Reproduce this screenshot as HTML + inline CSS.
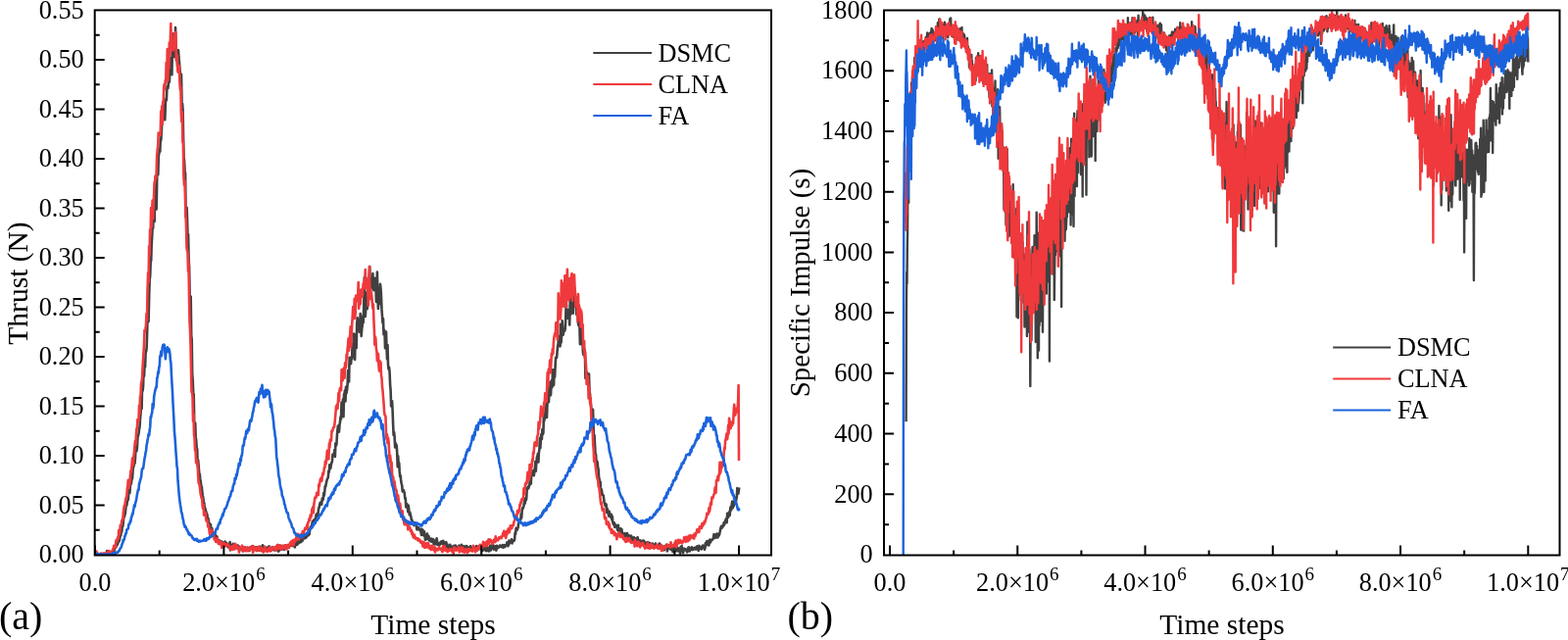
<!DOCTYPE html><html><head><meta charset="utf-8"><title>Thrust and specific impulse</title><style>html,body{margin:0;padding:0;background:#fff;width:1600px;height:653px;overflow:hidden}svg text{font-family:'Liberation Serif','Times New Roman',serif;fill:#000}</style></head><body>
<svg width="1600" height="653" viewBox="0 0 1600 653" style="position:absolute;left:0;top:0">
<rect x="0" y="0" width="1600" height="653" fill="#fff"/>
<defs><clipPath id="cl"><rect x="96.7" y="10.4" width="690.3" height="556.1"/></clipPath><clipPath id="cr"><rect x="902.0" y="10.5" width="689.5" height="556.0"/></clipPath></defs>
<g clip-path="url(#cl)"><polyline points="97.0,566.0 97.5,566.0 98.0,566.0 98.5,564.1 99.0,566.0 99.5,566.0 100.0,565.1 100.5,566.0 101.0,566.0 101.6,566.0 102.1,565.9 102.6,566.0 103.1,564.8 103.6,565.6 104.1,565.1 104.6,566.0 105.1,565.8 105.6,565.4 106.1,564.7 106.6,565.4 107.1,565.7 107.6,565.3 108.1,566.0 108.6,566.0 109.1,562.1 109.7,562.9 110.2,565.3 110.7,564.9 111.2,565.7 111.7,565.6 112.2,566.0 112.7,563.3 113.2,564.1 113.7,566.0 114.2,565.0 114.7,564.7 115.2,562.6 115.7,560.3 116.2,562.4 116.7,561.5 117.2,558.5 117.7,558.4 118.3,558.4 118.8,555.9 119.3,556.3 119.8,555.5 120.3,554.1 120.8,551.8 121.3,552.5 121.8,551.6 122.3,548.9 122.8,544.9 123.3,546.2 123.8,541.5 124.3,542.3 124.8,536.1 125.3,537.1 125.8,532.9 126.3,527.9 126.9,527.1 127.4,525.2 127.9,523.1 128.4,517.7 128.9,514.8 129.4,515.4 129.9,511.2 130.4,510.5 130.9,509.3 131.4,500.2 131.9,502.8 132.4,503.0 132.9,495.8 133.4,491.5 133.9,493.6 134.4,489.1 135.0,488.3 135.5,481.1 136.0,474.0 136.5,475.8 137.0,471.4 137.5,472.9 138.0,467.4 138.5,456.7 139.0,454.8 139.5,460.1 140.0,455.5 140.5,445.7 141.0,444.6 141.5,442.5 142.0,438.3 142.5,435.8 143.0,427.9 143.6,421.0 144.1,414.9 144.6,417.0 145.1,392.0 145.6,398.8 146.1,394.0 146.6,378.5 147.1,383.8 147.6,370.5 148.1,374.4 148.6,360.2 149.1,358.7 149.6,355.5 150.1,341.0 150.6,322.3 151.1,308.1 151.6,328.0 152.2,301.4 152.7,285.3 153.2,281.5 153.7,267.2 154.2,266.0 154.7,249.3 155.2,241.4 155.7,228.1 156.2,232.6 156.7,213.4 157.2,223.3 157.7,225.9 158.2,193.4 158.7,179.7 159.2,202.1 159.7,213.4 160.3,176.0 160.8,167.8 161.3,178.3 161.8,159.4 162.3,156.6 162.8,152.3 163.3,154.8 163.8,141.3 164.3,142.8 164.8,134.3 165.3,124.2 165.8,124.9 166.3,115.4 166.8,120.2 167.3,106.4 167.8,102.9 168.3,122.2 168.9,104.8 169.4,100.9 169.9,102.1 170.4,89.9 170.9,87.8 171.4,90.1 171.9,85.3 172.4,69.0 172.9,83.7 173.4,67.7 173.9,60.5 174.4,59.0 174.9,60.9 175.4,76.3 175.9,48.3 176.4,57.6 176.9,34.4 177.5,51.6 178.0,58.2 178.5,46.9 179.0,28.0 179.5,49.4 180.0,53.3 180.5,53.7 181.0,67.6 181.5,54.7 182.0,51.1 182.5,59.0 183.0,63.7 183.5,70.7 184.0,75.7 184.5,84.6 185.0,75.7 185.6,107.4 186.1,105.8 186.6,112.5 187.1,141.4 187.6,159.9 188.1,164.7 188.6,174.4 189.1,177.5 189.6,221.1 190.1,218.7 190.6,211.9 191.1,225.6 191.6,243.6 192.1,239.1 192.6,265.5 193.1,271.9 193.6,301.1 194.2,315.0 194.7,302.5 195.2,342.0 195.7,346.6 196.2,381.5 196.7,387.3 197.2,401.0 197.7,402.3 198.2,428.8 198.7,438.7 199.2,431.6 199.7,446.5 200.2,448.7 200.7,457.5 201.2,458.0 201.7,475.6 202.2,469.5 202.8,476.6 203.3,483.7 203.8,483.7 204.3,488.9 204.8,491.5 205.3,496.2 205.8,496.4 206.3,501.6 206.8,505.2 207.3,507.7 207.8,511.5 208.3,513.2 208.8,518.3 209.3,518.2 209.8,520.9 210.3,522.0 210.9,524.4 211.4,524.9 211.9,530.4 212.4,528.9 212.9,531.2 213.4,534.8 213.9,536.3 214.4,536.3 214.9,534.9 215.4,540.3 215.9,541.5 216.4,539.1 216.9,544.9 217.4,542.9 217.9,543.1 218.4,546.6 218.9,546.9 219.5,548.5 220.0,545.7 220.5,552.9 221.0,548.8 221.5,547.5 222.0,552.1 222.5,550.7 223.0,552.4 223.5,551.5 224.0,552.4 224.5,553.4 225.0,551.9 225.5,554.8 226.0,553.1 226.5,552.7 227.0,554.6 227.5,555.5 228.1,554.6 228.6,553.7 229.1,556.6 229.6,552.6 230.1,554.1 230.6,556.1 231.1,553.9 231.6,556.4 232.1,556.4 232.6,558.2 233.1,555.2 233.6,555.9 234.1,557.6 234.6,553.1 235.1,561.5 235.6,556.3 236.2,556.3 236.7,559.1 237.2,557.7 237.7,554.9 238.2,559.0 238.7,559.5 239.2,557.5 239.7,557.8 240.2,559.2 240.7,557.0 241.2,559.3 241.7,559.0 242.2,557.6 242.7,556.5 243.2,558.5 243.7,557.5 244.2,560.6 244.8,559.3 245.3,560.4 245.8,559.4 246.3,559.7 246.8,558.0 247.3,560.4 247.8,562.3 248.3,558.9 248.8,558.5 249.3,559.2 249.8,558.7 250.3,558.4 250.8,559.8 251.3,559.1 251.8,561.9 252.3,559.6 252.8,560.1 253.4,561.1 253.9,559.2 254.4,562.0 254.9,558.7 255.4,558.4 255.9,559.1 256.4,559.5 256.9,557.5 257.4,559.7 257.9,557.1 258.4,562.0 258.9,559.7 259.4,558.8 259.9,558.4 260.4,559.2 260.9,559.5 261.5,558.2 262.0,558.4 262.5,559.6 263.0,559.0 263.5,561.4 264.0,561.7 264.5,559.9 265.0,560.7 265.5,557.8 266.0,560.9 266.5,559.9 267.0,560.7 267.5,562.5 268.0,556.3 268.5,560.4 269.0,558.2 269.5,560.9 270.1,557.9 270.6,559.2 271.1,560.3 271.6,561.0 272.1,560.1 272.6,558.7 273.1,559.1 273.6,561.4 274.1,560.0 274.6,557.3 275.1,561.3 275.6,560.7 276.1,561.4 276.6,559.4 277.1,561.3 277.6,558.2 278.1,560.8 278.7,559.1 279.2,560.9 279.7,561.4 280.2,558.6 280.7,559.6 281.2,559.7 281.7,561.5 282.2,560.7 282.7,557.5 283.2,560.1 283.7,560.5 284.2,562.7 284.7,556.4 285.2,558.2 285.7,561.1 286.2,556.7 286.8,556.8 287.3,559.5 287.8,560.3 288.3,557.4 288.8,559.3 289.3,558.5 289.8,560.7 290.3,558.1 290.8,559.6 291.3,556.4 291.8,557.4 292.3,557.5 292.8,559.4 293.3,558.4 293.8,556.0 294.3,558.3 294.8,558.3 295.4,556.7 295.9,556.3 296.4,556.3 296.9,553.6 297.4,556.6 297.9,556.6 298.4,554.5 298.9,557.1 299.4,553.2 299.9,554.4 300.4,554.3 300.9,558.4 301.4,551.9 301.9,555.4 302.4,555.8 302.9,554.6 303.4,555.7 304.0,551.5 304.5,548.9 305.0,554.1 305.5,550.2 306.0,551.5 306.5,549.5 307.0,553.3 307.5,552.6 308.0,549.3 308.5,552.0 309.0,550.1 309.5,549.2 310.0,549.1 310.5,548.2 311.0,549.3 311.5,548.2 312.1,546.3 312.6,548.4 313.1,544.4 313.6,545.5 314.1,545.0 314.6,546.4 315.1,541.3 315.6,545.3 316.1,540.9 316.6,539.2 317.1,537.4 317.6,538.5 318.1,536.4 318.6,533.3 319.1,532.0 319.6,531.9 320.1,530.5 320.7,532.6 321.2,532.0 321.7,529.8 322.2,527.5 322.7,524.6 323.2,524.4 323.7,524.9 324.2,526.4 324.7,522.4 325.2,518.4 325.7,517.8 326.2,515.1 326.7,512.9 327.2,512.8 327.7,512.1 328.2,514.7 328.8,508.4 329.3,510.2 329.8,509.6 330.3,503.1 330.8,505.7 331.3,501.3 331.8,496.1 332.3,496.3 332.8,493.6 333.3,490.9 333.8,489.1 334.3,488.2 334.8,487.2 335.3,480.7 335.8,481.7 336.3,474.2 336.8,478.4 337.4,477.7 337.9,473.8 338.4,472.1 338.9,471.1 339.4,463.9 339.9,463.3 340.4,464.1 340.9,463.9 341.4,459.0 341.9,465.9 342.4,452.2 342.9,454.8 343.4,453.6 343.9,444.7 344.4,438.9 344.9,434.5 345.4,438.5 346.0,440.6 346.5,433.8 347.0,430.8 347.5,425.3 348.0,427.7 348.5,410.7 349.0,421.0 349.5,417.5 350.0,407.3 350.5,425.1 351.0,402.3 351.5,401.6 352.0,398.3 352.5,409.5 353.0,394.7 353.5,401.4 354.1,397.9 354.6,392.3 355.1,378.0 355.6,378.1 356.1,389.4 356.6,365.0 357.1,364.8 357.6,366.8 358.1,371.2 358.6,364.8 359.1,366.2 359.6,350.7 360.1,363.7 360.6,359.0 361.1,340.6 361.6,362.8 362.1,366.9 362.7,341.5 363.2,346.2 363.7,355.0 364.2,330.4 364.7,324.4 365.2,328.1 365.7,332.3 366.2,330.5 366.7,338.6 367.2,334.2 367.7,320.0 368.2,333.6 368.7,343.0 369.2,335.8 369.7,332.5 370.2,322.5 370.7,329.1 371.3,310.4 371.8,283.0 372.3,314.2 372.8,323.0 373.3,314.9 373.8,298.7 374.3,307.4 374.8,314.9 375.3,291.5 375.8,294.3 376.3,290.2 376.8,281.5 377.3,272.0 377.8,301.4 378.3,294.3 378.8,287.6 379.4,284.5 379.9,287.3 380.4,279.0 380.9,294.2 381.4,296.2 381.9,296.1 382.4,283.8 382.9,290.3 383.4,289.2 383.9,307.9 384.4,294.6 384.9,277.5 385.4,299.7 385.9,314.9 386.4,306.2 386.9,310.3 387.4,305.2 388.0,289.8 388.5,294.1 389.0,302.3 389.5,315.4 390.0,322.5 390.5,329.3 391.0,325.1 391.5,341.1 392.0,336.5 392.5,338.4 393.0,355.2 393.5,346.0 394.0,338.5 394.5,353.6 395.0,366.2 395.5,352.1 396.0,371.8 396.6,376.9 397.1,374.8 397.6,380.2 398.1,392.5 398.6,397.8 399.1,414.3 399.6,414.7 400.1,409.3 400.6,419.0 401.1,432.7 401.6,443.9 402.1,441.1 402.6,445.1 403.1,456.5 403.6,452.1 404.1,454.9 404.7,454.2 405.2,461.8 405.7,476.1 406.2,465.4 406.7,474.2 407.2,472.2 407.7,480.7 408.2,486.2 408.7,485.1 409.2,491.0 409.7,493.6 410.2,495.2 410.7,501.5 411.2,500.9 411.7,500.0 412.2,501.2 412.7,502.9 413.3,508.5 413.8,508.3 414.3,517.4 414.8,517.5 415.3,514.2 415.8,515.7 416.3,522.2 416.8,515.7 417.3,520.6 417.8,525.3 418.3,522.8 418.8,525.2 419.3,526.9 419.8,530.2 420.3,530.4 420.8,532.0 421.3,533.4 421.9,533.2 422.4,536.1 422.9,533.6 423.4,533.2 423.9,533.4 424.4,534.4 424.9,537.0 425.4,540.4 425.9,539.6 426.4,539.0 426.9,538.2 427.4,540.1 427.9,540.9 428.4,541.1 428.9,539.8 429.4,542.4 430.0,546.0 430.5,539.8 431.0,544.3 431.5,540.9 432.0,546.1 432.5,544.6 433.0,542.3 433.5,547.1 434.0,550.9 434.5,547.9 435.0,550.3 435.5,548.2 436.0,544.5 436.5,550.0 437.0,548.6 437.5,546.9 438.0,551.5 438.6,550.9 439.1,549.6 439.6,552.5 440.1,549.5 440.6,552.7 441.1,550.0 441.6,553.0 442.1,550.2 442.6,555.2 443.1,553.2 443.6,555.5 444.1,551.6 444.6,552.5 445.1,555.1 445.6,549.3 446.1,552.0 446.6,556.0 447.2,555.2 447.7,556.3 448.2,554.2 448.7,555.9 449.2,553.8 449.7,552.9 450.2,552.5 450.7,554.6 451.2,554.8 451.7,554.8 452.2,551.8 452.7,552.8 453.2,555.4 453.7,557.0 454.2,555.6 454.7,555.3 455.3,553.0 455.8,560.4 456.3,555.2 456.8,560.0 457.3,559.9 457.8,557.8 458.3,556.5 458.8,557.7 459.3,555.7 459.8,558.1 460.3,557.7 460.8,558.7 461.3,559.4 461.8,560.8 462.3,557.3 462.8,559.8 463.3,556.8 463.9,556.7 464.4,557.2 464.9,556.6 465.4,559.9 465.9,559.9 466.4,560.5 466.9,558.4 467.4,558.9 467.9,557.6 468.4,556.7 468.9,559.3 469.4,559.1 469.9,556.9 470.4,559.7 470.9,555.9 471.4,558.5 471.9,557.8 472.5,558.0 473.0,557.2 473.5,560.5 474.0,560.0 474.5,561.0 475.0,559.3 475.5,557.1 476.0,558.6 476.5,557.3 477.0,560.0 477.5,561.3 478.0,559.9 478.5,558.5 479.0,558.9 479.5,559.8 480.0,557.2 480.6,559.8 481.1,559.9 481.6,558.8 482.1,559.0 482.6,560.0 483.1,558.4 483.6,558.5 484.1,561.0 484.6,560.2 485.1,562.5 485.6,558.3 486.1,557.1 486.6,561.4 487.1,561.4 487.6,558.8 488.1,557.6 488.6,559.9 489.2,557.2 489.7,559.4 490.2,556.5 490.7,559.6 491.2,556.6 491.7,559.6 492.2,562.3 492.7,559.5 493.2,561.1 493.7,558.8 494.2,558.4 494.7,557.4 495.2,561.5 495.7,559.7 496.2,562.3 496.7,557.8 497.2,559.3 497.8,559.7 498.3,561.8 498.8,562.5 499.3,558.5 499.8,557.6 500.3,556.6 500.8,561.5 501.3,559.2 501.8,558.2 502.3,559.1 502.8,555.2 503.3,556.3 503.8,560.6 504.3,559.6 504.8,559.2 505.3,557.2 505.9,559.8 506.4,561.6 506.9,556.7 507.4,558.6 507.9,557.8 508.4,559.0 508.9,558.3 509.4,557.9 509.9,556.5 510.4,557.8 510.9,556.7 511.4,557.3 511.9,557.3 512.4,558.4 512.9,556.1 513.4,556.4 513.9,558.6 514.5,556.2 515.0,556.0 515.5,557.7 516.0,556.5 516.5,556.0 517.0,556.0 517.5,553.2 518.0,555.9 518.5,557.2 519.0,555.6 519.5,551.5 520.0,554.5 520.5,552.0 521.0,552.8 521.5,553.1 522.0,550.2 522.5,554.4 523.1,551.3 523.6,552.3 524.1,551.3 524.6,551.7 525.1,550.3 525.6,543.5 526.1,545.0 526.6,538.7 527.1,540.6 527.6,540.9 528.1,539.5 528.6,538.5 529.1,533.8 529.6,533.4 530.1,531.1 530.6,531.5 531.2,530.3 531.7,524.3 532.2,528.5 532.7,521.0 533.2,518.2 533.7,518.5 534.2,517.1 534.7,514.8 535.2,510.0 535.7,513.7 536.2,508.2 536.7,510.5 537.2,508.5 537.7,499.3 538.2,498.3 538.7,496.5 539.2,498.5 539.8,496.1 540.3,495.1 540.8,489.9 541.3,492.1 541.8,493.6 542.3,482.8 542.8,484.9 543.3,484.7 543.8,481.7 544.3,479.8 544.8,485.2 545.3,481.9 545.8,478.7 546.3,471.0 546.8,480.7 547.3,471.8 547.9,466.3 548.4,465.3 548.9,462.8 549.4,471.4 549.9,461.5 550.4,458.7 550.9,446.9 551.4,456.9 551.9,446.2 552.4,443.0 552.9,448.1 553.4,438.1 553.9,443.2 554.4,441.6 554.9,423.9 555.4,429.1 555.9,418.6 556.5,423.6 557.0,426.1 557.5,410.9 558.0,425.9 558.5,411.5 559.0,403.9 559.5,407.4 560.0,410.3 560.5,394.9 561.0,400.7 561.5,389.7 562.0,403.2 562.5,394.2 563.0,388.0 563.5,394.9 564.0,377.3 564.5,380.5 565.1,393.0 565.6,377.1 566.1,384.6 566.6,373.9 567.1,364.8 567.6,365.3 568.1,364.9 568.6,358.7 569.1,353.1 569.6,350.8 570.1,343.1 570.6,352.8 571.1,352.7 571.6,353.3 572.1,331.0 572.6,349.4 573.2,340.8 573.7,327.4 574.2,337.7 574.7,341.7 575.2,337.5 575.7,337.4 576.2,337.6 576.7,335.5 577.2,326.0 577.7,306.9 578.2,316.6 578.7,324.6 579.2,316.0 579.7,324.7 580.2,324.4 580.7,316.6 581.2,331.5 581.8,304.9 582.3,320.8 582.8,307.7 583.3,304.9 583.8,317.1 584.3,306.4 584.8,319.7 585.3,301.8 585.8,312.7 586.3,305.0 586.8,310.7 587.3,309.8 587.8,303.9 588.3,320.9 588.8,305.9 589.3,310.3 589.8,328.8 590.4,332.0 590.9,332.1 591.4,332.2 591.9,351.2 592.4,325.4 592.9,332.3 593.4,333.3 593.9,351.3 594.4,349.7 594.9,359.4 595.4,361.9 595.9,356.7 596.4,356.3 596.9,359.2 597.4,386.0 597.9,381.1 598.5,382.3 599.0,379.8 599.5,384.4 600.0,387.1 600.5,390.8 601.0,381.5 601.5,399.7 602.0,401.5 602.5,409.2 603.0,412.7 603.5,420.5 604.0,420.0 604.5,429.3 605.0,417.9 605.5,431.4 606.0,451.3 606.5,444.1 607.1,454.7 607.6,464.8 608.1,463.7 608.6,474.6 609.1,470.2 609.6,471.7 610.1,476.9 610.6,478.8 611.1,487.2 611.6,488.8 612.1,493.4 612.6,491.6 613.1,504.7 613.6,499.0 614.1,501.3 614.6,504.7 615.1,504.7 615.7,505.5 616.2,509.2 616.7,513.0 617.2,514.0 617.7,516.2 618.2,514.0 618.7,515.0 619.2,522.9 619.7,519.0 620.2,522.0 620.7,523.8 621.2,526.6 621.7,521.9 622.2,525.0 622.7,526.3 623.2,527.7 623.8,524.7 624.3,530.3 624.8,526.8 625.3,533.1 625.8,534.5 626.3,535.5 626.8,533.2 627.3,537.8 627.8,535.4 628.3,535.5 628.8,536.6 629.3,537.5 629.8,539.7 630.3,541.2 630.8,535.7 631.3,539.6 631.8,543.2 632.4,542.1 632.9,543.2 633.4,539.3 633.9,545.0 634.4,540.0 634.9,544.1 635.4,546.9 635.9,548.3 636.4,545.8 636.9,546.9 637.4,544.1 637.9,544.7 638.4,548.4 638.9,546.3 639.4,546.3 639.9,544.0 640.4,547.4 641.0,548.6 641.5,546.0 642.0,546.8 642.5,551.2 643.0,548.7 643.5,548.0 644.0,546.6 644.5,547.8 645.0,548.7 645.5,552.1 646.0,548.5 646.5,553.3 647.0,548.3 647.5,549.6 648.0,552.1 648.5,550.2 649.1,549.3 649.6,550.8 650.1,552.1 650.6,548.2 651.1,551.1 651.6,551.6 652.1,551.2 652.6,553.5 653.1,551.2 653.6,551.8 654.1,552.7 654.6,554.1 655.1,552.5 655.6,555.8 656.1,551.6 656.6,555.7 657.1,551.9 657.7,553.3 658.2,554.4 658.7,557.6 659.2,555.6 659.7,553.5 660.2,556.6 660.7,554.1 661.2,553.2 661.7,555.5 662.2,555.0 662.7,556.6 663.2,554.1 663.7,555.9 664.2,556.4 664.7,555.9 665.2,555.5 665.7,554.5 666.3,557.4 666.8,556.2 667.3,556.9 667.8,555.6 668.3,556.3 668.8,554.6 669.3,556.7 669.8,557.9 670.3,556.9 670.8,558.3 671.3,557.5 671.8,559.4 672.3,556.9 672.8,554.5 673.3,558.1 673.8,557.2 674.4,556.0 674.9,558.8 675.4,558.3 675.9,558.7 676.4,557.5 676.9,558.5 677.4,558.7 677.9,561.2 678.4,557.3 678.9,558.5 679.4,559.2 679.9,555.9 680.4,556.2 680.9,562.4 681.4,556.1 681.9,560.0 682.4,557.7 683.0,558.0 683.5,556.1 684.0,557.9 684.5,560.7 685.0,557.3 685.5,560.5 686.0,560.1 686.5,562.9 687.0,559.0 687.5,561.9 688.0,561.3 688.5,559.6 689.0,557.4 689.5,562.5 690.0,558.1 690.5,559.5 691.0,561.8 691.6,562.2 692.1,559.2 692.6,560.5 693.1,560.2 693.6,562.5 694.1,564.7 694.6,557.9 695.1,562.3 695.6,557.0 696.1,560.9 696.6,559.2 697.1,564.1 697.6,561.2 698.1,559.8 698.6,560.2 699.1,560.1 699.7,561.3 700.2,560.7 700.7,562.0 701.2,563.3 701.7,562.0 702.2,558.9 702.7,558.3 703.2,559.6 703.7,562.4 704.2,560.1 704.7,559.5 705.2,560.7 705.7,558.2 706.2,558.5 706.7,561.1 707.2,559.7 707.7,559.3 708.3,560.4 708.8,558.9 709.3,558.6 709.8,558.9 710.3,560.5 710.8,559.5 711.3,557.3 711.8,558.6 712.3,560.0 712.8,561.9 713.3,556.8 713.8,559.1 714.3,558.0 714.8,559.6 715.3,558.8 715.8,560.4 716.3,558.6 716.9,556.7 717.4,556.5 717.9,557.9 718.4,557.7 718.9,560.8 719.4,559.3 719.9,554.1 720.4,556.4 720.9,553.2 721.4,552.2 721.9,556.0 722.4,555.3 722.9,552.1 723.4,556.5 723.9,551.3 724.4,550.5 725.0,553.4 725.5,552.1 726.0,550.9 726.5,550.6 727.0,550.7 727.5,549.5 728.0,549.0 728.5,545.1 729.0,545.7 729.5,549.0 730.0,545.8 730.5,547.7 731.0,548.5 731.5,544.6 732.0,545.3 732.5,548.4 733.0,544.8 733.6,546.5 734.1,545.2 734.6,542.8 735.1,540.1 735.6,538.2 736.1,536.9 736.6,538.8 737.1,538.0 737.6,536.0 738.1,536.9 738.6,533.4 739.1,535.5 739.6,532.6 740.1,531.4 740.6,530.4 741.1,529.1 741.6,533.3 742.2,523.9 742.7,526.5 743.2,527.7 743.7,525.5 744.2,522.3 744.7,525.8 745.2,518.6 745.7,517.0 746.2,520.4 746.7,514.8 747.2,511.6 747.7,518.3 748.2,517.0 748.7,515.9 749.2,511.7 749.7,512.1 750.3,507.8 750.8,513.4 751.3,509.3 751.8,507.4 752.3,498.0 752.8,503.8 753.3,503.8 753.8,500.9 754.3,497.4" fill="none" stroke="#404040" stroke-width="2.6" stroke-linejoin="round" /><polyline points="97.0,566.0 97.5,565.2 98.0,565.3 98.5,562.5 99.0,566.0 99.5,566.0 100.0,565.4 100.5,566.0 101.0,566.0 101.5,565.1 102.1,566.0 102.6,565.4 103.1,565.4 103.6,564.7 104.1,566.0 104.6,565.6 105.1,566.0 105.6,564.9 106.1,565.9 106.6,564.4 107.1,566.0 107.6,565.9 108.1,566.0 108.6,566.0 109.1,564.0 109.6,566.0 110.1,566.0 110.6,562.5 111.1,562.1 111.6,562.2 112.2,565.3 112.7,563.9 113.2,565.0 113.7,563.9 114.2,562.5 114.7,561.8 115.2,560.2 115.7,561.0 116.2,556.8 116.7,556.9 117.2,557.0 117.7,558.6 118.2,552.8 118.7,550.9 119.2,550.5 119.7,551.9 120.2,548.0 120.7,549.5 121.2,541.0 121.8,545.3 122.3,542.9 122.8,535.9 123.3,536.1 123.8,535.5 124.3,530.9 124.8,530.1 125.3,530.4 125.8,523.5 126.3,519.7 126.8,516.0 127.3,516.9 127.8,512.3 128.3,509.8 128.8,507.4 129.3,506.9 129.8,499.5 130.3,495.4 130.8,489.9 131.4,498.1 131.9,491.9 132.4,493.7 132.9,485.8 133.4,480.3 133.9,481.5 134.4,476.5 134.9,468.9 135.4,467.0 135.9,474.2 136.4,465.3 136.9,462.1 137.4,455.6 137.9,450.1 138.4,453.4 138.9,444.9 139.4,437.6 139.9,436.4 140.4,428.1 140.9,429.1 141.5,429.5 142.0,413.9 142.5,421.6 143.0,404.4 143.5,403.8 144.0,392.0 144.5,389.9 145.0,385.6 145.5,376.0 146.0,367.2 146.5,359.9 147.0,351.0 147.5,336.9 148.0,338.6 148.5,335.4 149.0,331.1 149.5,320.1 150.0,326.7 150.5,296.7 151.1,278.4 151.6,288.1 152.1,251.2 152.6,259.7 153.1,234.4 153.6,239.2 154.1,212.0 154.6,232.0 155.1,217.1 155.6,204.6 156.1,223.3 156.6,210.0 157.1,198.3 157.6,185.7 158.1,186.4 158.6,179.7 159.1,182.0 159.6,177.1 160.1,158.3 160.6,153.8 161.2,148.4 161.7,135.6 162.2,137.0 162.7,136.0 163.2,137.5 163.7,137.8 164.2,113.6 164.7,121.3 165.2,108.2 165.7,126.9 166.2,104.1 166.7,105.4 167.2,88.7 167.7,86.0 168.2,91.2 168.7,82.1 169.2,84.9 169.7,63.9 170.2,80.1 170.8,50.0 171.3,82.1 171.8,60.3 172.3,69.4 172.8,43.6 173.3,56.3 173.8,40.8 174.3,24.0 174.8,44.4 175.3,41.2 175.8,46.6 176.3,51.4 176.8,51.1 177.3,45.1 177.8,34.4 178.3,40.5 178.8,47.7 179.3,32.8 179.8,61.5 180.4,55.7 180.9,58.8 181.4,72.9 181.9,73.9 182.4,73.9 182.9,67.4 183.4,84.5 183.9,91.3 184.4,89.1 184.9,117.1 185.4,124.1 185.9,114.2 186.4,145.3 186.9,144.7 187.4,178.9 187.9,188.8 188.4,184.5 188.9,198.9 189.4,219.4 189.9,226.9 190.5,252.9 191.0,255.9 191.5,257.4 192.0,276.8 192.5,267.0 193.0,304.6 193.5,327.7 194.0,337.8 194.5,352.2 195.0,377.8 195.5,399.9 196.0,400.6 196.5,404.6 197.0,429.8 197.5,422.4 198.0,443.4 198.5,446.2 199.0,459.5 199.5,457.8 200.1,471.9 200.6,472.8 201.1,469.9 201.6,473.6 202.1,483.6 202.6,492.7 203.1,492.4 203.6,495.6 204.1,497.9 204.6,503.7 205.1,505.6 205.6,508.2 206.1,507.8 206.6,516.0 207.1,518.9 207.6,515.1 208.1,525.7 208.6,524.4 209.1,523.9 209.7,523.1 210.2,530.2 210.7,531.7 211.2,531.2 211.7,530.5 212.2,537.3 212.7,535.6 213.2,537.2 213.7,543.5 214.2,545.4 214.7,544.0 215.2,542.1 215.7,545.6 216.2,540.6 216.7,546.5 217.2,545.7 217.7,545.5 218.2,545.7 218.7,550.5 219.2,550.3 219.8,551.0 220.3,552.7 220.8,550.0 221.3,549.8 221.8,549.2 222.3,552.3 222.8,554.7 223.3,553.4 223.8,555.2 224.3,552.3 224.8,553.9 225.3,553.6 225.8,553.1 226.3,558.8 226.8,557.3 227.3,554.7 227.8,554.9 228.3,556.4 228.8,554.2 229.4,557.5 229.9,554.8 230.4,556.5 230.9,555.5 231.4,556.6 231.9,555.3 232.4,555.0 232.9,556.1 233.4,556.7 233.9,557.5 234.4,558.2 234.9,560.7 235.4,559.6 235.9,557.9 236.4,559.6 236.9,557.4 237.4,561.0 237.9,559.6 238.4,556.6 238.9,560.1 239.5,560.3 240.0,554.9 240.5,557.8 241.0,558.4 241.5,556.1 242.0,557.5 242.5,557.8 243.0,560.2 243.5,559.9 244.0,563.5 244.5,558.8 245.0,561.4 245.5,559.7 246.0,560.0 246.5,557.7 247.0,556.6 247.5,558.4 248.0,560.9 248.5,562.3 249.1,560.7 249.6,560.6 250.1,558.5 250.6,562.3 251.1,562.0 251.6,559.1 252.1,559.9 252.6,558.4 253.1,562.3 253.6,560.7 254.1,559.9 254.6,560.7 255.1,560.8 255.6,559.5 256.1,558.2 256.6,558.1 257.1,557.4 257.6,560.9 258.1,563.8 258.7,557.6 259.2,560.5 259.7,560.9 260.2,558.8 260.7,560.7 261.2,558.6 261.7,562.3 262.2,559.4 262.7,560.6 263.2,561.5 263.7,559.7 264.2,557.6 264.7,559.6 265.2,561.7 265.7,560.3 266.2,560.8 266.7,558.8 267.2,560.7 267.7,561.6 268.2,560.6 268.8,563.5 269.3,560.2 269.8,558.9 270.3,557.9 270.8,562.3 271.3,560.4 271.8,562.1 272.3,561.2 272.8,563.0 273.3,562.4 273.8,559.8 274.3,560.8 274.8,562.0 275.3,558.3 275.8,562.5 276.3,562.1 276.8,561.7 277.3,559.8 277.8,560.5 278.4,558.2 278.9,560.0 279.4,558.9 279.9,559.9 280.4,558.9 280.9,560.1 281.4,561.5 281.9,557.4 282.4,560.9 282.9,556.1 283.4,555.8 283.9,559.0 284.4,559.1 284.9,559.7 285.4,556.2 285.9,558.7 286.4,558.9 286.9,560.7 287.4,558.4 287.9,559.3 288.5,556.7 289.0,557.9 289.5,557.4 290.0,559.2 290.5,556.2 291.0,556.4 291.5,558.5 292.0,560.4 292.5,557.9 293.0,557.5 293.5,556.2 294.0,558.4 294.5,557.2 295.0,559.0 295.5,556.3 296.0,553.7 296.5,554.1 297.0,553.0 297.5,552.2 298.1,556.3 298.6,555.2 299.1,551.2 299.6,556.3 300.1,553.1 300.6,550.6 301.1,552.7 301.6,551.5 302.1,549.8 302.6,547.2 303.1,550.6 303.6,550.7 304.1,544.9 304.6,550.4 305.1,550.1 305.6,547.5 306.1,548.2 306.6,546.9 307.1,545.3 307.7,545.7 308.2,548.6 308.7,542.3 309.2,545.2 309.7,544.4 310.2,541.8 310.7,541.6 311.2,538.7 311.7,538.8 312.2,539.7 312.7,539.0 313.2,535.6 313.7,540.2 314.2,533.3 314.7,533.1 315.2,530.9 315.7,529.0 316.2,530.8 316.7,525.6 317.2,527.8 317.8,525.9 318.3,519.5 318.8,522.7 319.3,517.3 319.8,523.2 320.3,514.8 320.8,511.9 321.3,507.8 321.8,507.7 322.3,507.9 322.8,505.2 323.3,502.9 323.8,502.6 324.3,502.3 324.8,505.3 325.3,494.4 325.8,496.0 326.3,492.9 326.8,489.3 327.4,488.2 327.9,487.4 328.4,490.7 328.9,485.7 329.4,482.5 329.9,484.4 330.4,481.2 330.9,477.2 331.4,477.3 331.9,470.6 332.4,473.8 332.9,471.0 333.4,465.3 333.9,459.7 334.4,468.6 334.9,460.4 335.4,468.3 335.9,452.5 336.4,456.7 336.9,448.6 337.5,449.4 338.0,449.6 338.5,439.5 339.0,440.3 339.5,439.1 340.0,436.3 340.5,436.2 341.0,435.9 341.5,432.5 342.0,427.0 342.5,421.2 343.0,414.4 343.5,414.0 344.0,412.6 344.5,417.0 345.0,408.5 345.5,400.8 346.0,409.2 346.5,398.2 347.1,395.7 347.6,396.4 348.1,398.2 348.6,377.2 349.1,382.7 349.6,388.4 350.1,382.1 350.6,376.0 351.1,375.3 351.6,385.8 352.1,370.3 352.6,375.7 353.1,373.5 353.6,361.8 354.1,365.5 354.6,356.1 355.1,352.0 355.6,345.2 356.1,357.7 356.7,345.0 357.2,340.9 357.7,333.3 358.2,353.8 358.7,342.0 359.2,331.6 359.7,323.6 360.2,313.1 360.7,325.4 361.2,322.4 361.7,304.7 362.2,324.8 362.7,319.1 363.2,301.6 363.7,303.6 364.2,303.2 364.7,307.0 365.2,302.8 365.7,288.0 366.2,314.8 366.8,303.2 367.3,310.6 367.8,309.6 368.3,295.6 368.8,299.8 369.3,302.8 369.8,302.5 370.3,293.7 370.8,289.1 371.3,294.6 371.8,286.6 372.3,288.5 372.8,275.0 373.3,293.8 373.8,283.8 374.3,288.1 374.8,292.9 375.3,296.8 375.8,311.8 376.4,297.6 376.9,272.0 377.4,299.4 377.9,294.3 378.4,305.1 378.9,298.6 379.4,302.7 379.9,309.7 380.4,314.5 380.9,310.4 381.4,326.2 381.9,337.1 382.4,351.6 382.9,343.6 383.4,346.1 383.9,356.0 384.4,358.1 384.9,368.2 385.4,362.9 386.0,361.0 386.5,373.8 387.0,378.5 387.5,368.2 388.0,377.1 388.5,369.6 389.0,383.5 389.5,385.3 390.0,394.7 390.5,398.0 391.0,405.0 391.5,410.6 392.0,419.2 392.5,423.0 393.0,423.9 393.5,425.3 394.0,442.7 394.5,447.8 395.0,443.2 395.5,452.1 396.1,446.9 396.6,451.0 397.1,460.4 397.6,471.2 398.1,464.7 398.6,469.1 399.1,481.4 399.6,471.7 400.1,483.7 400.6,486.0 401.1,486.4 401.6,490.3 402.1,500.2 402.6,491.3 403.1,496.3 403.6,498.8 404.1,499.8 404.6,500.2 405.1,510.3 405.7,508.6 406.2,505.3 406.7,510.0 407.2,514.6 407.7,516.3 408.2,513.7 408.7,518.6 409.2,521.0 409.7,522.9 410.2,524.4 410.7,521.2 411.2,530.3 411.7,528.2 412.2,532.7 412.7,535.2 413.2,531.2 413.7,530.3 414.2,535.2 414.7,534.2 415.2,534.7 415.8,534.7 416.3,540.3 416.8,537.5 417.3,536.8 417.8,539.2 418.3,538.2 418.8,541.9 419.3,541.4 419.8,540.8 420.3,545.0 420.8,543.1 421.3,546.6 421.8,548.3 422.3,545.6 422.8,545.6 423.3,547.8 423.8,549.7 424.3,548.4 424.8,549.2 425.4,549.3 425.9,550.5 426.4,551.5 426.9,549.4 427.4,550.3 427.9,551.7 428.4,550.8 428.9,552.7 429.4,553.8 429.9,553.2 430.4,552.5 430.9,552.5 431.4,557.4 431.9,556.2 432.4,553.0 432.9,553.8 433.4,558.8 433.9,558.5 434.4,556.3 435.0,558.4 435.5,554.1 436.0,556.9 436.5,558.3 437.0,554.2 437.5,556.2 438.0,559.0 438.5,559.8 439.0,557.1 439.5,558.7 440.0,561.1 440.5,558.0 441.0,556.6 441.5,558.9 442.0,558.5 442.5,561.4 443.0,559.7 443.5,558.3 444.0,563.5 444.5,559.0 445.1,560.7 445.6,561.1 446.1,561.3 446.6,560.4 447.1,561.2 447.6,560.2 448.1,558.1 448.6,560.1 449.1,560.1 449.6,560.2 450.1,560.8 450.6,559.6 451.1,562.7 451.6,563.2 452.1,557.3 452.6,560.8 453.1,559.7 453.6,557.0 454.1,561.6 454.7,560.0 455.2,560.4 455.7,560.0 456.2,562.8 456.7,563.0 457.2,561.6 457.7,562.2 458.2,561.0 458.7,561.5 459.2,560.1 459.7,561.3 460.2,560.2 460.7,561.9 461.2,562.7 461.7,561.9 462.2,563.3 462.7,565.3 463.2,558.2 463.7,561.5 464.2,560.6 464.8,560.8 465.3,559.4 465.8,561.6 466.3,561.2 466.8,560.6 467.3,561.2 467.8,560.7 468.3,558.0 468.8,563.3 469.3,561.1 469.8,560.1 470.3,562.1 470.8,560.6 471.3,558.2 471.8,562.9 472.3,559.0 472.8,561.2 473.3,561.7 473.8,563.6 474.4,563.3 474.9,561.7 475.4,560.2 475.9,560.7 476.4,562.9 476.9,564.0 477.4,562.0 477.9,560.1 478.4,562.6 478.9,560.4 479.4,560.3 479.9,560.4 480.4,561.7 480.9,561.1 481.4,562.2 481.9,562.6 482.4,561.3 482.9,556.7 483.4,557.6 484.0,560.4 484.5,560.0 485.0,563.4 485.5,559.9 486.0,559.5 486.5,561.1 487.0,561.2 487.5,558.9 488.0,559.8 488.5,557.0 489.0,557.0 489.5,560.4 490.0,555.7 490.5,559.3 491.0,558.7 491.5,558.6 492.0,558.5 492.5,557.7 493.0,552.8 493.5,554.5 494.1,554.9 494.6,557.3 495.1,553.5 495.6,554.0 496.1,554.4 496.6,557.1 497.1,552.1 497.6,552.0 498.1,555.3 498.6,550.2 499.1,554.4 499.6,552.8 500.1,550.6 500.6,552.5 501.1,551.2 501.6,553.1 502.1,553.3 502.6,555.1 503.1,552.2 503.7,552.2 504.2,550.7 504.7,551.5 505.2,553.2 505.7,547.4 506.2,552.0 506.7,549.5 507.2,550.4 507.7,550.6 508.2,551.3 508.7,549.8 509.2,548.3 509.7,549.3 510.2,548.4 510.7,547.7 511.2,548.2 511.7,549.1 512.2,547.3 512.7,547.0 513.3,543.7 513.8,545.7 514.3,541.7 514.8,546.6 515.3,542.7 515.8,546.9 516.3,549.0 516.8,542.4 517.3,545.6 517.8,543.2 518.3,540.6 518.8,539.4 519.3,541.9 519.8,543.2 520.3,540.1 520.8,536.3 521.3,536.5 521.8,537.1 522.3,539.1 522.8,536.4 523.4,535.5 523.9,536.1 524.4,532.5 524.9,531.5 525.4,530.1 525.9,525.7 526.4,528.9 526.9,527.5 527.4,527.4 527.9,521.4 528.4,520.8 528.9,523.3 529.4,520.6 529.9,521.6 530.4,514.9 530.9,515.9 531.4,512.1 531.9,512.9 532.4,509.2 533.0,510.1 533.5,509.9 534.0,507.1 534.5,498.3 535.0,504.2 535.5,500.9 536.0,494.5 536.5,492.9 537.0,493.6 537.5,493.3 538.0,487.8 538.5,481.8 539.0,486.0 539.5,483.5 540.0,489.4 540.5,474.1 541.0,485.8 541.5,481.1 542.0,473.7 542.5,477.0 543.1,469.0 543.6,470.5 544.1,461.6 544.6,462.8 545.1,456.2 545.6,451.6 546.1,454.9 546.6,451.0 547.1,454.1 547.6,454.9 548.1,445.9 548.6,444.4 549.1,442.4 549.6,430.7 550.1,437.5 550.6,433.5 551.1,430.4 551.6,422.2 552.1,414.7 552.7,421.1 553.2,421.4 553.7,424.4 554.2,420.5 554.7,419.6 555.2,410.6 555.7,412.4 556.2,401.4 556.7,403.6 557.2,402.7 557.7,409.8 558.2,392.7 558.7,380.0 559.2,394.4 559.7,377.1 560.2,379.1 560.7,374.7 561.2,367.5 561.7,380.4 562.3,372.3 562.8,360.8 563.3,362.8 563.8,356.1 564.3,361.0 564.8,350.5 565.3,344.4 565.8,342.0 566.3,340.1 566.8,342.5 567.3,329.2 567.8,332.5 568.3,333.5 568.8,346.4 569.3,330.9 569.8,299.3 570.3,313.9 570.8,312.5 571.3,316.4 571.8,325.4 572.4,315.9 572.9,286.4 573.4,308.0 573.9,304.4 574.4,305.5 574.9,312.6 575.4,289.1 575.9,307.5 576.4,281.3 576.9,295.4 577.4,297.2 577.9,313.4 578.4,285.9 578.9,274.7 579.4,298.2 579.9,286.0 580.4,306.1 580.9,285.6 581.4,284.1 582.0,303.2 582.5,292.8 583.0,282.0 583.5,279.1 584.0,306.9 584.5,286.8 585.0,300.0 585.5,284.3 586.0,280.3 586.5,293.2 587.0,298.4 587.5,312.5 588.0,303.1 588.5,308.2 589.0,309.4 589.5,327.8 590.0,300.0 590.5,321.2 591.0,311.5 591.5,318.4 592.1,315.0 592.6,333.5 593.1,317.0 593.6,320.8 594.1,334.3 594.6,330.9 595.1,350.0 595.6,356.1 596.1,348.0 596.6,364.5 597.1,359.0 597.6,368.6 598.1,374.2 598.6,391.9 599.1,384.2 599.6,383.3 600.1,388.3 600.6,406.4 601.1,394.0 601.7,406.3 602.2,412.1 602.7,406.2 603.2,422.8 603.7,436.5 604.2,438.8 604.7,439.9 605.2,453.6 605.7,458.8 606.2,470.6 606.7,464.4 607.2,470.3 607.7,476.0 608.2,479.4 608.7,484.1 609.2,487.2 609.7,489.0 610.2,489.8 610.7,496.4 611.3,497.3 611.8,501.4 612.3,505.7 612.8,511.2 613.3,514.6 613.8,512.3 614.3,517.7 614.8,520.8 615.3,520.7 615.8,518.9 616.3,519.6 616.8,527.5 617.3,529.3 617.8,529.4 618.3,528.2 618.8,534.3 619.3,535.1 619.8,533.9 620.3,534.7 620.8,532.6 621.4,538.2 621.9,535.0 622.4,539.6 622.9,540.4 623.4,540.0 623.9,543.9 624.4,540.3 624.9,542.9 625.4,543.9 625.9,543.2 626.4,542.3 626.9,546.2 627.4,544.9 627.9,544.1 628.4,544.5 628.9,545.5 629.4,550.3 629.9,546.1 630.4,545.7 631.0,544.4 631.5,544.4 632.0,543.4 632.5,547.9 633.0,547.8 633.5,546.0 634.0,545.4 634.5,547.9 635.0,547.8 635.5,546.5 636.0,549.9 636.5,549.8 637.0,549.7 637.5,551.5 638.0,549.0 638.5,553.0 639.0,548.8 639.5,551.8 640.0,552.3 640.5,550.8 641.1,552.1 641.6,549.3 642.1,549.1 642.6,551.7 643.1,550.9 643.6,553.5 644.1,552.7 644.6,553.9 645.1,553.5 645.6,553.5 646.1,553.5 646.6,552.8 647.1,552.8 647.6,557.5 648.1,550.8 648.6,553.8 649.1,556.1 649.6,555.2 650.1,557.2 650.7,555.8 651.2,552.8 651.7,554.6 652.2,553.0 652.7,557.3 653.2,558.3 653.7,555.2 654.2,557.1 654.7,555.6 655.2,554.0 655.7,555.9 656.2,554.1 656.7,556.0 657.2,557.5 657.7,558.5 658.2,559.6 658.7,557.0 659.2,558.0 659.7,558.5 660.3,558.8 660.8,553.9 661.3,556.8 661.8,559.5 662.3,556.4 662.8,558.7 663.3,559.7 663.8,555.3 664.3,558.1 664.8,558.8 665.3,558.4 665.8,555.9 666.3,559.0 666.8,557.5 667.3,559.8 667.8,559.1 668.3,557.5 668.8,558.7 669.3,557.3 669.8,557.3 670.4,555.8 670.9,558.0 671.4,559.7 671.9,558.6 672.4,558.3 672.9,557.3 673.4,557.5 673.9,559.6 674.4,555.9 674.9,561.7 675.4,558.3 675.9,561.9 676.4,560.3 676.9,557.7 677.4,559.6 677.9,558.8 678.4,559.1 678.9,559.6 679.4,557.3 680.0,557.1 680.5,557.4 681.0,555.7 681.5,557.4 682.0,558.0 682.5,557.9 683.0,557.7 683.5,556.5 684.0,558.3 684.5,553.3 685.0,556.0 685.5,555.9 686.0,557.8 686.5,557.2 687.0,557.3 687.5,555.8 688.0,557.2 688.5,553.7 689.0,555.4 689.6,551.5 690.1,558.0 690.6,557.6 691.1,553.6 691.6,553.0 692.1,550.7 692.6,551.5 693.1,554.3 693.6,553.6 694.1,551.1 694.6,552.6 695.1,552.2 695.6,554.0 696.1,554.3 696.6,552.4 697.1,552.8 697.6,552.3 698.1,548.3 698.6,552.2 699.1,551.5 699.7,552.8 700.2,547.7 700.7,552.3 701.2,549.4 701.7,550.8 702.2,552.2 702.7,546.8 703.2,546.7 703.7,550.8 704.2,546.3 704.7,546.2 705.2,548.9 705.7,546.9 706.2,548.5 706.7,547.1 707.2,546.0 707.7,547.6 708.2,549.6 708.7,544.5 709.3,547.3 709.8,546.1 710.3,543.5 710.8,543.7 711.3,540.2 711.8,540.4 712.3,541.8 712.8,540.5 713.3,543.0 713.8,537.5 714.3,538.5 714.8,537.3 715.3,537.5 715.8,539.0 716.3,534.2 716.8,537.1 717.3,533.8 717.8,533.5 718.3,535.1 718.8,531.9 719.4,532.8 719.9,530.8 720.4,529.2 720.9,527.7 721.4,523.7 721.9,524.3 722.4,524.9 722.9,523.5 723.4,518.3 723.9,522.3 724.4,519.8 724.9,513.8 725.4,512.7 725.9,514.8 726.4,507.5 726.9,508.3 727.4,508.3 727.9,506.3 728.4,504.5 729.0,503.8 729.5,498.3 730.0,497.1 730.5,502.6 731.0,490.0 731.5,490.8 732.0,490.5 732.5,486.0 733.0,490.2 733.5,484.4 734.0,484.9 734.5,471.9 735.0,482.7 735.5,480.7 736.0,471.8 736.5,477.5 737.0,471.6 737.5,472.1 738.0,473.4 738.6,464.3 739.1,457.0 739.6,458.2 740.1,449.5 740.6,448.3 741.1,445.1 741.6,442.2 742.1,448.3 742.6,444.4 743.1,434.1 743.6,442.3 744.1,426.8 744.6,430.4 745.1,431.6 745.6,437.1 746.1,433.5 746.6,430.9 747.1,434.1 747.6,429.9 748.1,432.1 748.7,419.2 749.2,412.9 749.7,418.3 750.2,423.6 750.7,418.9 751.2,421.0 751.7,418.7 752.2,416.3 752.7,416.9 753.2,407.1 753.6,393.0 754.0,470.0" fill="none" stroke="#f0393c" stroke-width="2.6" stroke-linejoin="round" /><polyline points="97.0,566.0 97.5,564.6 98.0,566.0 98.5,565.6 99.0,565.7 99.5,565.8 100.0,564.9 100.5,565.8 101.0,565.4 101.6,566.0 102.1,566.0 102.6,565.7 103.1,565.7 103.6,565.5 104.1,565.3 104.6,565.6 105.1,566.0 105.6,565.7 106.1,566.0 106.6,565.7 107.1,565.8 107.6,566.0 108.1,566.0 108.6,565.5 109.1,565.6 109.7,566.0 110.2,566.0 110.7,565.5 111.2,565.5 111.7,566.0 112.2,565.1 112.7,565.4 113.2,566.0 113.7,565.8 114.2,565.5 114.7,565.7 115.2,564.0 115.7,565.8 116.2,564.7 116.7,564.2 117.2,565.1 117.7,565.1 118.3,564.3 118.8,563.6 119.3,563.8 119.8,563.4 120.3,563.7 120.8,562.8 121.3,561.9 121.8,561.9 122.3,560.5 122.8,559.2 123.3,559.1 123.8,557.9 124.3,556.2 124.8,554.5 125.3,553.8 125.8,550.7 126.3,551.4 126.9,549.8 127.4,546.8 127.9,546.4 128.4,544.1 128.9,543.9 129.4,540.3 129.9,539.8 130.4,539.8 130.9,538.9 131.4,534.8 131.9,534.8 132.4,534.2 132.9,531.8 133.4,532.2 133.9,527.9 134.4,527.5 135.0,524.2 135.5,524.6 136.0,521.2 136.5,518.7 137.0,515.2 137.5,517.0 138.0,514.0 138.5,512.0 139.0,510.4 139.5,507.4 140.0,504.1 140.5,501.7 141.0,499.5 141.5,500.0 142.0,493.8 142.5,492.5 143.0,490.3 143.6,488.5 144.1,486.6 144.6,481.4 145.1,478.2 145.6,478.3 146.1,477.8 146.6,474.5 147.1,470.9 147.6,467.2 148.1,465.3 148.6,461.3 149.1,460.0 149.6,453.8 150.1,452.3 150.6,448.5 151.1,446.5 151.6,442.7 152.2,444.1 152.7,439.0 153.2,435.9 153.7,425.3 154.2,425.8 154.7,422.1 155.2,421.5 155.7,412.0 156.2,416.7 156.7,413.3 157.2,404.4 157.7,401.8 158.2,398.7 158.7,397.3 159.2,395.1 159.7,395.1 160.3,385.6 160.8,384.6 161.3,379.4 161.8,380.6 162.3,374.6 162.8,373.4 163.3,363.3 163.8,363.0 164.3,358.6 164.8,363.2 165.3,358.8 165.8,354.0 166.3,352.2 166.8,354.5 167.3,351.6 167.8,352.5 168.3,358.7 168.9,366.3 169.4,359.2 169.9,358.2 170.4,355.7 170.9,354.3 171.4,358.9 171.9,359.1 172.4,356.1 172.9,357.7 173.4,361.1 173.9,367.5 174.4,370.5 174.9,381.3 175.4,390.7 175.9,397.9 176.4,409.0 176.9,418.7 177.5,429.9 178.0,441.1 178.5,446.1 179.0,453.3 179.5,461.5 180.0,467.6 180.5,476.0 181.0,477.8 181.5,490.2 182.0,495.8 182.5,502.4 183.0,507.5 183.5,511.7 184.0,515.3 184.5,517.7 185.0,522.4 185.6,523.4 186.1,526.2 186.6,529.6 187.1,530.4 187.6,534.8 188.1,535.3 188.6,537.6 189.1,536.9 189.6,537.7 190.1,539.2 190.6,540.7 191.1,540.6 191.6,542.3 192.1,542.9 192.6,544.9 193.1,544.0 193.6,546.0 194.2,545.4 194.7,545.8 195.2,546.6 195.7,546.8 196.2,548.3 196.7,549.4 197.2,549.2 197.7,549.9 198.2,551.0 198.7,550.3 199.2,550.5 199.7,550.5 200.2,549.8 200.7,551.7 201.2,550.2 201.7,552.0 202.2,551.8 202.8,552.7 203.3,552.0 203.8,551.6 204.3,552.4 204.8,551.8 205.3,552.0 205.8,552.1 206.3,551.9 206.8,551.8 207.3,551.3 207.8,551.5 208.3,550.1 208.8,551.3 209.3,550.4 209.8,551.8 210.3,551.7 210.9,549.3 211.4,550.5 211.9,550.1 212.4,549.2 212.9,550.0 213.4,548.9 213.9,547.6 214.4,548.3 214.9,548.0 215.4,547.7 215.9,546.3 216.4,547.2 216.9,546.7 217.4,544.8 217.9,544.6 218.4,544.4 218.9,543.3 219.5,544.2 220.0,542.1 220.5,540.2 221.0,539.3 221.5,538.8 222.0,539.6 222.5,536.4 223.0,535.5 223.5,534.6 224.0,532.9 224.5,533.8 225.0,530.0 225.5,530.0 226.0,528.3 226.5,527.6 227.0,524.6 227.5,526.3 228.1,523.3 228.6,522.2 229.1,519.9 229.6,518.9 230.1,519.0 230.6,518.1 231.1,516.6 231.6,515.8 232.1,513.9 232.6,511.7 233.1,511.3 233.6,509.6 234.1,507.4 234.6,506.9 235.1,506.2 235.6,503.4 236.2,501.1 236.7,501.0 237.2,501.0 237.7,496.6 238.2,495.1 238.7,493.4 239.2,493.6 239.7,487.7 240.2,489.0 240.7,488.5 241.2,483.8 241.7,485.4 242.2,482.2 242.7,478.7 243.2,477.9 243.7,473.2 244.2,472.7 244.8,474.6 245.3,468.0 245.8,470.5 246.3,465.1 246.8,464.8 247.3,460.9 247.8,454.5 248.3,455.1 248.8,454.1 249.3,449.2 249.8,446.6 250.3,447.7 250.8,443.8 251.3,439.9 251.8,440.3 252.3,441.9 252.8,437.8 253.4,439.3 253.9,439.2 254.4,434.8 254.9,430.9 255.4,428.9 255.9,429.9 256.4,429.9 256.9,426.5 257.4,424.9 257.9,420.5 258.4,420.0 258.9,416.2 259.4,414.7 259.9,410.8 260.4,408.7 260.9,409.8 261.5,406.9 262.0,406.0 262.5,408.6 263.0,405.5 263.5,410.7 264.0,405.4 264.5,400.1 265.0,402.2 265.5,400.0 266.0,396.6 266.5,400.8 267.0,396.4 267.5,392.9 268.0,402.1 268.5,399.6 269.0,405.5 269.5,400.4 270.1,398.8 270.6,405.0 271.1,397.8 271.6,400.2 272.1,402.6 272.6,398.6 273.1,397.8 273.6,398.5 274.1,401.5 274.6,399.5 275.1,405.5 275.6,408.3 276.1,415.3 276.6,411.7 277.1,413.4 277.6,420.6 278.1,421.7 278.7,427.1 279.2,431.0 279.7,437.8 280.2,439.1 280.7,445.4 281.2,446.4 281.7,455.6 282.2,466.4 282.7,468.8 283.2,474.0 283.7,477.4 284.2,484.1 284.7,487.1 285.2,488.5 285.7,494.2 286.2,496.5 286.8,499.8 287.3,500.4 287.8,505.7 288.3,506.3 288.8,507.7 289.3,509.3 289.8,511.5 290.3,514.6 290.8,515.1 291.3,518.3 291.8,519.4 292.3,521.8 292.8,522.9 293.3,523.6 293.8,523.4 294.3,527.2 294.8,529.2 295.4,530.1 295.9,531.9 296.4,532.4 296.9,533.8 297.4,534.7 297.9,537.9 298.4,538.1 298.9,538.8 299.4,539.5 299.9,541.6 300.4,543.9 300.9,544.1 301.4,543.8 301.9,545.8 302.4,546.2 302.9,546.2 303.4,546.3 304.0,546.9 304.5,546.7 305.0,547.0 305.5,546.1 306.0,547.9 306.5,547.1 307.0,548.5 307.5,545.5 308.0,547.5 308.5,547.6 309.0,546.4 309.5,546.8 310.0,546.7 310.5,546.3 311.0,545.1 311.5,545.0 312.1,545.5 312.6,545.3 313.1,544.0 313.6,543.6 314.1,543.2 314.6,543.4 315.1,541.2 315.6,540.4 316.1,540.9 316.6,539.3 317.1,539.0 317.6,538.9 318.1,538.6 318.6,536.6 319.1,537.5 319.6,534.6 320.1,535.9 320.7,533.4 321.2,532.9 321.7,533.9 322.2,532.2 322.7,531.1 323.2,530.6 323.7,530.7 324.2,529.4 324.7,528.6 325.2,528.8 325.7,526.3 326.2,525.7 326.7,524.9 327.2,525.7 327.7,524.7 328.2,524.2 328.8,522.0 329.3,521.0 329.8,521.2 330.3,519.0 330.8,519.5 331.3,518.5 331.8,516.1 332.3,515.9 332.8,515.0 333.3,516.2 333.8,516.3 334.3,512.5 334.8,511.7 335.3,508.2 335.8,510.2 336.3,509.1 336.8,507.0 337.4,508.3 337.9,504.6 338.4,505.3 338.9,504.9 339.4,502.2 339.9,504.0 340.4,503.3 340.9,499.3 341.4,498.4 341.9,500.1 342.4,498.3 342.9,495.8 343.4,496.1 343.9,495.4 344.4,494.4 344.9,494.8 345.4,493.3 346.0,494.3 346.5,492.8 347.0,490.9 347.5,490.5 348.0,489.9 348.5,488.1 349.0,484.3 349.5,486.4 350.0,484.2 350.5,485.6 351.0,482.3 351.5,481.9 352.0,480.6 352.5,481.7 353.0,478.4 353.5,476.7 354.1,476.5 354.6,474.3 355.1,474.3 355.6,473.0 356.1,472.4 356.6,474.1 357.1,469.2 357.6,468.9 358.1,467.5 358.6,467.9 359.1,463.8 359.6,463.6 360.1,463.7 360.6,463.7 361.1,461.6 361.6,459.8 362.1,458.1 362.7,459.5 363.2,460.2 363.7,457.1 364.2,455.9 364.7,455.3 365.2,451.7 365.7,451.8 366.2,450.9 366.7,450.9 367.2,449.3 367.7,446.1 368.2,449.6 368.7,449.7 369.2,444.9 369.7,445.3 370.2,444.1 370.7,444.2 371.3,438.7 371.8,443.9 372.3,438.8 372.8,441.4 373.3,438.0 373.8,436.1 374.3,435.7 374.8,437.0 375.3,432.4 375.8,432.6 376.3,431.5 376.8,428.1 377.3,433.7 377.8,431.5 378.3,429.5 378.8,431.2 379.4,425.9 379.9,427.0 380.4,430.1 380.9,427.7 381.4,420.0 381.9,418.8 382.4,421.5 382.9,425.7 383.4,422.0 383.9,422.5 384.4,424.5 384.9,421.5 385.4,424.4 385.9,426.3 386.4,426.4 386.9,427.1 387.4,426.0 388.0,429.5 388.5,428.7 389.0,433.6 389.5,437.6 390.0,433.1 390.5,433.0 391.0,440.0 391.5,445.2 392.0,450.4 392.5,454.4 393.0,454.9 393.5,458.6 394.0,465.6 394.5,464.4 395.0,470.9 395.5,471.4 396.0,475.7 396.6,478.1 397.1,480.8 397.6,483.3 398.1,483.0 398.6,487.2 399.1,489.2 399.6,491.8 400.1,495.4 400.6,495.6 401.1,497.4 401.6,499.6 402.1,502.4 402.6,506.0 403.1,506.2 403.6,510.6 404.1,511.5 404.7,512.7 405.2,513.1 405.7,516.4 406.2,518.2 406.7,516.8 407.2,521.2 407.7,522.9 408.2,522.8 408.7,524.1 409.2,527.1 409.7,527.0 410.2,525.9 410.7,527.7 411.2,528.4 411.7,529.2 412.2,527.8 412.7,531.3 413.3,530.4 413.8,531.5 414.3,531.5 414.8,532.7 415.3,531.9 415.8,531.6 416.3,533.0 416.8,534.0 417.3,532.6 417.8,534.3 418.3,533.4 418.8,532.9 419.3,534.8 419.8,532.9 420.3,534.6 420.8,533.4 421.3,534.3 421.9,533.0 422.4,533.4 422.9,535.2 423.4,534.6 423.9,534.6 424.4,534.2 424.9,535.1 425.4,533.6 425.9,534.0 426.4,534.9 426.9,534.4 427.4,534.6 427.9,535.2 428.4,535.1 428.9,535.1 429.4,536.7 430.0,536.1 430.5,536.2 431.0,534.9 431.5,534.3 432.0,533.1 432.5,533.7 433.0,531.8 433.5,532.7 434.0,533.4 434.5,533.7 435.0,532.5 435.5,530.3 436.0,531.0 436.5,529.2 437.0,530.1 437.5,528.6 438.0,528.9 438.6,529.9 439.1,527.7 439.6,528.5 440.1,525.9 440.6,524.8 441.1,525.8 441.6,525.5 442.1,522.6 442.6,522.5 443.1,520.2 443.6,520.7 444.1,521.1 444.6,519.3 445.1,518.0 445.6,516.2 446.1,517.3 446.6,517.0 447.2,515.9 447.7,514.7 448.2,512.1 448.7,514.7 449.2,511.8 449.7,510.9 450.2,511.0 450.7,506.8 451.2,508.5 451.7,507.5 452.2,507.4 452.7,507.8 453.2,505.9 453.7,502.3 454.2,503.4 454.7,503.3 455.3,502.5 455.8,499.9 456.3,498.7 456.8,500.8 457.3,499.8 457.8,498.5 458.3,495.5 458.8,499.4 459.3,493.0 459.8,495.1 460.3,497.6 460.8,493.8 461.3,493.6 461.8,490.9 462.3,493.6 462.8,489.1 463.3,490.4 463.9,489.5 464.4,486.9 464.9,488.9 465.4,484.7 465.9,484.9 466.4,484.9 466.9,483.5 467.4,483.8 467.9,483.6 468.4,480.8 468.9,479.4 469.4,478.4 469.9,477.6 470.4,478.4 470.9,475.6 471.4,475.5 471.9,473.6 472.5,471.2 473.0,472.8 473.5,468.5 474.0,469.0 474.5,470.2 475.0,464.6 475.5,465.1 476.0,461.2 476.5,461.8 477.0,458.8 477.5,459.5 478.0,457.9 478.5,457.9 479.0,459.3 479.5,455.7 480.0,455.1 480.6,452.5 481.1,450.8 481.6,448.2 482.1,444.9 482.6,447.0 483.1,448.5 483.6,444.8 484.1,441.3 484.6,444.3 485.1,438.7 485.6,437.1 486.1,434.7 486.6,434.1 487.1,434.7 487.6,438.6 488.1,433.4 488.6,431.1 489.2,431.5 489.7,431.8 490.2,428.1 490.7,431.5 491.2,432.3 491.7,431.1 492.2,431.3 492.7,427.0 493.2,425.8 493.7,432.0 494.2,431.4 494.7,425.7 495.2,429.5 495.7,429.2 496.2,430.5 496.7,430.1 497.2,428.9 497.8,430.8 498.3,431.3 498.8,431.4 499.3,428.2 499.8,427.5 500.3,431.8 500.8,431.1 501.3,436.4 501.8,438.9 502.3,439.8 502.8,440.5 503.3,443.5 503.8,447.8 504.3,446.3 504.8,451.6 505.3,453.3 505.9,454.7 506.4,459.2 506.9,457.7 507.4,463.2 507.9,462.5 508.4,465.4 508.9,467.6 509.4,472.6 509.9,472.9 510.4,476.9 510.9,477.4 511.4,483.2 511.9,486.7 512.4,486.7 512.9,491.1 513.4,491.9 513.9,496.3 514.5,495.7 515.0,495.6 515.5,501.6 516.0,501.5 516.5,502.3 517.0,504.8 517.5,505.5 518.0,509.1 518.5,509.8 519.0,514.4 519.5,514.9 520.0,513.8 520.5,515.2 521.0,517.4 521.5,517.2 522.0,520.2 522.5,521.4 523.1,521.7 523.6,523.0 524.1,525.0 524.6,526.8 525.1,527.8 525.6,527.2 526.1,528.7 526.6,527.9 527.1,529.6 527.6,528.9 528.1,531.0 528.6,529.7 529.1,530.4 529.6,531.8 530.1,532.8 530.6,531.4 531.2,532.7 531.7,533.7 532.2,534.2 532.7,533.6 533.2,534.7 533.7,534.6 534.2,536.2 534.7,535.6 535.2,534.0 535.7,533.3 536.2,535.2 536.7,536.1 537.2,535.2 537.7,535.7 538.2,534.4 538.7,533.4 539.2,535.1 539.8,534.4 540.3,534.7 540.8,532.6 541.3,533.8 541.8,532.8 542.3,533.8 542.8,532.3 543.3,532.1 543.8,531.8 544.3,533.2 544.8,531.8 545.3,530.8 545.8,530.3 546.3,529.9 546.8,531.9 547.3,528.5 547.9,529.0 548.4,530.0 548.9,530.0 549.4,528.3 549.9,528.7 550.4,528.2 550.9,527.9 551.4,526.4 551.9,527.5 552.4,525.5 552.9,526.2 553.4,523.0 553.9,524.4 554.4,521.6 554.9,520.7 555.4,522.2 555.9,520.2 556.5,520.8 557.0,518.5 557.5,520.6 558.0,518.2 558.5,516.1 559.0,516.7 559.5,516.7 560.0,514.0 560.5,514.5 561.0,515.4 561.5,513.2 562.0,511.3 562.5,509.7 563.0,510.2 563.5,506.8 564.0,504.7 564.5,506.1 565.1,504.8 565.6,507.4 566.1,504.6 566.6,502.4 567.1,501.4 567.6,502.7 568.1,500.2 568.6,499.7 569.1,499.5 569.6,499.0 570.1,498.2 570.6,497.4 571.1,498.2 571.6,497.9 572.1,492.6 572.6,497.4 573.2,493.4 573.7,494.1 574.2,490.6 574.7,491.2 575.2,490.2 575.7,489.2 576.2,489.5 576.7,488.3 577.2,485.0 577.7,485.5 578.2,485.8 578.7,484.9 579.2,482.4 579.7,481.6 580.2,480.8 580.7,478.5 581.2,477.2 581.8,480.7 582.3,476.7 582.8,476.5 583.3,474.2 583.8,476.4 584.3,476.2 584.8,472.0 585.3,472.2 585.8,469.2 586.3,472.3 586.8,470.0 587.3,466.0 587.8,468.5 588.3,466.0 588.8,465.1 589.3,464.0 589.8,461.2 590.4,460.4 590.9,461.5 591.4,459.3 591.9,456.7 592.4,461.1 592.9,456.0 593.4,454.4 593.9,453.1 594.4,454.6 594.9,454.2 595.4,451.8 595.9,452.0 596.4,446.5 596.9,447.6 597.4,446.4 597.9,446.3 598.5,446.2 599.0,440.2 599.5,448.0 600.0,440.5 600.5,441.8 601.0,441.6 601.5,440.5 602.0,438.0 602.5,431.0 603.0,432.9 603.5,435.7 604.0,431.3 604.5,430.3 605.0,427.1 605.5,434.3 606.0,432.5 606.5,429.3 607.1,430.6 607.6,430.4 608.1,428.1 608.6,429.7 609.1,430.7 609.6,431.3 610.1,432.8 610.6,430.2 611.1,429.3 611.6,431.3 612.1,429.4 612.6,428.4 613.1,433.8 613.6,430.9 614.1,432.4 614.6,434.2 615.1,431.3 615.7,436.0 616.2,436.8 616.7,437.0 617.2,439.3 617.7,438.5 618.2,437.4 618.7,443.2 619.2,444.1 619.7,449.7 620.2,450.7 620.7,451.5 621.2,454.8 621.7,459.6 622.2,461.7 622.7,463.0 623.2,465.9 623.8,467.4 624.3,470.4 624.8,474.2 625.3,475.7 625.8,478.8 626.3,479.0 626.8,480.3 627.3,482.3 627.8,486.2 628.3,490.7 628.8,492.4 629.3,491.2 629.8,492.3 630.3,497.2 630.8,498.4 631.3,497.5 631.8,502.2 632.4,502.4 632.9,505.2 633.4,505.3 633.9,507.2 634.4,507.8 634.9,507.5 635.4,509.6 635.9,510.3 636.4,513.2 636.9,512.3 637.4,512.9 637.9,516.4 638.4,518.0 638.9,519.3 639.4,519.9 639.9,518.1 640.4,519.9 641.0,520.9 641.5,522.2 642.0,520.9 642.5,523.7 643.0,524.7 643.5,524.1 644.0,525.7 644.5,527.3 645.0,526.7 645.5,528.2 646.0,528.7 646.5,528.6 647.0,529.1 647.5,528.9 648.0,530.9 648.5,529.7 649.1,529.9 649.6,531.6 650.1,530.7 650.6,532.1 651.1,533.0 651.6,532.4 652.1,532.6 652.6,533.5 653.1,533.5 653.6,531.6 654.1,531.8 654.6,534.2 655.1,533.3 655.6,531.0 656.1,531.6 656.6,532.7 657.1,531.6 657.7,532.8 658.2,532.2 658.7,532.4 659.2,530.6 659.7,532.0 660.2,532.9 660.7,530.1 661.2,531.7 661.7,531.0 662.2,530.4 662.7,529.3 663.2,527.9 663.7,527.8 664.2,529.0 664.7,528.8 665.2,528.6 665.7,527.9 666.3,527.5 666.8,525.7 667.3,524.5 667.8,525.5 668.3,525.3 668.8,524.4 669.3,522.2 669.8,522.6 670.3,520.9 670.8,521.9 671.3,519.9 671.8,520.1 672.3,519.8 672.8,518.8 673.3,519.3 673.8,515.8 674.4,513.7 674.9,516.2 675.4,515.8 675.9,514.9 676.4,512.7 676.9,512.0 677.4,510.6 677.9,508.0 678.4,507.8 678.9,508.2 679.4,505.9 679.9,508.0 680.4,502.8 680.9,503.2 681.4,504.2 681.9,501.1 682.4,499.5 683.0,498.3 683.5,498.1 684.0,500.0 684.5,497.6 685.0,496.7 685.5,494.3 686.0,495.1 686.5,493.0 687.0,490.5 687.5,490.1 688.0,490.0 688.5,490.3 689.0,487.5 689.5,487.3 690.0,488.5 690.5,483.3 691.0,481.6 691.6,483.9 692.1,482.1 692.6,480.3 693.1,479.9 693.6,478.0 694.1,478.4 694.6,476.1 695.1,477.0 695.6,473.0 696.1,472.6 696.6,473.3 697.1,471.4 697.6,472.4 698.1,470.4 698.6,468.7 699.1,469.0 699.7,466.9 700.2,464.3 700.7,464.2 701.2,463.9 701.7,463.6 702.2,463.7 702.7,464.2 703.2,462.8 703.7,464.1 704.2,462.3 704.7,458.8 705.2,461.3 705.7,459.5 706.2,455.7 706.7,456.2 707.2,456.7 707.7,454.2 708.3,454.8 708.8,452.7 709.3,452.4 709.8,449.5 710.3,450.0 710.8,447.6 711.3,448.7 711.8,443.3 712.3,446.3 712.8,447.2 713.3,445.0 713.8,442.9 714.3,443.2 714.8,439.6 715.3,438.8 715.8,438.9 716.3,438.5 716.9,439.9 717.4,435.3 717.9,438.2 718.4,431.9 718.9,432.6 719.4,433.1 719.9,434.7 720.4,430.1 720.9,426.0 721.4,430.8 721.9,429.3 722.4,426.6 722.9,426.4 723.4,427.1 723.9,428.9 724.4,430.4 725.0,426.2 725.5,434.8 726.0,430.4 726.5,430.4 727.0,433.4 727.5,433.0 728.0,438.5 728.5,436.7 729.0,434.9 729.5,436.3 730.0,437.9 730.5,440.2 731.0,444.4 731.5,444.0 732.0,450.7 732.5,449.7 733.0,451.8 733.6,455.8 734.1,452.4 734.6,456.1 735.1,460.6 735.6,461.3 736.1,462.9 736.6,465.3 737.1,465.3 737.6,467.7 738.1,467.4 738.6,468.3 739.1,475.1 739.6,473.3 740.1,475.4 740.6,480.5 741.1,481.8 741.6,481.3 742.2,483.2 742.7,485.8 743.2,486.5 743.7,490.6 744.2,491.9 744.7,493.8 745.2,496.5 745.7,498.3 746.2,501.5 746.7,502.7 747.2,500.2 747.7,505.1 748.2,504.2 748.7,505.3 749.2,509.4 749.7,509.2 750.3,511.1 750.8,514.2 751.3,513.6 751.8,514.7 752.3,517.4 752.8,519.6 753.3,520.2 753.8,519.2 754.3,521.4" fill="none" stroke="#1b63dc" stroke-width="2.6" stroke-linejoin="round" /></g>
<g clip-path="url(#cr)"><polyline points="924.6,430.2 924.9,317.1 925.2,277.7 925.5,289.5 925.8,253.8 926.1,236.3 926.3,191.3 926.6,191.9 926.9,160.0 927.2,206.7 927.5,121.3 927.8,147.6 928.1,123.6 928.4,132.2 928.6,129.8 928.9,108.3 929.2,96.5 929.5,108.2 929.8,102.0 930.1,84.4 930.4,102.9 930.7,107.3 931.0,77.7 931.2,88.6 931.5,101.3 931.8,85.3 932.1,79.1 932.4,85.1 932.7,86.2 933.0,68.5 933.3,58.6 933.6,68.5 933.8,72.0 934.1,60.4 934.4,56.4 934.7,64.5 935.0,56.2 935.3,51.2 935.6,61.0 935.9,65.1 936.2,54.9 936.4,55.0 936.7,47.8 937.0,65.3 937.3,59.8 937.6,60.4 937.9,66.1 938.2,52.3 938.5,49.1 938.8,57.1 939.0,42.6 939.3,45.9 939.6,46.7 939.9,47.7 940.2,43.9 940.5,57.1 940.8,45.2 941.1,44.8 941.3,57.8 941.6,45.5 941.9,48.3 942.2,42.3 942.5,48.4 942.8,45.8 943.1,43.6 943.4,49.4 943.7,41.6 943.9,44.7 944.2,41.5 944.5,46.1 944.8,38.0 945.1,40.1 945.4,43.5 945.7,39.4 946.0,36.2 946.3,33.5 946.5,48.8 946.8,37.2 947.1,38.9 947.4,41.2 947.7,45.2 948.0,34.5 948.3,45.9 948.6,52.3 948.9,33.6 949.1,46.8 949.4,40.6 949.7,45.1 950.0,37.7 950.3,31.6 950.6,29.0 950.9,46.4 951.2,40.6 951.5,34.5 951.7,30.2 952.0,35.4 952.3,40.6 952.6,35.6 952.9,36.8 953.2,37.5 953.5,39.7 953.8,34.3 954.0,34.4 954.3,36.1 954.6,36.4 954.9,41.2 955.2,37.2 955.5,29.0 955.8,35.3 956.1,40.8 956.4,27.5 956.6,30.9 956.9,23.2 957.2,32.5 957.5,34.6 957.8,38.9 958.1,25.6 958.4,19.4 958.7,35.0 959.0,33.9 959.2,27.8 959.5,34.2 959.8,31.3 960.1,31.5 960.4,28.7 960.7,24.2 961.0,29.2 961.3,24.8 961.6,31.1 961.8,27.5 962.1,39.2 962.4,36.0 962.7,25.2 963.0,31.9 963.3,26.2 963.6,26.4 963.9,22.6 964.2,25.1 964.4,24.1 964.7,29.6 965.0,32.4 965.3,32.6 965.6,31.4 965.9,34.5 966.2,31.7 966.5,29.5 966.7,27.8 967.0,30.7 967.3,38.4 967.6,29.4 967.9,27.9 968.2,23.7 968.5,26.2 968.8,32.2 969.1,32.6 969.3,19.1 969.6,25.3 969.9,19.9 970.2,18.4 970.5,33.2 970.8,27.3 971.1,27.0 971.4,26.7 971.7,26.9 971.9,28.8 972.2,29.1 972.5,37.8 972.8,31.2 973.1,34.3 973.4,30.1 973.7,33.3 974.0,27.9 974.3,27.1 974.5,29.9 974.8,30.0 975.1,31.4 975.4,34.4 975.7,33.2 976.0,35.1 976.3,30.8 976.6,32.9 976.8,30.2 977.1,40.4 977.4,29.1 977.7,38.0 978.0,38.1 978.3,35.6 978.6,37.8 978.9,33.5 979.2,38.4 979.4,41.2 979.7,40.3 980.0,29.2 980.3,36.2 980.6,42.9 980.9,37.0 981.2,45.6 981.5,28.0 981.8,46.1 982.0,35.7 982.3,35.7 982.6,46.9 982.9,37.8 983.2,34.4 983.5,37.7 983.8,39.2 984.1,35.9 984.4,40.7 984.6,40.3 984.9,43.5 985.2,40.0 985.5,49.4 985.8,40.6 986.1,48.6 986.4,52.7 986.7,45.5 987.0,38.9 987.2,52.4 987.5,53.2 987.8,47.4 988.1,54.8 988.4,54.0 988.7,53.8 989.0,68.5 989.3,55.2 989.5,63.2 989.8,62.5 990.1,68.3 990.4,70.0 990.7,68.2 991.0,59.4 991.3,56.0 991.6,67.3 991.9,62.1 992.1,71.3 992.4,82.1 992.7,70.6 993.0,69.4 993.3,74.8 993.6,70.4 993.9,68.6 994.2,77.2 994.5,80.7 994.7,72.7 995.0,72.4 995.3,72.9 995.6,82.3 995.9,59.1 996.2,72.2 996.5,64.7 996.8,62.8 997.1,63.9 997.3,61.4 997.6,70.5 997.9,62.9 998.2,54.3 998.5,62.3 998.8,71.7 999.1,63.6 999.4,59.2 999.7,65.3 999.9,71.8 1000.2,57.5 1000.5,76.9 1000.8,65.0 1001.1,68.8 1001.4,77.3 1001.7,60.6 1002.0,67.0 1002.2,78.1 1002.5,65.7 1002.8,73.5 1003.1,84.6 1003.4,76.1 1003.7,69.4 1004.0,67.0 1004.3,70.8 1004.6,72.1 1004.8,69.3 1005.1,75.0 1005.4,64.8 1005.7,73.4 1006.0,72.9 1006.3,71.7 1006.6,85.1 1006.9,83.2 1007.2,66.0 1007.4,76.5 1007.7,82.4 1008.0,78.2 1008.3,85.9 1008.6,80.5 1008.9,89.4 1009.2,82.4 1009.5,99.2 1009.8,75.1 1010.0,92.1 1010.3,102.5 1010.6,91.6 1010.9,94.0 1011.2,90.5 1011.5,103.4 1011.8,90.5 1012.1,71.4 1012.4,108.5 1012.6,94.6 1012.9,102.0 1013.2,98.4 1013.5,119.1 1013.8,114.1 1014.1,99.4 1014.4,105.7 1014.7,89.8 1014.9,115.2 1015.2,107.3 1015.5,82.5 1015.8,120.3 1016.1,123.4 1016.4,115.1 1016.7,116.7 1017.0,107.7 1017.3,117.6 1017.5,130.0 1017.8,119.8 1018.1,91.1 1018.4,109.4 1018.7,161.7 1019.0,131.3 1019.3,143.1 1019.6,124.5 1019.9,137.5 1020.1,109.2 1020.4,125.3 1020.7,127.6 1021.0,140.0 1021.3,145.4 1021.6,141.4 1021.9,128.2 1022.2,142.0 1022.5,158.4 1022.7,133.5 1023.0,153.4 1023.3,160.0 1023.6,174.5 1023.9,172.8 1024.2,176.2 1024.5,213.7 1024.8,150.6 1025.1,160.8 1025.3,177.3 1025.6,155.7 1025.9,169.1 1026.2,172.3 1026.5,229.6 1026.8,188.1 1027.1,174.9 1027.4,155.0 1027.6,151.9 1027.9,162.0 1028.2,217.5 1028.5,241.5 1028.8,185.0 1029.1,198.5 1029.4,180.0 1029.7,205.7 1030.0,200.0 1030.2,240.6 1030.5,198.6 1030.8,221.0 1031.1,204.7 1031.4,204.0 1031.7,219.6 1032.0,211.4 1032.3,221.4 1032.6,204.8 1032.8,213.1 1033.1,241.3 1033.4,244.7 1033.7,188.3 1034.0,237.1 1034.3,211.3 1034.6,228.8 1034.9,255.8 1035.2,262.9 1035.4,242.2 1035.7,240.6 1036.0,232.9 1036.3,285.3 1036.6,269.1 1036.9,257.4 1037.2,212.9 1037.5,323.2 1037.8,248.1 1038.0,276.9 1038.3,251.6 1038.6,279.0 1038.9,324.3 1039.2,224.4 1039.5,259.9 1039.8,259.0 1040.1,262.0 1040.3,295.3 1040.6,259.5 1040.9,282.1 1041.2,300.5 1041.5,279.3 1041.8,285.7 1042.1,258.2 1042.4,282.3 1042.7,297.4 1042.9,240.1 1043.2,254.5 1043.5,247.0 1043.8,267.2 1044.1,289.2 1044.4,299.2 1044.7,295.7 1045.0,259.5 1045.3,285.1 1045.5,333.6 1045.8,290.6 1046.1,332.7 1046.4,285.2 1046.7,327.2 1047.0,329.4 1047.3,287.8 1047.6,294.1 1047.9,342.9 1048.1,269.5 1048.4,226.4 1048.7,338.5 1049.0,237.4 1049.3,314.7 1049.6,309.0 1049.9,299.5 1050.2,338.7 1050.4,254.2 1050.7,279.1 1051.0,317.6 1051.3,394.1 1051.6,341.2 1051.9,305.1 1052.2,265.4 1052.5,347.1 1052.8,307.6 1053.0,289.4 1053.3,261.5 1053.6,252.0 1053.9,307.5 1054.2,316.1 1054.5,279.2 1054.8,304.0 1055.1,302.1 1055.4,259.1 1055.6,240.1 1055.9,283.6 1056.2,297.4 1056.5,273.6 1056.8,348.8 1057.1,291.1 1057.4,322.8 1057.7,216.7 1058.0,267.6 1058.2,284.9 1058.5,294.8 1058.8,365.3 1059.1,266.2 1059.4,237.7 1059.7,309.1 1060.0,357.5 1060.3,263.7 1060.6,332.1 1060.8,255.9 1061.1,242.6 1061.4,276.1 1061.7,284.2 1062.0,257.7 1062.3,327.5 1062.6,277.3 1062.9,247.5 1063.1,316.1 1063.4,247.9 1063.7,289.6 1064.0,338.7 1064.3,278.4 1064.6,303.4 1064.9,263.7 1065.2,307.4 1065.5,239.8 1065.7,292.3 1066.0,258.4 1066.3,285.7 1066.6,276.5 1066.9,230.3 1067.2,258.2 1067.5,275.2 1067.8,299.5 1068.1,226.9 1068.3,238.4 1068.6,268.7 1068.9,250.7 1069.2,287.2 1069.5,285.7 1069.8,279.1 1070.1,243.3 1070.4,244.0 1070.7,273.6 1070.9,368.5 1071.2,227.0 1071.5,244.0 1071.8,217.8 1072.1,255.7 1072.4,249.7 1072.7,231.8 1073.0,245.7 1073.3,220.9 1073.5,279.3 1073.8,201.1 1074.1,264.0 1074.4,245.4 1074.7,279.5 1075.0,221.9 1075.3,201.9 1075.6,207.0 1075.8,305.9 1076.1,280.3 1076.4,257.4 1076.7,247.6 1077.0,260.1 1077.3,201.3 1077.6,227.0 1077.9,232.1 1078.2,217.0 1078.4,256.4 1078.7,254.4 1079.0,252.8 1079.3,213.8 1079.6,217.3 1079.9,210.0 1080.2,195.5 1080.5,261.6 1080.8,238.9 1081.0,218.7 1081.3,258.6 1081.6,235.5 1081.9,192.8 1082.2,189.6 1082.5,189.5 1082.8,216.4 1083.1,312.9 1083.4,187.0 1083.6,224.8 1083.9,205.0 1084.2,178.0 1084.5,221.7 1084.8,227.0 1085.1,210.2 1085.4,193.3 1085.7,195.3 1086.0,202.8 1086.2,191.4 1086.5,245.8 1086.8,225.6 1087.1,198.3 1087.4,225.0 1087.7,234.3 1088.0,229.7 1088.3,221.1 1088.5,201.3 1088.8,221.3 1089.1,188.6 1089.4,151.0 1089.7,195.8 1090.0,159.4 1090.3,182.7 1090.6,216.3 1090.9,193.9 1091.1,210.5 1091.4,166.6 1091.7,212.3 1092.0,151.0 1092.3,168.0 1092.6,229.6 1092.9,161.0 1093.2,141.6 1093.5,196.6 1093.7,153.3 1094.0,218.3 1094.3,168.7 1094.6,212.7 1094.9,161.3 1095.2,213.3 1095.5,231.0 1095.8,160.3 1096.1,115.6 1096.3,181.1 1096.6,200.0 1096.9,162.9 1097.2,171.7 1097.5,149.4 1097.8,125.2 1098.1,189.1 1098.4,147.7 1098.7,151.6 1098.9,190.0 1099.2,121.5 1099.5,113.3 1099.8,176.3 1100.1,116.3 1100.4,152.2 1100.7,156.0 1101.0,119.0 1101.2,145.7 1101.5,142.7 1101.8,116.3 1102.1,120.4 1102.4,128.0 1102.7,175.5 1103.0,178.1 1103.3,120.7 1103.6,162.6 1103.8,139.5 1104.1,163.8 1104.4,144.6 1104.7,200.5 1105.0,106.2 1105.3,159.0 1105.6,140.1 1105.9,140.7 1106.2,112.1 1106.4,163.4 1106.7,135.2 1107.0,137.9 1107.3,122.7 1107.6,123.2 1107.9,140.5 1108.2,126.2 1108.5,198.7 1108.8,120.5 1109.0,130.6 1109.3,140.2 1109.6,127.7 1109.9,119.7 1110.2,84.1 1110.5,134.1 1110.8,118.8 1111.1,97.3 1111.4,160.3 1111.6,153.4 1111.9,142.8 1112.2,123.1 1112.5,77.8 1112.8,113.0 1113.1,98.4 1113.4,122.3 1113.7,159.6 1113.9,156.1 1114.2,99.7 1114.5,113.0 1114.8,136.8 1115.1,96.7 1115.4,139.1 1115.7,95.6 1116.0,90.2 1116.3,124.6 1116.5,129.3 1116.8,98.6 1117.1,127.8 1117.4,97.5 1117.7,163.9 1118.0,97.6 1118.3,107.8 1118.6,115.0 1118.9,121.1 1119.1,104.4 1119.4,134.0 1119.7,110.8 1120.0,112.0 1120.3,96.8 1120.6,122.6 1120.9,82.4 1121.2,109.0 1121.5,119.3 1121.7,86.2 1122.0,82.4 1122.3,105.6 1122.6,113.9 1122.9,102.2 1123.2,110.3 1123.5,105.2 1123.8,82.6 1124.0,96.0 1124.3,98.5 1124.6,95.7 1124.9,99.8 1125.2,89.3 1125.5,88.5 1125.8,101.7 1126.1,96.0 1126.4,71.0 1126.6,91.6 1126.9,97.4 1127.2,74.0 1127.5,94.3 1127.8,104.7 1128.1,86.6 1128.4,101.4 1128.7,96.8 1129.0,88.4 1129.2,92.1 1129.5,97.3 1129.8,94.7 1130.1,94.3 1130.4,78.0 1130.7,94.0 1131.0,91.9 1131.3,69.0 1131.6,90.2 1131.8,72.6 1132.1,73.4 1132.4,84.4 1132.7,93.5 1133.0,78.1 1133.3,75.6 1133.6,72.6 1133.9,78.3 1134.2,69.3 1134.4,67.1 1134.7,82.7 1135.0,64.5 1135.3,71.5 1135.6,74.7 1135.9,71.4 1136.2,56.0 1136.5,59.9 1136.7,74.7 1137.0,61.8 1137.3,61.3 1137.6,59.7 1137.9,59.8 1138.2,63.2 1138.5,49.1 1138.8,57.1 1139.1,52.7 1139.3,52.5 1139.6,52.0 1139.9,43.7 1140.2,44.5 1140.5,48.7 1140.8,49.0 1141.1,45.8 1141.4,38.2 1141.7,41.3 1141.9,39.9 1142.2,41.7 1142.5,40.5 1142.8,37.6 1143.1,46.3 1143.4,29.6 1143.7,40.1 1144.0,38.4 1144.3,29.0 1144.5,33.6 1144.8,33.9 1145.1,36.3 1145.4,40.4 1145.7,31.9 1146.0,26.9 1146.3,36.3 1146.6,25.7 1146.9,37.0 1147.1,42.9 1147.4,29.0 1147.7,31.2 1148.0,27.8 1148.3,34.3 1148.6,35.5 1148.9,39.2 1149.2,36.0 1149.4,35.2 1149.7,36.7 1150.0,28.6 1150.3,32.9 1150.6,38.9 1150.9,18.1 1151.2,33.4 1151.5,35.2 1151.8,23.6 1152.0,23.8 1152.3,34.4 1152.6,35.8 1152.9,33.5 1153.2,23.6 1153.5,30.2 1153.8,32.4 1154.1,28.7 1154.4,22.9 1154.6,34.8 1154.9,30.1 1155.2,34.6 1155.5,18.1 1155.8,19.6 1156.1,23.5 1156.4,28.5 1156.7,24.7 1157.0,37.4 1157.2,26.3 1157.5,33.6 1157.8,33.5 1158.1,30.5 1158.4,28.7 1158.7,24.3 1159.0,23.6 1159.3,25.5 1159.6,31.0 1159.8,23.4 1160.1,27.0 1160.4,20.8 1160.7,30.4 1161.0,38.1 1161.3,28.1 1161.6,15.8 1161.9,23.5 1162.1,26.4 1162.4,21.3 1162.7,22.9 1163.0,23.0 1163.3,27.4 1163.6,24.6 1163.9,23.9 1164.2,27.7 1164.5,29.8 1164.7,23.8 1165.0,19.9 1165.3,21.3 1165.6,21.9 1165.9,21.8 1166.2,12.1 1166.5,22.7 1166.8,19.0 1167.1,14.7 1167.3,23.5 1167.6,22.5 1167.9,18.8 1168.2,15.8 1168.5,17.3 1168.8,21.8 1169.1,23.1 1169.4,29.1 1169.7,18.3 1169.9,24.6 1170.2,31.4 1170.5,24.2 1170.8,31.6 1171.1,28.3 1171.4,23.7 1171.7,28.1 1172.0,19.0 1172.3,30.9 1172.5,23.1 1172.8,21.9 1173.1,17.9 1173.4,20.6 1173.7,24.0 1174.0,25.0 1174.3,25.8 1174.6,20.6 1174.8,29.1 1175.1,23.9 1175.4,27.1 1175.7,25.8 1176.0,28.4 1176.3,17.6 1176.6,30.9 1176.9,26.9 1177.2,27.1 1177.4,25.9 1177.7,27.0 1178.0,27.4 1178.3,25.1 1178.6,37.0 1178.9,30.3 1179.2,36.3 1179.5,29.9 1179.8,36.7 1180.0,36.0 1180.3,32.1 1180.6,25.7 1180.9,29.7 1181.2,31.3 1181.5,26.5 1181.8,37.6 1182.1,43.2 1182.4,35.7 1182.6,35.3 1182.9,28.5 1183.2,24.6 1183.5,41.0 1183.8,23.7 1184.1,28.2 1184.4,31.9 1184.7,34.4 1185.0,25.2 1185.2,36.3 1185.5,39.2 1185.8,36.7 1186.1,44.0 1186.4,35.8 1186.7,38.8 1187.0,37.1 1187.3,37.2 1187.5,44.1 1187.8,33.4 1188.1,44.4 1188.4,35.9 1188.7,47.6 1189.0,38.7 1189.3,44.4 1189.6,40.6 1189.9,43.9 1190.1,51.2 1190.4,46.3 1190.7,40.9 1191.0,38.4 1191.3,48.1 1191.6,58.0 1191.9,45.3 1192.2,42.2 1192.5,57.3 1192.7,44.8 1193.0,37.0 1193.3,36.3 1193.6,37.2 1193.9,44.9 1194.2,40.0 1194.5,41.1 1194.8,46.6 1195.1,35.7 1195.3,39.2 1195.6,41.6 1195.9,32.6 1196.2,35.3 1196.5,34.7 1196.8,32.8 1197.1,34.8 1197.4,43.7 1197.6,39.4 1197.9,32.7 1198.2,40.7 1198.5,36.7 1198.8,34.8 1199.1,29.7 1199.4,30.1 1199.7,31.7 1200.0,36.5 1200.2,31.1 1200.5,32.7 1200.8,35.7 1201.1,28.4 1201.4,32.2 1201.7,37.8 1202.0,28.3 1202.3,35.1 1202.6,31.1 1202.8,40.7 1203.1,33.6 1203.4,37.8 1203.7,37.8 1204.0,42.0 1204.3,23.1 1204.6,33.6 1204.9,31.7 1205.2,27.6 1205.4,33.1 1205.7,30.1 1206.0,38.6 1206.3,31.3 1206.6,34.0 1206.9,29.6 1207.2,31.0 1207.5,38.1 1207.8,40.2 1208.0,36.2 1208.3,28.0 1208.6,29.3 1208.9,29.3 1209.2,40.5 1209.5,43.1 1209.8,33.8 1210.1,32.4 1210.3,33.6 1210.6,29.1 1210.9,31.5 1211.2,36.2 1211.5,46.6 1211.8,29.9 1212.1,30.2 1212.4,30.9 1212.7,29.4 1212.9,31.8 1213.2,30.0 1213.5,35.3 1213.8,32.5 1214.1,28.6 1214.4,28.6 1214.7,32.2 1215.0,29.9 1215.3,31.7 1215.5,41.0 1215.8,44.7 1216.1,22.3 1216.4,29.6 1216.7,34.1 1217.0,42.3 1217.3,40.5 1217.6,28.8 1217.9,47.5 1218.1,37.4 1218.4,32.4 1218.7,36.1 1219.0,33.8 1219.3,38.4 1219.6,27.3 1219.9,43.7 1220.2,45.9 1220.5,39.0 1220.7,34.4 1221.0,42.0 1221.3,37.6 1221.6,45.9 1221.9,49.9 1222.2,38.2 1222.5,38.1 1222.8,39.0 1223.0,49.9 1223.3,54.6 1223.6,55.8 1223.9,51.5 1224.2,47.8 1224.5,49.0 1224.8,61.6 1225.1,52.6 1225.4,54.6 1225.6,55.0 1225.9,56.7 1226.2,58.9 1226.5,54.1 1226.8,58.5 1227.1,58.7 1227.4,66.9 1227.7,59.2 1228.0,64.5 1228.2,82.8 1228.5,61.3 1228.8,69.0 1229.1,59.1 1229.4,70.4 1229.7,70.9 1230.0,68.9 1230.3,72.3 1230.6,78.0 1230.8,93.6 1231.1,55.6 1231.4,94.3 1231.7,82.0 1232.0,72.0 1232.3,76.4 1232.6,75.5 1232.9,74.4 1233.2,69.7 1233.4,82.8 1233.7,55.7 1234.0,102.0 1234.3,87.9 1234.6,96.8 1234.9,100.7 1235.2,91.3 1235.5,77.3 1235.7,107.3 1236.0,108.7 1236.3,90.8 1236.6,94.4 1236.9,76.2 1237.2,90.0 1237.5,102.3 1237.8,111.3 1238.1,104.8 1238.3,111.6 1238.6,130.0 1238.9,111.3 1239.2,115.2 1239.5,117.2 1239.8,121.3 1240.1,90.7 1240.4,106.6 1240.7,104.0 1240.9,128.6 1241.2,136.1 1241.5,125.8 1241.8,118.6 1242.1,128.9 1242.4,127.4 1242.7,110.1 1243.0,121.6 1243.3,143.1 1243.5,135.1 1243.8,139.7 1244.1,127.0 1244.4,150.0 1244.7,134.6 1245.0,121.1 1245.3,133.0 1245.6,149.6 1245.9,145.5 1246.1,133.9 1246.4,128.7 1246.7,123.5 1247.0,141.0 1247.3,161.8 1247.6,115.6 1247.9,135.7 1248.2,134.6 1248.4,137.0 1248.7,161.2 1249.0,149.4 1249.3,139.9 1249.6,126.9 1249.9,144.7 1250.2,192.5 1250.5,151.2 1250.8,141.2 1251.0,124.8 1251.3,135.7 1251.6,103.9 1251.9,123.6 1252.2,125.3 1252.5,133.0 1252.8,176.0 1253.1,135.5 1253.4,140.4 1253.6,161.6 1253.9,141.4 1254.2,144.9 1254.5,161.8 1254.8,155.8 1255.1,158.8 1255.4,149.8 1255.7,162.6 1256.0,144.6 1256.2,191.7 1256.5,161.0 1256.8,188.2 1257.1,165.5 1257.4,146.6 1257.7,156.5 1258.0,159.3 1258.3,156.2 1258.6,127.3 1258.8,179.6 1259.1,141.0 1259.4,188.2 1259.7,168.0 1260.0,155.9 1260.3,176.1 1260.6,155.6 1260.9,145.5 1261.1,183.6 1261.4,161.8 1261.7,167.9 1262.0,199.2 1262.3,164.5 1262.6,176.8 1262.9,134.4 1263.2,178.7 1263.5,127.5 1263.7,172.2 1264.0,122.9 1264.3,150.9 1264.6,152.7 1264.9,145.8 1265.2,143.9 1265.5,134.0 1265.8,127.5 1266.1,169.3 1266.3,234.6 1266.6,214.6 1266.9,170.3 1267.2,147.4 1267.5,155.2 1267.8,160.5 1268.1,169.9 1268.4,235.2 1268.7,168.8 1268.9,155.4 1269.2,235.5 1269.5,148.7 1269.8,192.6 1270.1,166.6 1270.4,176.3 1270.7,171.0 1271.0,184.7 1271.2,186.9 1271.5,168.5 1271.8,185.7 1272.1,114.7 1272.4,172.4 1272.7,177.3 1273.0,175.2 1273.3,185.8 1273.6,213.6 1273.8,169.5 1274.1,158.2 1274.4,194.7 1274.7,164.4 1275.0,188.9 1275.3,165.3 1275.6,157.5 1275.9,155.0 1276.2,156.0 1276.4,178.9 1276.7,147.2 1277.0,173.8 1277.3,157.8 1277.6,214.9 1277.9,171.0 1278.2,190.7 1278.5,152.6 1278.8,187.4 1279.0,182.8 1279.3,187.1 1279.6,148.1 1279.9,168.3 1280.2,210.1 1280.5,150.2 1280.8,123.4 1281.1,128.9 1281.4,176.4 1281.6,163.4 1281.9,154.8 1282.2,147.1 1282.5,164.3 1282.8,187.0 1283.1,149.9 1283.4,152.7 1283.7,191.7 1283.9,172.4 1284.2,159.6 1284.5,165.1 1284.8,154.5 1285.1,149.1 1285.4,154.2 1285.7,167.3 1286.0,192.1 1286.3,152.7 1286.5,136.9 1286.8,125.4 1287.1,165.7 1287.4,165.8 1287.7,136.0 1288.0,136.2 1288.3,158.2 1288.6,150.8 1288.9,180.3 1289.1,153.4 1289.4,181.6 1289.7,168.0 1290.0,167.5 1290.3,174.5 1290.6,207.4 1290.9,181.7 1291.2,158.4 1291.5,166.3 1291.7,173.0 1292.0,156.5 1292.3,151.3 1292.6,148.1 1292.9,181.3 1293.2,164.7 1293.5,171.8 1293.8,182.7 1294.1,195.2 1294.3,167.1 1294.6,182.6 1294.9,121.9 1295.2,167.1 1295.5,169.6 1295.8,173.1 1296.1,127.5 1296.4,184.0 1296.6,168.4 1296.9,180.6 1297.2,167.6 1297.5,165.9 1297.8,143.1 1298.1,193.6 1298.4,165.6 1298.7,132.7 1299.0,175.4 1299.2,168.7 1299.5,182.9 1299.8,216.8 1300.1,167.2 1300.4,141.7 1300.7,174.4 1301.0,201.5 1301.3,159.5 1301.6,163.1 1301.8,144.8 1302.1,251.2 1302.4,169.1 1302.7,155.8 1303.0,197.9 1303.3,141.5 1303.6,158.9 1303.9,141.5 1304.2,141.6 1304.4,166.5 1304.7,163.4 1305.0,176.3 1305.3,197.5 1305.6,161.4 1305.9,155.7 1306.2,177.4 1306.5,144.6 1306.8,154.9 1307.0,148.1 1307.3,168.8 1307.6,185.2 1307.9,140.8 1308.2,143.1 1308.5,154.7 1308.8,159.2 1309.1,156.1 1309.3,153.1 1309.6,158.5 1309.9,182.1 1310.2,136.2 1310.5,171.8 1310.8,152.4 1311.1,151.0 1311.4,141.1 1311.7,169.2 1311.9,124.5 1312.2,132.0 1312.5,129.2 1312.8,120.6 1313.1,150.4 1313.4,175.7 1313.7,131.2 1314.0,115.7 1314.3,116.8 1314.5,140.2 1314.8,132.6 1315.1,126.1 1315.4,154.5 1315.7,137.3 1316.0,135.7 1316.3,104.0 1316.6,133.7 1316.9,102.4 1317.1,122.5 1317.4,144.1 1317.7,91.1 1318.0,132.4 1318.3,110.5 1318.6,95.4 1318.9,123.4 1319.2,131.1 1319.5,101.3 1319.7,112.6 1320.0,127.6 1320.3,124.7 1320.6,115.1 1320.9,97.6 1321.2,111.7 1321.5,99.4 1321.8,86.6 1322.0,90.2 1322.3,87.4 1322.6,88.8 1322.9,120.1 1323.2,87.0 1323.5,96.0 1323.8,99.9 1324.1,109.2 1324.4,113.3 1324.6,106.9 1324.9,94.0 1325.2,104.8 1325.5,99.7 1325.8,96.3 1326.1,82.0 1326.4,90.3 1326.7,87.5 1327.0,71.8 1327.2,86.5 1327.5,76.4 1327.8,90.6 1328.1,76.3 1328.4,76.9 1328.7,75.1 1329.0,79.5 1329.3,105.3 1329.6,75.3 1329.8,75.4 1330.1,61.8 1330.4,61.7 1330.7,77.3 1331.0,61.9 1331.3,69.2 1331.6,61.1 1331.9,66.9 1332.2,72.6 1332.4,54.6 1332.7,57.5 1333.0,67.3 1333.3,70.2 1333.6,60.7 1333.9,63.4 1334.2,57.5 1334.5,51.0 1334.7,45.5 1335.0,54.4 1335.3,44.4 1335.6,44.7 1335.9,51.9 1336.2,56.9 1336.5,43.8 1336.8,44.1 1337.1,35.1 1337.3,38.6 1337.6,40.8 1337.9,35.8 1338.2,47.7 1338.5,41.2 1338.8,42.6 1339.1,32.5 1339.4,37.2 1339.7,51.3 1339.9,32.2 1340.2,42.1 1340.5,33.7 1340.8,39.0 1341.1,35.1 1341.4,32.8 1341.7,34.4 1342.0,39.3 1342.3,27.9 1342.5,32.2 1342.8,33.7 1343.1,30.0 1343.4,35.3 1343.7,23.7 1344.0,31.1 1344.3,30.1 1344.6,29.8 1344.8,35.3 1345.1,36.2 1345.4,29.5 1345.7,28.5 1346.0,23.6 1346.3,27.5 1346.6,34.4 1346.9,26.6 1347.2,24.9 1347.4,23.8 1347.7,26.7 1348.0,44.8 1348.3,22.4 1348.6,30.9 1348.9,24.6 1349.2,34.4 1349.5,23.3 1349.8,30.3 1350.0,21.4 1350.3,18.0 1350.6,20.6 1350.9,31.3 1351.2,30.0 1351.5,29.5 1351.8,22.2 1352.1,23.5 1352.4,24.1 1352.6,23.3 1352.9,21.8 1353.2,21.3 1353.5,16.3 1353.8,24.3 1354.1,22.9 1354.4,32.3 1354.7,29.7 1355.0,26.7 1355.2,28.8 1355.5,22.2 1355.8,18.2 1356.1,25.0 1356.4,25.2 1356.7,25.2 1357.0,22.1 1357.3,25.2 1357.5,20.6 1357.8,21.1 1358.1,20.9 1358.4,18.9 1358.7,22.2 1359.0,21.6 1359.3,14.0 1359.6,22.4 1359.9,18.4 1360.1,21.8 1360.4,24.2 1360.7,24.1 1361.0,25.8 1361.3,21.8 1361.6,24.7 1361.9,23.8 1362.2,16.0 1362.5,22.3 1362.7,16.3 1363.0,20.4 1363.3,17.5 1363.6,24.4 1363.9,20.8 1364.2,12.0 1364.5,17.5 1364.8,16.7 1365.1,20.3 1365.3,17.3 1365.6,26.8 1365.9,25.4 1366.2,19.3 1366.5,17.5 1366.8,23.3 1367.1,22.2 1367.4,23.0 1367.7,22.2 1367.9,27.1 1368.2,28.2 1368.5,21.8 1368.8,29.7 1369.1,26.2 1369.4,24.7 1369.7,26.7 1370.0,20.6 1370.2,24.0 1370.5,22.3 1370.8,26.8 1371.1,25.7 1371.4,19.8 1371.7,20.6 1372.0,24.7 1372.3,20.9 1372.6,21.8 1372.8,22.1 1373.1,15.4 1373.4,25.0 1373.7,21.3 1374.0,21.4 1374.3,24.7 1374.6,29.3 1374.9,20.5 1375.2,22.7 1375.4,23.9 1375.7,24.2 1376.0,24.3 1376.3,28.9 1376.6,23.3 1376.9,33.6 1377.2,25.2 1377.5,32.5 1377.8,27.3 1378.0,22.4 1378.3,27.3 1378.6,28.7 1378.9,24.1 1379.2,28.2 1379.5,29.2 1379.8,29.4 1380.1,33.4 1380.4,25.0 1380.6,26.2 1380.9,34.6 1381.2,26.2 1381.5,35.8 1381.8,27.5 1382.1,35.6 1382.4,21.0 1382.7,39.0 1382.9,25.2 1383.2,27.5 1383.5,40.5 1383.8,46.5 1384.1,25.3 1384.4,27.0 1384.7,41.0 1385.0,35.7 1385.3,39.2 1385.5,38.6 1385.8,37.0 1386.1,24.9 1386.4,33.5 1386.7,35.5 1387.0,36.2 1387.3,31.5 1387.6,45.3 1387.9,39.7 1388.1,28.0 1388.4,40.9 1388.7,37.1 1389.0,33.7 1389.3,27.6 1389.6,38.0 1389.9,35.0 1390.2,30.1 1390.5,33.7 1390.7,31.3 1391.0,31.9 1391.3,45.8 1391.6,34.3 1391.9,33.0 1392.2,37.8 1392.5,29.8 1392.8,47.9 1393.1,42.7 1393.3,30.9 1393.6,36.1 1393.9,41.6 1394.2,36.5 1394.5,33.0 1394.8,41.4 1395.1,34.7 1395.4,39.2 1395.6,39.2 1395.9,39.0 1396.2,32.9 1396.5,44.2 1396.8,40.3 1397.1,35.0 1397.4,44.5 1397.7,46.2 1398.0,35.1 1398.2,37.8 1398.5,38.4 1398.8,46.9 1399.1,42.3 1399.4,23.3 1399.7,42.0 1400.0,38.9 1400.3,43.8 1400.6,38.4 1400.8,28.2 1401.1,35.8 1401.4,32.6 1401.7,38.0 1402.0,25.9 1402.3,34.4 1402.6,41.6 1402.9,30.9 1403.2,36.8 1403.4,31.6 1403.7,33.9 1404.0,33.1 1404.3,33.7 1404.6,39.1 1404.9,42.1 1405.2,28.9 1405.5,34.7 1405.8,32.3 1406.0,36.2 1406.3,44.4 1406.6,40.4 1406.9,26.1 1407.2,52.2 1407.5,35.4 1407.8,41.1 1408.1,36.0 1408.3,35.2 1408.6,34.3 1408.9,33.5 1409.2,36.5 1409.5,36.2 1409.8,33.2 1410.1,31.4 1410.4,34.0 1410.7,23.9 1410.9,32.3 1411.2,32.7 1411.5,37.2 1411.8,28.2 1412.1,39.6 1412.4,43.0 1412.7,39.7 1413.0,31.2 1413.3,41.1 1413.5,28.0 1413.8,35.4 1414.1,43.9 1414.4,37.1 1414.7,26.2 1415.0,41.0 1415.3,43.8 1415.6,33.9 1415.9,29.8 1416.1,31.6 1416.4,39.3 1416.7,36.7 1417.0,36.1 1417.3,31.6 1417.6,26.3 1417.9,39.4 1418.2,31.6 1418.4,41.4 1418.7,36.2 1419.0,45.6 1419.3,44.9 1419.6,38.1 1419.9,46.5 1420.2,35.8 1420.5,45.1 1420.8,41.5 1421.0,42.9 1421.3,44.9 1421.6,42.2 1421.9,36.1 1422.2,25.4 1422.5,52.4 1422.8,42.4 1423.1,46.1 1423.4,51.9 1423.6,43.4 1423.9,52.5 1424.2,46.8 1424.5,36.9 1424.8,62.9 1425.1,45.3 1425.4,44.0 1425.7,55.9 1426.0,43.9 1426.2,45.7 1426.5,52.0 1426.8,38.7 1427.1,61.4 1427.4,44.3 1427.7,52.6 1428.0,60.7 1428.3,52.9 1428.6,55.0 1428.8,44.1 1429.1,67.2 1429.4,54.8 1429.7,57.9 1430.0,37.6 1430.3,65.8 1430.6,43.5 1430.9,73.8 1431.1,51.9 1431.4,57.6 1431.7,52.4 1432.0,64.9 1432.3,79.6 1432.6,75.7 1432.9,43.8 1433.2,85.2 1433.5,70.2 1433.7,50.2 1434.0,70.3 1434.3,71.0 1434.6,77.6 1434.9,49.4 1435.2,40.5 1435.5,77.2 1435.8,62.6 1436.1,54.8 1436.3,41.3 1436.6,99.1 1436.9,67.8 1437.2,62.2 1437.5,90.5 1437.8,67.0 1438.1,70.7 1438.4,64.7 1438.7,82.8 1438.9,70.5 1439.2,85.1 1439.5,69.7 1439.8,76.7 1440.1,84.9 1440.4,100.1 1440.7,58.9 1441.0,67.1 1441.3,71.1 1441.5,93.6 1441.8,90.1 1442.1,62.4 1442.4,76.3 1442.7,100.0 1443.0,88.0 1443.3,87.5 1443.6,93.4 1443.8,105.2 1444.1,73.8 1444.4,84.4 1444.7,97.0 1445.0,118.5 1445.3,104.6 1445.6,96.8 1445.9,84.5 1446.2,104.2 1446.4,82.5 1446.7,98.3 1447.0,112.9 1447.3,141.3 1447.6,121.5 1447.9,127.4 1448.2,107.4 1448.5,100.7 1448.8,84.8 1449.0,108.0 1449.3,127.2 1449.6,71.9 1449.9,105.5 1450.2,115.7 1450.5,116.6 1450.8,135.3 1451.1,103.8 1451.4,109.0 1451.6,89.9 1451.9,98.7 1452.2,103.5 1452.5,97.9 1452.8,124.5 1453.1,128.1 1453.4,122.5 1453.7,143.6 1454.0,126.1 1454.2,130.3 1454.5,114.5 1454.8,127.1 1455.1,160.2 1455.4,128.4 1455.7,105.8 1456.0,162.3 1456.3,145.0 1456.5,132.7 1456.8,156.8 1457.1,144.4 1457.4,135.0 1457.7,159.7 1458.0,132.7 1458.3,131.6 1458.6,161.7 1458.9,140.0 1459.1,122.5 1459.4,145.2 1459.7,135.3 1460.0,132.4 1460.3,148.5 1460.6,127.7 1460.9,138.9 1461.2,163.8 1461.5,137.5 1461.7,131.9 1462.0,133.4 1462.3,159.7 1462.6,140.4 1462.9,124.5 1463.2,145.4 1463.5,128.7 1463.8,127.0 1464.1,151.5 1464.3,139.3 1464.6,156.9 1464.9,132.7 1465.2,154.1 1465.5,162.9 1465.8,153.7 1466.1,154.9 1466.4,147.0 1466.7,145.8 1466.9,176.1 1467.2,167.0 1467.5,148.8 1467.8,146.9 1468.1,154.5 1468.4,107.9 1468.7,136.0 1469.0,158.4 1469.2,143.8 1469.5,132.7 1469.8,151.1 1470.1,190.7 1470.4,156.6 1470.7,209.4 1471.0,119.1 1471.3,193.7 1471.6,130.5 1471.8,162.7 1472.1,142.5 1472.4,165.8 1472.7,157.2 1473.0,139.4 1473.3,159.4 1473.6,141.3 1473.9,163.0 1474.2,169.5 1474.4,166.1 1474.7,171.7 1475.0,164.7 1475.3,136.7 1475.6,185.1 1475.9,194.6 1476.2,163.6 1476.5,131.4 1476.8,143.8 1477.0,138.7 1477.3,140.3 1477.6,178.2 1477.9,162.2 1478.2,214.7 1478.5,176.6 1478.8,153.5 1479.1,195.1 1479.4,205.0 1479.6,190.6 1479.9,161.8 1480.2,143.8 1480.5,117.1 1480.8,139.2 1481.1,195.8 1481.4,211.3 1481.7,164.3 1481.9,147.1 1482.2,198.5 1482.5,177.7 1482.8,176.5 1483.1,167.4 1483.4,171.7 1483.7,158.5 1484.0,148.4 1484.3,167.4 1484.5,154.6 1484.8,131.0 1485.1,188.8 1485.4,189.5 1485.7,159.9 1486.0,134.4 1486.3,166.7 1486.6,149.2 1486.9,176.1 1487.1,152.9 1487.4,182.5 1487.7,157.8 1488.0,163.3 1488.3,163.4 1488.6,144.8 1488.9,150.8 1489.2,182.6 1489.5,154.5 1489.7,203.7 1490.0,152.7 1490.3,123.9 1490.6,161.5 1490.9,162.0 1491.2,170.5 1491.5,156.0 1491.8,180.3 1492.0,159.1 1492.3,176.9 1492.6,179.8 1492.9,169.5 1493.2,172.9 1493.5,204.5 1493.8,132.6 1494.1,257.4 1494.4,203.7 1494.6,151.5 1494.9,211.4 1495.2,167.8 1495.5,158.4 1495.8,188.4 1496.1,222.7 1496.4,173.4 1496.7,166.9 1497.0,152.6 1497.2,185.5 1497.5,176.2 1497.8,163.7 1498.1,177.0 1498.4,175.7 1498.7,166.2 1499.0,189.3 1499.3,141.2 1499.6,187.7 1499.8,169.8 1500.1,176.5 1500.4,183.3 1500.7,160.2 1501.0,151.2 1501.3,142.9 1501.6,158.9 1501.9,177.8 1502.2,153.5 1502.4,195.7 1502.7,168.1 1503.0,159.3 1503.3,158.4 1503.6,189.5 1503.9,286.1 1504.2,181.9 1504.5,177.3 1504.7,197.5 1505.0,189.9 1505.3,167.2 1505.6,146.2 1505.9,167.2 1506.2,145.6 1506.5,162.7 1506.8,158.2 1507.1,149.0 1507.3,172.6 1507.6,160.6 1507.9,172.1 1508.2,175.9 1508.5,153.2 1508.8,177.9 1509.1,161.9 1509.4,176.0 1509.7,163.4 1509.9,170.0 1510.2,142.0 1510.5,158.2 1510.8,157.4 1511.1,130.7 1511.4,200.8 1511.7,174.3 1512.0,198.5 1512.3,154.5 1512.5,146.5 1512.8,142.4 1513.1,147.6 1513.4,164.7 1513.7,122.7 1514.0,144.6 1514.3,195.9 1514.6,165.0 1514.9,140.3 1515.1,153.4 1515.4,151.8 1515.7,184.4 1516.0,139.8 1516.3,154.3 1516.6,122.4 1516.9,154.9 1517.2,155.4 1517.4,133.5 1517.7,135.1 1518.0,134.9 1518.3,140.8 1518.6,133.2 1518.9,140.8 1519.2,155.0 1519.5,120.3 1519.8,143.8 1520.0,131.7 1520.3,117.3 1520.6,126.1 1520.9,89.9 1521.2,143.4 1521.5,133.4 1521.8,121.1 1522.1,103.0 1522.4,123.6 1522.6,138.3 1522.9,103.2 1523.2,156.1 1523.5,119.0 1523.8,104.0 1524.1,123.3 1524.4,119.6 1524.7,106.7 1525.0,114.7 1525.2,107.7 1525.5,122.4 1525.8,111.3 1526.1,122.7 1526.4,127.7 1526.7,86.1 1527.0,101.5 1527.3,95.3 1527.6,117.5 1527.8,105.5 1528.1,107.0 1528.4,120.7 1528.7,96.9 1529.0,111.2 1529.3,104.5 1529.6,119.1 1529.9,89.6 1530.1,125.6 1530.4,95.4 1530.7,109.6 1531.0,104.8 1531.3,84.6 1531.6,100.8 1531.9,94.2 1532.2,95.1 1532.5,108.3 1532.7,79.2 1533.0,116.4 1533.3,92.2 1533.6,95.0 1533.9,110.6 1534.2,89.6 1534.5,87.2 1534.8,91.6 1535.1,100.1 1535.3,86.5 1535.6,79.4 1535.9,87.9 1536.2,72.4 1536.5,80.6 1536.8,81.1 1537.1,74.5 1537.4,94.1 1537.7,92.2 1537.9,81.7 1538.2,81.1 1538.5,71.3 1538.8,74.3 1539.1,82.9 1539.4,82.0 1539.7,86.0 1540.0,86.3 1540.3,110.7 1540.5,73.6 1540.8,85.6 1541.1,84.0 1541.4,78.9 1541.7,84.3 1542.0,81.3 1542.3,97.9 1542.6,75.0 1542.8,80.3 1543.1,75.5 1543.4,73.5 1543.7,91.9 1544.0,55.2 1544.3,73.7 1544.6,72.9 1544.9,88.7 1545.2,68.1 1545.4,69.3 1545.7,75.1 1546.0,69.5 1546.3,60.6 1546.6,73.1 1546.9,77.0 1547.2,58.7 1547.5,66.6 1547.8,69.6 1548.0,49.7 1548.3,80.9 1548.6,67.9 1548.9,64.0 1549.2,68.6 1549.5,63.4 1549.8,63.4 1550.1,68.9 1550.4,65.4 1550.6,60.7 1550.9,59.6 1551.2,57.7 1551.5,55.7 1551.8,59.1 1552.1,56.7 1552.4,62.5 1552.7,61.1 1553.0,51.5 1553.2,72.1 1553.5,75.8 1553.8,40.2 1554.1,69.4 1554.4,46.0 1554.7,67.6 1555.0,52.8 1555.3,43.8 1555.5,44.3 1555.8,59.7 1556.1,61.7 1556.4,62.0 1556.7,47.4 1557.0,54.1 1557.3,51.0 1557.6,48.9 1557.9,47.4 1558.1,46.0 1558.4,48.1 1558.7,58.4 1559.0,38.8 1559.3,63.6" fill="none" stroke="#404040" stroke-width="2.4" stroke-linejoin="round" /><polyline points="923.0,226.7 923.3,199.5 923.6,204.3 923.8,201.2 924.1,177.0 924.4,234.8 924.7,214.1 925.0,218.8 925.3,182.7 925.6,149.7 925.9,160.0 926.2,141.8 926.5,179.8 926.7,135.6 927.0,148.2 927.3,96.5 927.6,106.8 927.9,141.0 928.2,113.0 928.5,98.5 928.8,94.3 929.1,105.4 929.3,104.1 929.6,95.5 929.9,99.0 930.2,95.8 930.5,89.1 930.8,92.0 931.1,71.9 931.4,97.2 931.7,67.8 932.0,82.1 932.2,79.3 932.5,85.9 932.8,71.8 933.1,71.3 933.4,65.6 933.7,71.2 934.0,64.0 934.3,47.0 934.6,58.9 934.8,66.6 935.1,52.3 935.4,60.8 935.7,53.9 936.0,53.1 936.3,60.4 936.6,21.3 936.9,58.5 937.2,51.0 937.4,57.3 937.7,50.7 938.0,46.3 938.3,56.5 938.6,43.8 938.9,40.8 939.2,44.1 939.5,43.2 939.8,43.3 940.1,35.8 940.3,48.3 940.6,49.0 940.9,45.1 941.2,53.5 941.5,56.7 941.8,52.5 942.1,45.2 942.4,44.4 942.7,54.8 942.9,56.2 943.2,61.0 943.5,46.8 943.8,45.9 944.1,42.0 944.4,39.1 944.7,43.7 945.0,41.7 945.3,49.5 945.6,49.6 945.8,42.7 946.1,40.5 946.4,39.9 946.7,40.3 947.0,39.2 947.3,38.9 947.6,50.5 947.9,45.5 948.2,39.8 948.4,38.9 948.7,48.5 949.0,35.8 949.3,43.1 949.6,41.9 949.9,39.3 950.2,36.9 950.5,46.8 950.8,35.3 951.0,39.4 951.3,43.1 951.6,40.6 951.9,49.2 952.2,41.9 952.5,37.8 952.8,41.7 953.1,39.7 953.4,38.6 953.7,37.5 953.9,32.7 954.2,37.4 954.5,38.3 954.8,34.3 955.1,26.9 955.4,37.9 955.7,33.6 956.0,43.1 956.3,29.1 956.5,32.1 956.8,28.6 957.1,34.8 957.4,39.1 957.7,29.7 958.0,30.1 958.3,37.4 958.6,40.0 958.9,30.6 959.2,33.2 959.4,19.8 959.7,34.8 960.0,34.2 960.3,32.0 960.6,39.1 960.9,35.3 961.2,23.0 961.5,31.4 961.8,33.5 962.0,36.6 962.3,27.7 962.6,27.3 962.9,29.2 963.2,32.2 963.5,28.8 963.8,28.4 964.1,33.5 964.4,27.1 964.6,40.3 964.9,36.3 965.2,31.5 965.5,30.5 965.8,35.6 966.1,28.3 966.4,24.7 966.7,27.6 967.0,28.7 967.3,25.7 967.5,27.7 967.8,35.3 968.1,30.7 968.4,23.3 968.7,35.3 969.0,29.3 969.3,31.6 969.6,34.1 969.9,34.7 970.1,29.2 970.4,28.2 970.7,28.3 971.0,37.2 971.3,31.6 971.6,28.6 971.9,25.8 972.2,27.4 972.5,26.8 972.8,25.7 973.0,27.2 973.3,35.8 973.6,31.6 973.9,35.7 974.2,44.5 974.5,41.2 974.8,22.2 975.1,38.9 975.4,44.9 975.6,36.7 975.9,26.2 976.2,34.6 976.5,32.5 976.8,36.4 977.1,35.7 977.4,29.0 977.7,31.8 978.0,36.7 978.2,41.0 978.5,31.3 978.8,38.5 979.1,36.2 979.4,36.6 979.7,41.9 980.0,32.6 980.3,39.9 980.6,42.7 980.9,48.7 981.1,46.9 981.4,32.4 981.7,47.1 982.0,39.0 982.3,43.8 982.6,39.5 982.9,39.4 983.2,47.4 983.5,45.3 983.7,43.7 984.0,44.1 984.3,45.5 984.6,47.7 984.9,43.2 985.2,40.1 985.5,45.2 985.8,53.1 986.1,47.7 986.4,50.5 986.6,49.2 986.9,42.5 987.2,55.0 987.5,54.8 987.8,60.8 988.1,58.5 988.4,61.1 988.7,49.8 989.0,58.1 989.2,64.1 989.5,50.8 989.8,70.6 990.1,59.2 990.4,59.6 990.7,63.5 991.0,69.7 991.3,70.3 991.6,72.9 991.8,67.4 992.1,86.9 992.4,77.0 992.7,73.8 993.0,78.6 993.3,86.3 993.6,76.7 993.9,79.7 994.2,70.0 994.5,65.9 994.7,73.7 995.0,85.7 995.3,74.4 995.6,78.4 995.9,67.8 996.2,60.9 996.5,69.0 996.8,57.5 997.1,60.3 997.3,65.2 997.6,74.9 997.9,67.7 998.2,77.7 998.5,61.2 998.8,67.2 999.1,58.8 999.4,83.8 999.7,81.2 1000.0,63.7 1000.2,61.8 1000.5,56.9 1000.8,75.3 1001.1,75.1 1001.4,81.9 1001.7,76.5 1002.0,79.1 1002.3,77.4 1002.6,52.0 1002.8,74.7 1003.1,77.8 1003.4,74.0 1003.7,87.9 1004.0,61.7 1004.3,64.5 1004.6,66.0 1004.9,72.0 1005.2,71.7 1005.4,78.4 1005.7,85.9 1006.0,58.8 1006.3,79.2 1006.6,68.4 1006.9,79.9 1007.2,79.0 1007.5,80.5 1007.8,91.5 1008.1,81.8 1008.3,79.0 1008.6,76.2 1008.9,80.0 1009.2,76.5 1009.5,83.7 1009.8,87.3 1010.1,105.4 1010.4,94.0 1010.7,76.6 1010.9,90.4 1011.2,85.5 1011.5,95.8 1011.8,101.2 1012.1,77.3 1012.4,94.1 1012.7,84.7 1013.0,94.9 1013.3,104.0 1013.6,124.3 1013.8,102.8 1014.1,120.7 1014.4,128.8 1014.7,94.7 1015.0,101.3 1015.3,103.3 1015.6,111.0 1015.9,113.3 1016.2,109.5 1016.4,113.9 1016.7,116.3 1017.0,109.8 1017.3,149.9 1017.6,110.6 1017.9,131.2 1018.2,113.9 1018.5,111.2 1018.8,139.4 1019.1,119.2 1019.3,121.0 1019.6,143.6 1019.9,143.2 1020.2,135.9 1020.5,172.4 1020.8,148.1 1021.1,140.5 1021.4,152.2 1021.7,172.3 1021.9,155.2 1022.2,126.2 1022.5,130.9 1022.8,156.7 1023.1,170.3 1023.4,158.9 1023.7,160.3 1024.0,174.5 1024.3,170.6 1024.5,155.3 1024.8,151.5 1025.1,215.6 1025.4,154.3 1025.7,172.0 1026.0,154.6 1026.3,178.8 1026.6,171.9 1026.9,150.2 1027.2,235.8 1027.4,154.3 1027.7,184.2 1028.0,227.1 1028.3,245.3 1028.6,187.2 1028.9,217.1 1029.2,176.1 1029.5,194.6 1029.8,204.0 1030.0,181.3 1030.3,200.6 1030.6,190.3 1030.9,190.0 1031.2,203.3 1031.5,194.5 1031.8,196.3 1032.1,247.9 1032.4,224.7 1032.7,223.2 1032.9,231.3 1033.2,262.2 1033.5,240.1 1033.8,220.3 1034.1,225.9 1034.4,195.3 1034.7,249.5 1035.0,247.3 1035.3,252.8 1035.5,248.3 1035.8,257.4 1036.1,291.4 1036.4,236.8 1036.7,222.0 1037.0,220.2 1037.3,278.8 1037.6,257.4 1037.9,205.8 1038.1,258.5 1038.4,248.1 1038.7,262.8 1039.0,233.6 1039.3,236.0 1039.6,201.0 1039.9,251.0 1040.2,253.6 1040.5,299.5 1040.8,278.9 1041.0,287.8 1041.3,278.6 1041.6,306.5 1041.9,238.1 1042.2,359.2 1042.5,265.7 1042.8,309.0 1043.1,265.2 1043.4,229.3 1043.6,299.3 1043.9,266.7 1044.2,279.5 1044.5,270.2 1044.8,266.8 1045.1,297.3 1045.4,284.8 1045.7,296.9 1046.0,304.0 1046.3,315.9 1046.5,253.2 1046.8,302.5 1047.1,262.3 1047.4,265.7 1047.7,310.9 1048.0,251.8 1048.3,307.4 1048.6,264.3 1048.9,240.3 1049.1,303.9 1049.4,310.3 1049.7,310.8 1050.0,216.1 1050.3,294.5 1050.6,320.6 1050.9,259.7 1051.2,288.9 1051.5,284.7 1051.7,312.9 1052.0,348.9 1052.3,305.1 1052.6,314.2 1052.9,331.0 1053.2,315.2 1053.5,311.0 1053.8,259.5 1054.1,262.2 1054.4,267.5 1054.6,298.0 1054.9,319.0 1055.2,273.2 1055.5,268.2 1055.8,252.1 1056.1,281.9 1056.4,284.6 1056.7,271.5 1057.0,307.2 1057.2,303.3 1057.5,260.9 1057.8,315.9 1058.1,281.2 1058.4,255.8 1058.7,271.2 1059.0,265.1 1059.3,309.2 1059.6,280.1 1059.9,283.8 1060.1,257.9 1060.4,262.5 1060.7,273.1 1061.0,218.4 1061.3,256.8 1061.6,279.9 1061.9,288.5 1062.2,271.1 1062.5,285.7 1062.7,221.6 1063.0,251.4 1063.3,275.7 1063.6,284.6 1063.9,295.5 1064.2,271.7 1064.5,225.3 1064.8,237.6 1065.1,261.9 1065.3,255.1 1065.6,310.7 1065.9,234.9 1066.2,261.4 1066.5,214.9 1066.8,257.5 1067.1,264.7 1067.4,243.6 1067.7,266.2 1068.0,209.1 1068.2,237.4 1068.5,233.8 1068.8,233.4 1069.1,251.3 1069.4,226.7 1069.7,234.0 1070.0,188.7 1070.3,234.8 1070.6,224.9 1070.8,246.9 1071.1,243.5 1071.4,240.6 1071.7,256.9 1072.0,227.7 1072.3,202.1 1072.6,235.1 1072.9,237.0 1073.2,278.9 1073.5,202.5 1073.7,168.0 1074.0,229.7 1074.3,183.5 1074.6,198.7 1074.9,239.6 1075.2,199.5 1075.5,243.6 1075.8,226.7 1076.1,185.0 1076.3,212.8 1076.6,247.7 1076.9,177.9 1077.2,244.1 1077.5,218.4 1077.8,222.6 1078.1,216.9 1078.4,234.4 1078.7,254.2 1078.9,161.8 1079.2,234.5 1079.5,232.0 1079.8,271.7 1080.1,205.1 1080.4,173.3 1080.7,169.8 1081.0,140.7 1081.3,165.8 1081.6,192.9 1081.8,201.8 1082.1,165.1 1082.4,201.6 1082.7,194.8 1083.0,223.0 1083.3,195.4 1083.6,147.6 1083.9,197.8 1084.2,185.2 1084.4,253.6 1084.7,159.8 1085.0,182.8 1085.3,156.3 1085.6,183.9 1085.9,209.5 1086.2,220.8 1086.5,174.5 1086.8,186.2 1087.1,207.9 1087.3,184.9 1087.6,197.4 1087.9,164.0 1088.2,189.8 1088.5,207.8 1088.8,179.8 1089.1,189.8 1089.4,141.0 1089.7,185.2 1089.9,203.9 1090.2,173.5 1090.5,177.0 1090.8,163.8 1091.1,163.9 1091.4,191.3 1091.7,167.9 1092.0,168.0 1092.3,191.6 1092.5,176.3 1092.8,157.9 1093.1,197.0 1093.4,184.6 1093.7,169.9 1094.0,160.7 1094.3,146.5 1094.6,186.6 1094.9,149.4 1095.2,141.4 1095.4,120.6 1095.7,162.2 1096.0,171.9 1096.3,184.1 1096.6,138.5 1096.9,121.9 1097.2,162.8 1097.5,137.9 1097.8,128.1 1098.0,125.2 1098.3,152.3 1098.6,129.6 1098.9,142.8 1099.2,160.1 1099.5,134.2 1099.8,131.2 1100.1,157.0 1100.4,127.6 1100.7,95.5 1100.9,164.6 1101.2,119.8 1101.5,114.8 1101.8,131.0 1102.1,124.8 1102.4,135.6 1102.7,103.4 1103.0,147.1 1103.3,130.9 1103.5,164.7 1103.8,120.8 1104.1,119.2 1104.4,157.1 1104.7,141.3 1105.0,115.4 1105.3,132.8 1105.6,145.4 1105.9,168.3 1106.1,115.5 1106.4,85.9 1106.7,128.8 1107.0,112.0 1107.3,111.7 1107.6,120.0 1107.9,116.1 1108.2,115.1 1108.5,131.7 1108.8,72.4 1109.0,69.3 1109.3,109.1 1109.6,83.2 1109.9,127.0 1110.2,116.3 1110.5,92.8 1110.8,130.3 1111.1,132.1 1111.4,104.2 1111.6,141.6 1111.9,80.6 1112.2,95.9 1112.5,103.4 1112.8,96.0 1113.1,120.4 1113.4,120.2 1113.7,91.8 1114.0,89.7 1114.3,101.5 1114.5,103.9 1114.8,110.7 1115.1,81.2 1115.4,123.7 1115.7,113.8 1116.0,108.6 1116.3,122.5 1116.6,119.0 1116.9,114.2 1117.1,84.7 1117.4,73.3 1117.7,93.5 1118.0,120.4 1118.3,106.0 1118.6,99.3 1118.9,100.7 1119.2,101.8 1119.5,89.7 1119.8,121.8 1120.0,103.5 1120.3,93.0 1120.6,86.4 1120.9,91.6 1121.2,94.7 1121.5,96.4 1121.8,102.6 1122.1,93.0 1122.4,96.3 1122.6,134.0 1122.9,79.0 1123.2,79.0 1123.5,96.9 1123.8,85.1 1124.1,78.3 1124.4,114.3 1124.7,89.7 1125.0,85.2 1125.2,108.2 1125.5,105.2 1125.8,83.8 1126.1,86.0 1126.4,74.1 1126.7,92.9 1127.0,75.9 1127.3,75.7 1127.6,85.2 1127.9,92.7 1128.1,87.4 1128.4,80.4 1128.7,79.6 1129.0,90.5 1129.3,85.4 1129.6,91.0 1129.9,56.9 1130.2,77.3 1130.5,75.7 1130.7,79.7 1131.0,72.9 1131.3,65.2 1131.6,73.4 1131.9,89.2 1132.2,50.5 1132.5,59.1 1132.8,62.8 1133.1,66.0 1133.4,60.9 1133.6,64.0 1133.9,54.4 1134.2,59.0 1134.5,57.2 1134.8,53.0 1135.1,55.6 1135.4,45.5 1135.7,29.1 1136.0,48.2 1136.2,53.7 1136.5,36.6 1136.8,42.2 1137.1,29.2 1137.4,37.7 1137.7,33.8 1138.0,42.5 1138.3,46.1 1138.6,37.8 1138.8,32.6 1139.1,39.9 1139.4,42.8 1139.7,37.2 1140.0,35.9 1140.3,34.8 1140.6,32.9 1140.9,20.9 1141.2,31.8 1141.5,33.9 1141.7,36.3 1142.0,27.4 1142.3,38.2 1142.6,24.1 1142.9,30.7 1143.2,37.5 1143.5,29.6 1143.8,30.9 1144.1,24.6 1144.3,37.1 1144.6,29.1 1144.9,30.1 1145.2,25.6 1145.5,35.0 1145.8,33.3 1146.1,20.6 1146.4,27.0 1146.7,36.3 1147.0,27.9 1147.2,33.0 1147.5,32.5 1147.8,34.8 1148.1,24.6 1148.4,31.6 1148.7,28.1 1149.0,28.6 1149.3,35.9 1149.6,32.3 1149.8,25.3 1150.1,36.0 1150.4,27.6 1150.7,29.1 1151.0,25.6 1151.3,25.4 1151.6,24.7 1151.9,28.2 1152.2,27.2 1152.4,31.6 1152.7,30.8 1153.0,24.1 1153.3,31.0 1153.6,23.5 1153.9,23.6 1154.2,31.8 1154.5,25.5 1154.8,31.8 1155.1,26.5 1155.3,31.6 1155.6,26.4 1155.9,27.1 1156.2,32.7 1156.5,18.4 1156.8,23.4 1157.1,35.2 1157.4,26.1 1157.7,29.7 1157.9,18.2 1158.2,27.9 1158.5,25.8 1158.8,28.4 1159.1,24.6 1159.4,30.0 1159.7,31.6 1160.0,29.7 1160.3,29.3 1160.6,24.4 1160.8,26.9 1161.1,29.3 1161.4,29.1 1161.7,31.4 1162.0,26.6 1162.3,36.5 1162.6,28.1 1162.9,21.6 1163.2,28.7 1163.4,30.1 1163.7,26.8 1164.0,31.3 1164.3,30.5 1164.6,23.8 1164.9,29.8 1165.2,17.8 1165.5,24.4 1165.8,27.3 1166.0,29.7 1166.3,28.0 1166.6,37.3 1166.9,25.7 1167.2,22.7 1167.5,24.1 1167.8,28.7 1168.1,23.9 1168.4,23.8 1168.7,27.3 1168.9,25.1 1169.2,21.9 1169.5,24.6 1169.8,28.4 1170.1,26.6 1170.4,26.0 1170.7,34.2 1171.0,26.3 1171.3,27.5 1171.5,37.1 1171.8,35.1 1172.1,19.0 1172.4,27.0 1172.7,21.5 1173.0,29.6 1173.3,21.0 1173.6,25.7 1173.9,31.7 1174.2,27.5 1174.4,21.7 1174.7,18.2 1175.0,27.1 1175.3,31.9 1175.6,34.1 1175.9,27.2 1176.2,25.6 1176.5,30.3 1176.8,31.7 1177.0,27.8 1177.3,29.6 1177.6,30.3 1177.9,39.5 1178.2,34.3 1178.5,24.4 1178.8,33.5 1179.1,22.5 1179.4,32.2 1179.6,35.6 1179.9,33.3 1180.2,32.1 1180.5,38.5 1180.8,34.4 1181.1,37.7 1181.4,29.3 1181.7,38.4 1182.0,36.0 1182.3,43.7 1182.5,43.3 1182.8,37.7 1183.1,41.8 1183.4,39.2 1183.7,37.0 1184.0,35.8 1184.3,45.2 1184.6,39.8 1184.9,36.2 1185.1,42.7 1185.4,45.9 1185.7,43.4 1186.0,32.9 1186.3,40.7 1186.6,33.8 1186.9,42.7 1187.2,36.1 1187.5,48.5 1187.8,43.3 1188.0,41.9 1188.3,34.4 1188.6,40.6 1188.9,37.8 1189.2,45.1 1189.5,45.2 1189.8,37.6 1190.1,37.0 1190.4,38.0 1190.6,38.2 1190.9,46.2 1191.2,45.5 1191.5,43.0 1191.8,37.9 1192.1,40.2 1192.4,51.8 1192.7,52.5 1193.0,50.8 1193.2,43.5 1193.5,38.0 1193.8,44.1 1194.1,38.9 1194.4,48.3 1194.7,45.2 1195.0,46.3 1195.3,41.8 1195.6,47.0 1195.9,41.9 1196.1,38.4 1196.4,43.0 1196.7,44.7 1197.0,42.4 1197.3,45.7 1197.6,44.5 1197.9,35.7 1198.2,37.6 1198.5,45.5 1198.7,39.9 1199.0,36.2 1199.3,34.3 1199.6,34.7 1199.9,32.9 1200.2,37.3 1200.5,37.0 1200.8,37.8 1201.1,31.3 1201.4,32.2 1201.6,27.7 1201.9,30.6 1202.2,39.3 1202.5,42.3 1202.8,41.7 1203.1,39.3 1203.4,32.2 1203.7,41.4 1204.0,44.2 1204.2,35.5 1204.5,30.8 1204.8,30.8 1205.1,37.9 1205.4,34.3 1205.7,36.6 1206.0,35.3 1206.3,40.0 1206.6,36.8 1206.8,27.6 1207.1,23.8 1207.4,27.5 1207.7,31.9 1208.0,34.3 1208.3,31.9 1208.6,41.8 1208.9,30.2 1209.2,29.2 1209.5,33.4 1209.7,32.6 1210.0,40.5 1210.3,28.9 1210.6,28.8 1210.9,44.3 1211.2,35.1 1211.5,30.7 1211.8,24.6 1212.1,36.3 1212.3,32.4 1212.6,25.4 1212.9,30.0 1213.2,33.3 1213.5,34.5 1213.8,32.4 1214.1,36.4 1214.4,28.3 1214.7,37.3 1215.0,30.9 1215.2,29.6 1215.5,28.7 1215.8,34.1 1216.1,34.9 1216.4,33.9 1216.7,35.5 1217.0,31.3 1217.3,48.8 1217.6,28.4 1217.8,26.2 1218.1,41.5 1218.4,37.1 1218.7,52.5 1219.0,36.7 1219.3,38.9 1219.6,42.6 1219.9,47.3 1220.2,43.2 1220.5,34.9 1220.7,37.7 1221.0,44.4 1221.3,50.2 1221.6,48.5 1221.9,53.3 1222.2,57.3 1222.5,56.5 1222.8,49.7 1223.1,52.4 1223.3,15.1 1223.6,62.5 1223.9,65.7 1224.2,52.3 1224.5,61.8 1224.8,52.8 1225.1,66.6 1225.4,55.8 1225.7,61.9 1225.9,67.9 1226.2,69.0 1226.5,51.2 1226.8,59.9 1227.1,71.0 1227.4,68.3 1227.7,85.3 1228.0,55.4 1228.3,59.1 1228.6,78.2 1228.8,70.3 1229.1,104.8 1229.4,66.5 1229.7,73.1 1230.0,76.6 1230.3,70.9 1230.6,78.4 1230.9,95.9 1231.2,93.9 1231.4,88.6 1231.7,75.3 1232.0,88.9 1232.3,100.4 1232.6,87.1 1232.9,112.3 1233.2,64.3 1233.5,92.7 1233.8,114.4 1234.1,98.1 1234.3,85.0 1234.6,95.2 1234.9,71.8 1235.2,131.2 1235.5,81.5 1235.8,110.8 1236.1,96.1 1236.4,82.2 1236.7,136.3 1236.9,141.8 1237.2,124.1 1237.5,149.7 1237.8,158.1 1238.1,118.5 1238.4,144.8 1238.7,131.9 1239.0,112.9 1239.3,70.4 1239.5,118.0 1239.8,132.6 1240.1,130.5 1240.4,118.5 1240.7,135.1 1241.0,114.1 1241.3,125.6 1241.6,110.3 1241.9,128.8 1242.2,135.0 1242.4,156.0 1242.7,167.9 1243.0,142.5 1243.3,145.9 1243.6,130.3 1243.9,140.0 1244.2,148.7 1244.5,82.8 1244.8,132.6 1245.0,110.5 1245.3,168.8 1245.6,117.1 1245.9,113.6 1246.2,133.2 1246.5,169.2 1246.8,113.5 1247.1,166.7 1247.4,189.8 1247.7,192.5 1247.9,148.2 1248.2,164.0 1248.5,129.8 1248.8,134.0 1249.1,115.6 1249.4,144.4 1249.7,151.2 1250.0,154.7 1250.3,177.4 1250.5,179.3 1250.8,177.1 1251.1,150.7 1251.4,181.6 1251.7,160.7 1252.0,128.1 1252.3,227.0 1252.6,184.5 1252.9,188.4 1253.1,160.8 1253.4,203.9 1253.7,180.8 1254.0,95.5 1254.3,202.0 1254.6,165.3 1254.9,157.1 1255.2,172.3 1255.5,199.3 1255.8,135.0 1256.0,221.3 1256.3,193.9 1256.6,172.4 1256.9,184.9 1257.2,131.6 1257.5,176.5 1257.8,110.4 1258.1,168.3 1258.4,289.2 1258.6,156.1 1258.9,176.8 1259.2,178.3 1259.5,138.9 1259.8,186.8 1260.1,171.6 1260.4,195.1 1260.7,277.6 1261.0,154.7 1261.3,151.9 1261.5,208.7 1261.8,157.2 1262.1,179.4 1262.4,230.7 1262.7,201.1 1263.0,151.6 1263.3,140.2 1263.6,160.0 1263.9,89.4 1264.1,161.1 1264.4,195.2 1264.7,217.6 1265.0,125.4 1265.3,186.3 1265.6,183.3 1265.9,197.0 1266.2,196.8 1266.5,182.6 1266.7,156.8 1267.0,154.1 1267.3,160.0 1267.6,141.3 1267.9,185.7 1268.2,202.2 1268.5,172.0 1268.8,234.1 1269.1,143.6 1269.4,154.0 1269.6,153.3 1269.9,203.4 1270.2,185.0 1270.5,168.9 1270.8,201.0 1271.1,203.4 1271.4,176.1 1271.7,164.9 1272.0,190.1 1272.2,137.5 1272.5,100.7 1272.8,151.4 1273.1,174.9 1273.4,179.2 1273.7,119.3 1274.0,159.6 1274.3,150.2 1274.6,162.0 1274.9,186.5 1275.1,122.0 1275.4,176.3 1275.7,164.1 1276.0,235.1 1276.3,101.8 1276.6,145.4 1276.9,171.6 1277.2,193.1 1277.5,187.5 1277.7,221.2 1278.0,154.1 1278.3,195.4 1278.6,155.3 1278.9,154.5 1279.2,109.2 1279.5,161.6 1279.8,159.0 1280.1,152.6 1280.3,187.0 1280.6,175.3 1280.9,157.7 1281.2,131.9 1281.5,144.4 1281.8,175.4 1282.1,129.6 1282.4,178.4 1282.7,213.3 1283.0,118.5 1283.2,165.6 1283.5,180.0 1283.8,202.7 1284.1,179.0 1284.4,113.9 1284.7,167.0 1285.0,97.2 1285.3,163.9 1285.6,130.0 1285.8,163.3 1286.1,178.1 1286.4,177.1 1286.7,172.1 1287.0,200.6 1287.3,201.4 1287.6,152.6 1287.9,125.6 1288.2,158.5 1288.5,161.6 1288.7,190.6 1289.0,196.0 1289.3,130.9 1289.6,197.6 1289.9,160.2 1290.2,172.3 1290.5,207.2 1290.8,113.4 1291.1,126.1 1291.3,152.0 1291.6,118.9 1291.9,176.6 1292.2,212.5 1292.5,120.4 1292.8,169.6 1293.1,151.5 1293.4,189.5 1293.7,140.9 1293.9,125.6 1294.2,189.3 1294.5,183.6 1294.8,162.1 1295.1,118.2 1295.4,175.0 1295.7,184.5 1296.0,162.8 1296.3,125.7 1296.6,204.8 1296.8,164.3 1297.1,120.4 1297.4,159.9 1297.7,167.2 1298.0,133.5 1298.3,194.2 1298.6,97.9 1298.9,144.2 1299.2,169.4 1299.4,155.5 1299.7,159.8 1300.0,166.2 1300.3,193.1 1300.6,164.5 1300.9,206.7 1301.2,117.4 1301.5,188.7 1301.8,177.0 1302.1,178.2 1302.3,135.2 1302.6,160.4 1302.9,114.7 1303.2,166.2 1303.5,149.0 1303.8,154.1 1304.1,160.8 1304.4,121.4 1304.7,118.0 1304.9,115.3 1305.2,184.2 1305.5,139.0 1305.8,175.3 1306.1,174.9 1306.4,189.8 1306.7,167.5 1307.0,129.0 1307.3,109.3 1307.5,100.6 1307.8,161.9 1308.1,154.1 1308.4,133.4 1308.7,134.5 1309.0,186.0 1309.3,174.6 1309.6,139.1 1309.9,121.4 1310.2,127.3 1310.4,134.3 1310.7,145.7 1311.0,131.2 1311.3,95.3 1311.6,116.4 1311.9,104.0 1312.2,90.7 1312.5,143.4 1312.8,107.6 1313.0,110.2 1313.3,92.3 1313.6,120.6 1313.9,118.7 1314.2,125.3 1314.5,108.5 1314.8,115.5 1315.1,111.9 1315.4,102.1 1315.7,113.4 1315.9,121.7 1316.2,111.7 1316.5,112.9 1316.8,95.7 1317.1,81.4 1317.4,106.4 1317.7,139.0 1318.0,89.9 1318.3,99.2 1318.5,111.8 1318.8,100.3 1319.1,67.9 1319.4,116.9 1319.7,111.0 1320.0,94.1 1320.3,128.6 1320.6,98.0 1320.9,77.4 1321.2,82.6 1321.4,84.2 1321.7,92.7 1322.0,89.5 1322.3,52.8 1322.6,82.7 1322.9,90.5 1323.2,99.2 1323.5,79.9 1323.8,77.6 1324.0,79.1 1324.3,104.8 1324.6,83.5 1324.9,88.3 1325.2,70.4 1325.5,83.6 1325.8,64.7 1326.1,92.2 1326.4,65.3 1326.6,66.5 1326.9,74.7 1327.2,77.2 1327.5,81.8 1327.8,66.6 1328.1,47.1 1328.4,54.0 1328.7,74.9 1329.0,51.1 1329.3,63.0 1329.5,52.2 1329.8,76.4 1330.1,58.2 1330.4,69.5 1330.7,52.5 1331.0,52.3 1331.3,45.7 1331.6,53.6 1331.9,41.9 1332.1,49.2 1332.4,41.0 1332.7,45.3 1333.0,40.0 1333.3,41.8 1333.6,47.5 1333.9,42.1 1334.2,49.8 1334.5,41.5 1334.8,39.1 1335.0,41.9 1335.3,40.7 1335.6,34.3 1335.9,32.6 1336.2,31.1 1336.5,40.1 1336.8,38.8 1337.1,32.5 1337.4,31.5 1337.6,43.6 1337.9,25.5 1338.2,28.8 1338.5,39.4 1338.8,27.9 1339.1,34.7 1339.4,32.9 1339.7,36.4 1340.0,35.3 1340.2,32.9 1340.5,40.7 1340.8,35.6 1341.1,30.5 1341.4,33.1 1341.7,32.1 1342.0,33.5 1342.3,32.0 1342.6,21.5 1342.9,36.2 1343.1,34.6 1343.4,28.6 1343.7,30.4 1344.0,32.8 1344.3,25.9 1344.6,33.0 1344.9,27.4 1345.2,22.8 1345.5,24.5 1345.7,28.3 1346.0,26.8 1346.3,25.8 1346.6,23.7 1346.9,30.8 1347.2,20.4 1347.5,22.6 1347.8,17.3 1348.1,21.9 1348.4,20.9 1348.6,42.1 1348.9,27.5 1349.2,16.7 1349.5,23.4 1349.8,27.2 1350.1,21.7 1350.4,24.4 1350.7,22.9 1351.0,28.0 1351.2,22.0 1351.5,17.3 1351.8,23.1 1352.1,22.0 1352.4,27.2 1352.7,21.5 1353.0,25.5 1353.3,29.8 1353.6,25.3 1353.8,24.3 1354.1,20.5 1354.4,18.6 1354.7,23.8 1355.0,24.5 1355.3,19.7 1355.6,26.9 1355.9,24.1 1356.2,23.6 1356.5,23.3 1356.7,25.3 1357.0,14.9 1357.3,18.0 1357.6,23.3 1357.9,29.2 1358.2,24.9 1358.5,19.8 1358.8,31.7 1359.1,12.0 1359.3,22.9 1359.6,22.8 1359.9,19.6 1360.2,29.3 1360.5,22.3 1360.8,15.1 1361.1,19.3 1361.4,27.4 1361.7,19.7 1362.0,17.1 1362.2,21.3 1362.5,25.2 1362.8,26.7 1363.1,31.1 1363.4,25.4 1363.7,20.4 1364.0,15.7 1364.3,17.9 1364.6,17.2 1364.8,25.1 1365.1,24.9 1365.4,30.2 1365.7,26.1 1366.0,28.3 1366.3,24.2 1366.6,19.8 1366.9,23.6 1367.2,24.6 1367.4,19.8 1367.7,16.0 1368.0,18.0 1368.3,31.3 1368.6,15.0 1368.9,25.4 1369.2,30.2 1369.5,25.1 1369.8,18.7 1370.1,35.7 1370.3,17.3 1370.6,22.6 1370.9,21.0 1371.2,40.7 1371.5,26.5 1371.8,29.4 1372.1,18.4 1372.4,27.8 1372.7,22.4 1372.9,27.4 1373.2,32.3 1373.5,20.3 1373.8,18.9 1374.1,17.4 1374.4,27.4 1374.7,24.7 1375.0,21.7 1375.3,23.5 1375.6,24.2 1375.8,14.1 1376.1,27.5 1376.4,21.3 1376.7,28.3 1377.0,19.0 1377.3,27.3 1377.6,31.0 1377.9,22.8 1378.2,26.4 1378.4,28.8 1378.7,28.3 1379.0,30.5 1379.3,25.2 1379.6,26.4 1379.9,20.2 1380.2,31.9 1380.5,22.0 1380.8,26.5 1381.0,36.4 1381.3,22.5 1381.6,38.9 1381.9,28.0 1382.2,39.9 1382.5,29.8 1382.8,33.3 1383.1,33.1 1383.4,41.4 1383.7,36.1 1383.9,26.8 1384.2,29.8 1384.5,33.4 1384.8,34.0 1385.1,36.8 1385.4,26.6 1385.7,34.1 1386.0,28.8 1386.3,41.7 1386.5,42.2 1386.8,27.9 1387.1,39.2 1387.4,36.0 1387.7,32.8 1388.0,30.8 1388.3,32.4 1388.6,33.0 1388.9,27.8 1389.2,34.9 1389.4,31.8 1389.7,36.3 1390.0,35.9 1390.3,27.3 1390.6,38.3 1390.9,50.0 1391.2,37.0 1391.5,36.6 1391.8,28.5 1392.0,39.8 1392.3,43.9 1392.6,37.6 1392.9,28.9 1393.2,40.2 1393.5,32.1 1393.8,36.1 1394.1,35.5 1394.4,43.2 1394.6,38.6 1394.9,43.2 1395.2,39.1 1395.5,42.7 1395.8,33.5 1396.1,41.9 1396.4,40.3 1396.7,50.5 1397.0,44.0 1397.3,26.1 1397.5,40.6 1397.8,46.6 1398.1,38.1 1398.4,39.0 1398.7,40.1 1399.0,38.7 1399.3,39.3 1399.6,31.6 1399.9,42.4 1400.1,34.7 1400.4,31.1 1400.7,39.9 1401.0,23.1 1401.3,34.4 1401.6,35.0 1401.9,37.2 1402.2,30.0 1402.5,42.4 1402.8,30.9 1403.0,22.2 1403.3,32.1 1403.6,29.4 1403.9,38.7 1404.2,29.6 1404.5,37.8 1404.8,36.1 1405.1,33.7 1405.4,23.5 1405.6,36.8 1405.9,44.0 1406.2,32.9 1406.5,29.4 1406.8,30.0 1407.1,32.3 1407.4,26.2 1407.7,28.7 1408.0,29.0 1408.2,35.8 1408.5,41.4 1408.8,24.7 1409.1,38.1 1409.4,26.4 1409.7,27.0 1410.0,50.8 1410.3,46.7 1410.6,31.6 1410.9,28.8 1411.1,39.7 1411.4,36.5 1411.7,41.0 1412.0,42.5 1412.3,35.8 1412.6,39.6 1412.9,48.7 1413.2,35.9 1413.5,40.9 1413.7,41.6 1414.0,47.5 1414.3,36.7 1414.6,39.7 1414.9,40.3 1415.2,43.0 1415.5,41.2 1415.8,34.9 1416.1,43.3 1416.4,43.6 1416.6,48.0 1416.9,42.3 1417.2,48.0 1417.5,51.4 1417.8,41.3 1418.1,49.5 1418.4,54.2 1418.7,54.0 1419.0,53.6 1419.2,57.6 1419.5,42.8 1419.8,48.6 1420.1,61.7 1420.4,46.1 1420.7,56.7 1421.0,53.2 1421.3,58.2 1421.6,53.4 1421.9,54.2 1422.1,52.1 1422.4,52.1 1422.7,77.6 1423.0,63.2 1423.3,60.3 1423.6,62.4 1423.9,72.9 1424.2,65.1 1424.5,64.2 1424.7,80.2 1425.0,71.2 1425.3,58.2 1425.6,71.6 1425.9,67.2 1426.2,66.2 1426.5,62.0 1426.8,60.3 1427.1,57.6 1427.3,66.9 1427.6,66.6 1427.9,70.4 1428.2,67.4 1428.5,71.1 1428.8,62.5 1429.1,63.4 1429.4,86.3 1429.7,96.8 1430.0,67.7 1430.2,79.0 1430.5,91.4 1430.8,63.1 1431.1,57.1 1431.4,89.0 1431.7,87.5 1432.0,85.0 1432.3,87.3 1432.6,79.6 1432.8,93.1 1433.1,79.8 1433.4,85.5 1433.7,67.4 1434.0,83.3 1434.3,70.8 1434.6,63.2 1434.9,77.2 1435.2,76.2 1435.5,92.8 1435.7,86.8 1436.0,55.4 1436.3,69.0 1436.6,88.9 1436.9,96.1 1437.2,93.5 1437.5,75.9 1437.8,123.7 1438.1,90.1 1438.3,114.8 1438.6,73.6 1438.9,118.6 1439.2,82.8 1439.5,102.6 1439.8,98.4 1440.1,72.8 1440.4,100.3 1440.7,89.7 1440.9,95.2 1441.2,121.7 1441.5,103.7 1441.8,87.0 1442.1,98.3 1442.4,101.6 1442.7,118.2 1443.0,78.9 1443.3,117.0 1443.6,75.3 1443.8,104.9 1444.1,96.1 1444.4,135.7 1444.7,108.2 1445.0,128.7 1445.3,110.0 1445.6,89.2 1445.9,106.0 1446.2,108.5 1446.4,95.1 1446.7,138.0 1447.0,113.1 1447.3,127.8 1447.6,94.4 1447.9,131.1 1448.2,84.8 1448.5,76.6 1448.8,161.9 1449.1,122.4 1449.3,193.5 1449.6,94.6 1449.9,139.1 1450.2,108.3 1450.5,115.5 1450.8,175.1 1451.1,155.6 1451.4,100.1 1451.7,137.4 1451.9,119.3 1452.2,95.0 1452.5,126.9 1452.8,133.5 1453.1,149.7 1453.4,118.0 1453.7,146.6 1454.0,166.2 1454.3,142.9 1454.5,144.5 1454.8,167.0 1455.1,137.5 1455.4,115.1 1455.7,121.0 1456.0,89.9 1456.3,110.0 1456.6,129.8 1456.9,180.6 1457.2,131.8 1457.4,110.6 1457.7,143.8 1458.0,107.1 1458.3,159.1 1458.6,133.7 1458.9,179.2 1459.2,103.2 1459.5,142.0 1459.8,98.3 1460.0,149.5 1460.3,181.5 1460.6,144.9 1460.9,112.3 1461.2,150.4 1461.5,107.0 1461.8,148.0 1462.1,101.9 1462.4,247.5 1462.7,93.6 1462.9,189.7 1463.2,146.1 1463.5,171.3 1463.8,138.2 1464.1,150.3 1464.4,152.3 1464.7,131.8 1465.0,124.6 1465.3,153.5 1465.5,118.9 1465.8,185.1 1466.1,170.4 1466.4,177.3 1466.7,136.4 1467.0,126.9 1467.3,156.8 1467.6,161.7 1467.9,174.2 1468.1,132.5 1468.4,122.2 1468.7,160.2 1469.0,151.8 1469.3,156.8 1469.6,148.4 1469.9,137.5 1470.2,197.2 1470.5,159.8 1470.8,129.6 1471.0,168.0 1471.3,119.4 1471.6,116.1 1471.9,168.6 1472.2,165.2 1472.5,118.0 1472.8,184.0 1473.1,170.8 1473.4,183.6 1473.6,146.6 1473.9,139.2 1474.2,136.2 1474.5,140.7 1474.8,178.2 1475.1,120.6 1475.4,148.2 1475.7,155.6 1476.0,108.3 1476.3,189.8 1476.5,138.7 1476.8,127.8 1477.1,101.4 1477.4,146.7 1477.7,130.9 1478.0,198.4 1478.3,168.0 1478.6,100.0 1478.9,101.4 1479.1,149.3 1479.4,165.8 1479.7,176.3 1480.0,172.5 1480.3,158.4 1480.6,184.1 1480.9,147.7 1481.2,148.9 1481.5,172.6 1481.7,174.0 1482.0,170.9 1482.3,155.5 1482.6,149.3 1482.9,131.5 1483.2,183.0 1483.5,151.6 1483.8,142.9 1484.1,136.3 1484.4,124.3 1484.6,151.9 1484.9,115.4 1485.2,92.0 1485.5,132.4 1485.8,107.8 1486.1,120.1 1486.4,131.3 1486.7,145.4 1487.0,134.9 1487.2,95.9 1487.5,138.2 1487.8,156.1 1488.1,149.7 1488.4,122.2 1488.7,151.9 1489.0,118.7 1489.3,122.2 1489.6,132.3 1489.9,102.1 1490.1,163.3 1490.4,147.2 1490.7,138.9 1491.0,126.8 1491.3,162.0 1491.6,145.5 1491.9,107.0 1492.2,141.0 1492.5,113.9 1492.7,136.7 1493.0,146.4 1493.3,120.7 1493.6,104.6 1493.9,130.7 1494.2,186.2 1494.5,143.7 1494.8,136.7 1495.1,132.4 1495.3,144.7 1495.6,113.0 1495.9,145.5 1496.2,106.2 1496.5,143.8 1496.8,141.4 1497.1,101.5 1497.4,108.3 1497.7,126.8 1498.0,130.5 1498.2,122.6 1498.5,116.6 1498.8,111.9 1499.1,96.5 1499.4,128.9 1499.7,112.8 1500.0,110.6 1500.3,134.6 1500.6,89.1 1500.8,79.2 1501.1,107.3 1501.4,136.3 1501.7,119.0 1502.0,88.0 1502.3,137.4 1502.6,135.6 1502.9,109.5 1503.2,92.2 1503.5,85.3 1503.7,81.5 1504.0,136.3 1504.3,106.2 1504.6,111.6 1504.9,110.9 1505.2,81.8 1505.5,86.8 1505.8,104.4 1506.1,88.3 1506.3,87.8 1506.6,70.6 1506.9,98.0 1507.2,79.1 1507.5,98.9 1507.8,80.6 1508.1,87.0 1508.4,81.8 1508.7,85.0 1508.9,62.1 1509.2,93.5 1509.5,96.0 1509.8,89.8 1510.1,74.6 1510.4,70.4 1510.7,80.4 1511.0,88.1 1511.3,83.9 1511.6,87.0 1511.8,70.4 1512.1,76.6 1512.4,72.8 1512.7,74.5 1513.0,73.8 1513.3,59.5 1513.6,79.9 1513.9,67.9 1514.2,67.1 1514.4,81.3 1514.7,51.8 1515.0,68.7 1515.3,84.8 1515.6,59.1 1515.9,85.7 1516.2,61.5 1516.5,71.8 1516.8,73.1 1517.1,66.8 1517.3,83.7 1517.6,65.9 1517.9,66.5 1518.2,57.0 1518.5,68.9 1518.8,59.5 1519.1,81.2 1519.4,73.6 1519.7,56.7 1519.9,49.1 1520.2,54.8 1520.5,79.6 1520.8,74.3 1521.1,69.5 1521.4,50.1 1521.7,68.6 1522.0,59.7 1522.3,57.0 1522.6,56.7 1522.8,62.4 1523.1,57.4 1523.4,52.0 1523.7,76.8 1524.0,59.9 1524.3,51.6 1524.6,44.5 1524.9,35.3 1525.2,68.4 1525.4,55.0 1525.7,56.2 1526.0,66.6 1526.3,58.9 1526.6,62.0 1526.9,64.3 1527.2,60.6 1527.5,49.6 1527.8,63.4 1528.0,58.8 1528.3,55.1 1528.6,61.9 1528.9,63.4 1529.2,66.0 1529.5,58.7 1529.8,41.2 1530.1,65.5 1530.4,45.1 1530.7,58.5 1530.9,58.3 1531.2,44.8 1531.5,46.2 1531.8,45.3 1532.1,49.8 1532.4,43.1 1532.7,53.6 1533.0,46.2 1533.3,41.5 1533.5,48.4 1533.8,53.7 1534.1,35.7 1534.4,48.6 1534.7,53.4 1535.0,42.1 1535.3,37.4 1535.6,41.9 1535.9,53.2 1536.2,44.6 1536.4,42.6 1536.7,40.2 1537.0,53.1 1537.3,51.7 1537.6,42.0 1537.9,42.8 1538.2,39.7 1538.5,35.0 1538.8,50.3 1539.0,48.5 1539.3,44.8 1539.6,31.7 1539.9,41.8 1540.2,34.4 1540.5,54.0 1540.8,38.2 1541.1,33.7 1541.4,30.4 1541.6,42.5 1541.9,26.2 1542.2,42.3 1542.5,28.7 1542.8,27.0 1543.1,36.8 1543.4,43.5 1543.7,23.2 1544.0,33.1 1544.3,41.5 1544.5,31.7 1544.8,39.9 1545.1,32.9 1545.4,39.4 1545.7,45.4 1546.0,29.1 1546.3,36.2 1546.6,32.9 1546.9,31.3 1547.1,32.5 1547.4,34.9 1547.7,29.0 1548.0,27.4 1548.3,29.1 1548.6,31.7 1548.9,29.4 1549.2,21.6 1549.5,22.9 1549.8,29.9 1550.0,25.3 1550.3,25.1 1550.6,24.8 1550.9,27.2 1551.2,24.7 1551.5,28.4 1551.8,23.1 1552.1,23.7 1552.4,22.7 1552.6,22.5 1552.9,22.8 1553.2,29.0 1553.5,30.6 1553.8,24.1 1554.1,26.4 1554.4,20.9 1554.7,27.1 1555.0,26.1 1555.2,30.0 1555.5,24.1 1555.8,25.1 1556.1,17.8 1556.4,22.6 1556.7,16.2 1557.0,25.9 1557.3,29.6 1557.6,17.1 1557.9,27.9 1558.1,14.5 1558.4,24.5 1558.7,29.2 1559.0,13.8 1559.3,30.9" fill="none" stroke="#f0393c" stroke-width="2.4" stroke-linejoin="round" /><polyline points="921.7,566.0 922.0,319.0 922.3,203.8 922.5,190.4 922.8,144.9 923.1,149.9 923.4,106.1 923.7,128.6 924.0,122.3 924.3,79.5 924.6,69.0 924.9,51.5 925.2,83.2 925.4,73.5 925.7,90.9 926.0,137.2 926.3,145.2 926.6,202.2 926.9,99.4 927.2,168.9 927.5,119.3 927.8,150.0 928.1,96.1 928.3,106.5 928.6,143.1 928.9,100.0 929.2,175.0 929.5,99.6 929.8,182.8 930.1,121.6 930.4,95.9 930.7,117.5 931.0,130.8 931.2,139.1 931.5,122.1 931.8,80.9 932.1,82.7 932.4,109.7 932.7,131.0 933.0,80.9 933.3,128.2 933.6,103.6 933.9,104.9 934.1,71.4 934.4,79.8 934.7,73.8 935.0,75.6 935.3,89.7 935.6,69.0 935.9,55.5 936.2,74.7 936.5,64.8 936.8,72.9 937.0,58.6 937.3,61.7 937.6,58.6 937.9,63.1 938.2,49.8 938.5,68.0 938.8,66.7 939.1,68.1 939.4,57.4 939.7,66.7 939.9,66.2 940.2,55.7 940.5,52.6 940.8,56.5 941.1,76.8 941.4,65.7 941.7,66.0 942.0,66.3 942.3,61.4 942.6,48.8 942.8,60.3 943.1,62.4 943.4,54.6 943.7,57.7 944.0,57.3 944.3,61.3 944.6,57.6 944.9,55.1 945.2,67.2 945.5,65.4 945.7,51.2 946.0,52.2 946.3,59.0 946.6,61.5 946.9,57.0 947.2,62.0 947.5,57.4 947.8,46.9 948.1,54.6 948.4,49.0 948.6,56.0 948.9,52.8 949.2,47.4 949.5,61.1 949.8,55.9 950.1,54.7 950.4,52.3 950.7,45.7 951.0,49.9 951.3,60.9 951.5,54.5 951.8,57.5 952.1,57.5 952.4,42.4 952.7,57.9 953.0,51.2 953.3,55.9 953.6,47.8 953.9,50.3 954.2,51.3 954.4,52.2 954.7,46.0 955.0,56.3 955.3,55.2 955.6,57.0 955.9,44.6 956.2,52.6 956.5,56.3 956.8,53.1 957.1,38.3 957.3,51.3 957.6,46.4 957.9,48.3 958.2,50.6 958.5,53.9 958.8,52.0 959.1,52.0 959.4,61.2 959.7,37.3 960.0,45.5 960.2,49.5 960.5,51.1 960.8,54.0 961.1,45.3 961.4,50.9 961.7,47.6 962.0,57.0 962.3,48.3 962.6,40.3 962.9,51.9 963.1,46.6 963.4,50.6 963.7,45.5 964.0,46.0 964.3,51.2 964.6,54.5 964.9,50.6 965.2,52.1 965.5,55.7 965.8,50.7 966.0,51.1 966.3,58.0 966.6,54.5 966.9,41.4 967.2,50.5 967.5,54.3 967.8,42.7 968.1,57.6 968.4,67.9 968.7,65.4 968.9,63.7 969.2,55.2 969.5,51.9 969.8,67.7 970.1,51.8 970.4,63.7 970.7,56.6 971.0,55.9 971.3,56.4 971.6,58.9 971.8,58.5 972.1,65.4 972.4,58.8 972.7,55.8 973.0,56.6 973.3,48.9 973.6,57.2 973.9,59.8 974.2,56.3 974.5,64.5 974.7,73.4 975.0,79.5 975.3,63.5 975.6,68.5 975.9,68.6 976.2,76.0 976.5,74.1 976.8,67.8 977.1,77.0 977.3,85.8 977.6,83.5 977.9,75.3 978.2,89.2 978.5,98.1 978.8,97.8 979.1,94.0 979.4,83.8 979.7,88.7 980.0,94.3 980.2,98.2 980.5,92.9 980.8,94.2 981.1,97.4 981.4,96.7 981.7,100.5 982.0,87.2 982.3,111.4 982.6,98.3 982.9,105.6 983.1,96.7 983.4,102.9 983.7,100.2 984.0,100.0 984.3,102.7 984.6,98.8 984.9,113.6 985.2,100.4 985.5,108.1 985.8,105.2 986.0,98.7 986.3,102.0 986.6,97.4 986.9,124.1 987.2,116.8 987.5,105.5 987.8,119.2 988.1,113.9 988.4,102.5 988.7,108.3 988.9,120.7 989.2,112.2 989.5,111.5 989.8,115.8 990.1,117.4 990.4,116.4 990.7,127.8 991.0,117.5 991.3,125.3 991.6,116.8 991.8,117.0 992.1,126.4 992.4,116.7 992.7,119.0 993.0,122.1 993.3,117.4 993.6,124.9 993.9,125.2 994.2,123.1 994.5,124.5 994.7,116.6 995.0,141.5 995.3,127.6 995.6,140.0 995.9,129.9 996.2,125.0 996.5,127.2 996.8,120.8 997.1,125.8 997.4,146.9 997.6,137.1 997.9,118.2 998.2,118.6 998.5,129.6 998.8,142.1 999.1,115.3 999.4,147.0 999.7,129.7 1000.0,132.7 1000.3,130.9 1000.5,141.8 1000.8,136.4 1001.1,125.6 1001.4,137.6 1001.7,144.6 1002.0,134.5 1002.3,133.8 1002.6,135.7 1002.9,140.8 1003.2,130.7 1003.4,136.0 1003.7,144.2 1004.0,133.5 1004.3,135.5 1004.6,134.3 1004.9,148.7 1005.2,141.6 1005.5,132.1 1005.8,128.4 1006.1,133.0 1006.3,134.5 1006.6,130.1 1006.9,128.1 1007.2,121.9 1007.5,132.1 1007.8,140.3 1008.1,132.0 1008.4,151.3 1008.7,135.3 1009.0,139.3 1009.2,135.8 1009.5,131.5 1009.8,134.6 1010.1,146.2 1010.4,136.9 1010.7,139.8 1011.0,132.8 1011.3,129.0 1011.6,138.7 1011.9,124.2 1012.1,118.7 1012.4,130.4 1012.7,121.4 1013.0,138.2 1013.3,129.7 1013.6,116.7 1013.9,137.6 1014.2,126.4 1014.5,128.3 1014.8,110.6 1015.0,109.2 1015.3,121.8 1015.6,114.4 1015.9,134.3 1016.2,105.5 1016.5,107.8 1016.8,98.5 1017.1,126.1 1017.4,103.1 1017.7,107.1 1017.9,123.1 1018.2,106.9 1018.5,100.8 1018.8,92.8 1019.1,96.4 1019.4,100.9 1019.7,92.6 1020.0,95.9 1020.3,99.2 1020.6,101.2 1020.8,91.5 1021.1,90.7 1021.4,77.3 1021.7,93.8 1022.0,77.8 1022.3,86.4 1022.6,79.7 1022.9,94.4 1023.2,93.5 1023.5,88.7 1023.7,79.4 1024.0,84.0 1024.3,79.3 1024.6,81.9 1024.9,76.3 1025.2,81.7 1025.5,86.3 1025.8,78.5 1026.1,80.9 1026.4,68.9 1026.6,81.7 1026.9,79.4 1027.2,81.8 1027.5,71.3 1027.8,72.8 1028.1,73.9 1028.4,86.4 1028.7,87.7 1029.0,75.3 1029.3,71.9 1029.5,66.5 1029.8,87.9 1030.1,76.7 1030.4,86.4 1030.7,81.2 1031.0,76.0 1031.3,68.0 1031.6,77.4 1031.9,78.3 1032.2,75.4 1032.4,65.1 1032.7,57.5 1033.0,82.5 1033.3,74.2 1033.6,75.0 1033.9,64.7 1034.2,69.2 1034.5,62.1 1034.8,77.9 1035.1,71.3 1035.3,74.0 1035.6,77.8 1035.9,71.8 1036.2,77.9 1036.5,56.8 1036.8,67.5 1037.1,76.0 1037.4,73.2 1037.7,58.4 1038.0,71.6 1038.2,63.8 1038.5,63.9 1038.8,60.0 1039.1,62.1 1039.4,66.5 1039.7,68.0 1040.0,74.4 1040.3,62.8 1040.6,60.7 1040.9,62.9 1041.1,60.6 1041.4,66.3 1041.7,44.6 1042.0,60.3 1042.3,62.8 1042.6,59.3 1042.9,55.8 1043.2,49.3 1043.5,68.0 1043.8,48.9 1044.0,55.0 1044.3,51.4 1044.6,43.2 1044.9,43.9 1045.2,52.1 1045.5,47.9 1045.8,35.2 1046.1,38.0 1046.4,40.7 1046.7,45.9 1046.9,40.0 1047.2,43.6 1047.5,49.5 1047.8,52.4 1048.1,43.1 1048.4,44.1 1048.7,39.2 1049.0,49.9 1049.3,38.5 1049.5,49.6 1049.8,39.9 1050.1,44.5 1050.4,51.7 1050.7,54.3 1051.0,49.5 1051.3,50.7 1051.6,43.6 1051.9,54.0 1052.2,59.1 1052.4,50.4 1052.7,38.7 1053.0,40.8 1053.3,55.0 1053.6,53.1 1053.9,49.7 1054.2,56.0 1054.5,53.6 1054.8,54.0 1055.1,59.0 1055.3,56.5 1055.6,55.8 1055.9,51.6 1056.2,60.5 1056.5,52.7 1056.8,59.6 1057.1,58.7 1057.4,60.8 1057.7,38.0 1058.0,46.5 1058.2,46.1 1058.5,49.5 1058.8,56.1 1059.1,54.4 1059.4,53.2 1059.7,52.4 1060.0,51.7 1060.3,46.1 1060.6,71.7 1060.9,59.3 1061.1,51.8 1061.4,58.4 1061.7,57.3 1062.0,47.4 1062.3,55.6 1062.6,45.9 1062.9,57.4 1063.2,55.8 1063.5,64.1 1063.8,69.9 1064.0,60.4 1064.3,57.7 1064.6,60.4 1064.9,66.7 1065.2,54.6 1065.5,58.4 1065.8,58.9 1066.1,64.0 1066.4,49.2 1066.7,50.5 1066.9,57.9 1067.2,60.7 1067.5,58.6 1067.8,49.9 1068.1,44.6 1068.4,60.8 1068.7,63.7 1069.0,72.5 1069.3,45.5 1069.6,68.6 1069.8,56.7 1070.1,59.2 1070.4,54.3 1070.7,68.2 1071.0,73.1 1071.3,62.5 1071.6,61.2 1071.9,57.0 1072.2,74.9 1072.5,67.6 1072.7,66.8 1073.0,73.9 1073.3,67.0 1073.6,61.4 1073.9,67.0 1074.2,76.1 1074.5,65.5 1074.8,62.8 1075.1,65.2 1075.4,64.1 1075.6,79.7 1075.9,67.1 1076.2,66.7 1076.5,73.2 1076.8,71.7 1077.1,76.6 1077.4,64.7 1077.7,74.6 1078.0,79.2 1078.3,72.8 1078.5,73.9 1078.8,71.2 1079.1,81.2 1079.4,80.9 1079.7,75.1 1080.0,64.4 1080.3,76.1 1080.6,88.1 1080.9,79.3 1081.2,85.8 1081.4,93.1 1081.7,86.5 1082.0,86.3 1082.3,80.7 1082.6,75.5 1082.9,77.0 1083.2,79.3 1083.5,87.1 1083.8,83.6 1084.1,84.8 1084.3,75.7 1084.6,88.3 1084.9,87.4 1085.2,74.4 1085.5,79.7 1085.8,85.6 1086.1,81.3 1086.4,80.8 1086.7,80.0 1087.0,75.6 1087.2,77.6 1087.5,80.3 1087.8,81.6 1088.1,88.4 1088.4,79.7 1088.7,69.2 1089.0,74.1 1089.3,78.8 1089.6,75.6 1089.9,78.7 1090.1,70.9 1090.4,59.6 1090.7,60.1 1091.0,63.1 1091.3,64.8 1091.6,70.1 1091.9,75.4 1092.2,66.7 1092.5,68.5 1092.8,59.6 1093.0,62.7 1093.3,66.3 1093.6,58.9 1093.9,44.8 1094.2,65.6 1094.5,52.1 1094.8,54.8 1095.1,58.5 1095.4,62.1 1095.7,56.9 1095.9,55.4 1096.2,51.9 1096.5,52.3 1096.8,54.7 1097.1,60.9 1097.4,54.8 1097.7,59.6 1098.0,63.2 1098.3,51.2 1098.6,60.8 1098.8,64.1 1099.1,56.2 1099.4,68.6 1099.7,57.1 1100.0,54.0 1100.3,59.3 1100.6,55.3 1100.9,43.4 1101.2,47.9 1101.5,51.0 1101.7,53.0 1102.0,59.9 1102.3,57.6 1102.6,58.5 1102.9,56.6 1103.2,56.0 1103.5,61.8 1103.8,46.8 1104.1,63.2 1104.4,54.5 1104.6,50.4 1104.9,57.0 1105.2,60.9 1105.5,56.6 1105.8,44.8 1106.1,53.0 1106.4,58.7 1106.7,53.4 1107.0,58.3 1107.3,68.8 1107.5,55.8 1107.8,51.0 1108.1,50.5 1108.4,58.2 1108.7,66.7 1109.0,50.7 1109.3,59.3 1109.6,54.0 1109.9,51.8 1110.2,56.9 1110.4,59.6 1110.7,63.3 1111.0,62.3 1111.3,59.7 1111.6,63.0 1111.9,58.2 1112.2,72.7 1112.5,67.1 1112.8,61.3 1113.1,65.7 1113.3,65.0 1113.6,68.9 1113.9,58.0 1114.2,52.4 1114.5,69.0 1114.8,56.0 1115.1,72.4 1115.4,62.9 1115.7,76.4 1116.0,61.4 1116.2,64.7 1116.5,64.3 1116.8,58.0 1117.1,62.3 1117.4,66.5 1117.7,71.8 1118.0,66.8 1118.3,71.8 1118.6,70.6 1118.9,59.3 1119.1,63.4 1119.4,67.5 1119.7,65.8 1120.0,79.0 1120.3,69.9 1120.6,81.4 1120.9,75.5 1121.2,69.5 1121.5,69.9 1121.7,68.4 1122.0,72.2 1122.3,73.3 1122.6,74.1 1122.9,65.8 1123.2,67.0 1123.5,84.5 1123.8,75.2 1124.1,68.5 1124.4,78.6 1124.6,76.2 1124.9,81.8 1125.2,86.0 1125.5,78.4 1125.8,82.3 1126.1,81.4 1126.4,90.0 1126.7,88.8 1127.0,83.2 1127.3,85.9 1127.5,80.7 1127.8,91.6 1128.1,81.8 1128.4,83.8 1128.7,87.9 1129.0,85.7 1129.3,91.4 1129.6,93.2 1129.9,93.3 1130.2,102.0 1130.4,95.4 1130.7,91.0 1131.0,106.6 1131.3,93.0 1131.6,101.6 1131.9,100.1 1132.2,97.3 1132.5,96.2 1132.8,89.1 1133.1,98.0 1133.3,86.0 1133.6,95.7 1133.9,92.2 1134.2,90.2 1134.5,97.6 1134.8,99.5 1135.1,90.9 1135.4,86.3 1135.7,84.2 1136.0,90.7 1136.2,76.4 1136.5,86.3 1136.8,87.7 1137.1,74.1 1137.4,71.4 1137.7,82.4 1138.0,69.0 1138.3,79.6 1138.6,69.5 1138.9,54.0 1139.1,58.5 1139.4,61.0 1139.7,60.3 1140.0,68.3 1140.3,60.2 1140.6,58.6 1140.9,66.8 1141.2,58.3 1141.5,55.3 1141.8,56.6 1142.0,54.5 1142.3,57.8 1142.6,62.7 1142.9,54.9 1143.2,66.3 1143.5,58.3 1143.8,46.6 1144.1,41.8 1144.4,49.8 1144.7,66.7 1144.9,43.1 1145.2,47.6 1145.5,51.7 1145.8,45.6 1146.1,46.5 1146.4,56.9 1146.7,57.2 1147.0,42.5 1147.3,62.7 1147.6,44.6 1147.8,46.1 1148.1,41.7 1148.4,36.7 1148.7,39.0 1149.0,37.4 1149.3,41.7 1149.6,43.4 1149.9,39.7 1150.2,46.2 1150.5,51.6 1150.7,46.3 1151.0,55.6 1151.3,49.0 1151.6,32.8 1151.9,42.3 1152.2,46.5 1152.5,49.0 1152.8,56.2 1153.1,48.5 1153.4,49.9 1153.6,45.1 1153.9,44.5 1154.2,45.4 1154.5,56.7 1154.8,35.9 1155.1,42.1 1155.4,44.7 1155.7,46.7 1156.0,42.0 1156.3,37.0 1156.5,40.9 1156.8,51.7 1157.1,52.3 1157.4,59.1 1157.7,43.8 1158.0,40.1 1158.3,37.0 1158.6,43.7 1158.9,39.5 1159.2,50.1 1159.4,41.3 1159.7,45.2 1160.0,48.6 1160.3,54.8 1160.6,37.3 1160.9,58.4 1161.2,40.6 1161.5,49.4 1161.8,40.7 1162.1,47.9 1162.3,39.8 1162.6,45.8 1162.9,50.9 1163.2,47.7 1163.5,54.4 1163.8,42.8 1164.1,38.1 1164.4,42.0 1164.7,43.9 1165.0,36.6 1165.2,51.8 1165.5,41.2 1165.8,44.6 1166.1,47.6 1166.4,41.3 1166.7,51.8 1167.0,45.6 1167.3,42.7 1167.6,52.0 1167.9,46.3 1168.1,41.6 1168.4,39.0 1168.7,50.8 1169.0,39.4 1169.3,46.8 1169.6,44.5 1169.9,48.5 1170.2,40.3 1170.5,49.6 1170.8,43.5 1171.0,43.0 1171.3,40.8 1171.6,52.0 1171.9,40.9 1172.2,45.6 1172.5,37.0 1172.8,48.3 1173.1,49.8 1173.4,46.8 1173.7,48.6 1173.9,47.9 1174.2,54.9 1174.5,60.1 1174.8,56.5 1175.1,51.3 1175.4,45.3 1175.7,50.1 1176.0,54.3 1176.3,49.6 1176.6,48.5 1176.8,33.0 1177.1,41.5 1177.4,48.5 1177.7,58.8 1178.0,51.2 1178.3,52.3 1178.6,47.2 1178.9,37.8 1179.2,51.6 1179.5,63.6 1179.7,52.4 1180.0,62.3 1180.3,47.0 1180.6,45.6 1180.9,50.6 1181.2,62.1 1181.5,54.3 1181.8,45.9 1182.1,59.8 1182.4,57.5 1182.6,52.5 1182.9,51.3 1183.2,54.1 1183.5,52.8 1183.8,53.9 1184.1,59.1 1184.4,56.4 1184.7,54.4 1185.0,63.3 1185.3,55.7 1185.5,56.6 1185.8,54.7 1186.1,55.8 1186.4,64.7 1186.7,66.4 1187.0,57.4 1187.3,60.3 1187.6,59.1 1187.9,63.5 1188.2,68.3 1188.4,59.1 1188.7,61.9 1189.0,57.6 1189.3,55.0 1189.6,55.3 1189.9,56.2 1190.2,68.5 1190.5,75.9 1190.8,66.9 1191.1,70.8 1191.3,71.7 1191.6,59.7 1191.9,73.9 1192.2,58.5 1192.5,57.5 1192.8,48.3 1193.1,58.0 1193.4,51.6 1193.7,68.5 1194.0,68.8 1194.2,58.4 1194.5,72.4 1194.8,57.0 1195.1,65.3 1195.4,75.3 1195.7,51.2 1196.0,68.9 1196.3,45.9 1196.6,69.8 1196.8,65.2 1197.1,57.9 1197.4,58.4 1197.7,67.5 1198.0,56.4 1198.3,55.2 1198.6,52.9 1198.9,65.1 1199.2,58.3 1199.5,54.8 1199.7,48.8 1200.0,52.5 1200.3,55.3 1200.6,55.5 1200.9,43.6 1201.2,57.4 1201.5,50.2 1201.8,65.2 1202.1,41.1 1202.4,48.5 1202.6,62.0 1202.9,47.2 1203.2,42.2 1203.5,45.5 1203.8,49.9 1204.1,44.9 1204.4,54.5 1204.7,51.3 1205.0,51.8 1205.3,48.9 1205.5,55.7 1205.8,40.6 1206.1,49.7 1206.4,55.4 1206.7,49.9 1207.0,46.1 1207.3,47.9 1207.6,41.3 1207.9,50.1 1208.2,52.5 1208.4,44.5 1208.7,39.5 1209.0,53.2 1209.3,56.8 1209.6,50.8 1209.9,47.2 1210.2,52.9 1210.5,45.4 1210.8,51.5 1211.1,40.5 1211.3,53.2 1211.6,51.4 1211.9,45.1 1212.2,41.2 1212.5,39.6 1212.8,49.4 1213.1,44.9 1213.4,41.5 1213.7,35.9 1214.0,50.1 1214.2,52.1 1214.5,41.3 1214.8,45.7 1215.1,35.8 1215.4,43.8 1215.7,41.8 1216.0,48.6 1216.3,41.9 1216.6,36.0 1216.9,45.0 1217.1,50.8 1217.4,37.9 1217.7,45.2 1218.0,42.9 1218.3,47.6 1218.6,37.3 1218.9,47.7 1219.2,46.0 1219.5,43.0 1219.8,44.3 1220.0,56.9 1220.3,40.1 1220.6,50.2 1220.9,41.5 1221.2,45.5 1221.5,43.9 1221.8,47.7 1222.1,49.8 1222.4,42.4 1222.7,42.0 1222.9,37.1 1223.2,40.1 1223.5,47.8 1223.8,36.3 1224.1,30.0 1224.4,39.3 1224.7,45.0 1225.0,49.8 1225.3,43.4 1225.6,52.9 1225.8,39.3 1226.1,46.6 1226.4,47.9 1226.7,42.9 1227.0,52.2 1227.3,55.4 1227.6,47.5 1227.9,37.5 1228.2,50.4 1228.5,40.1 1228.7,57.0 1229.0,46.4 1229.3,43.1 1229.6,35.6 1229.9,57.8 1230.2,47.7 1230.5,53.2 1230.8,46.1 1231.1,51.8 1231.4,48.2 1231.6,53.9 1231.9,53.1 1232.2,47.6 1232.5,41.3 1232.8,49.6 1233.1,50.5 1233.4,54.5 1233.7,42.4 1234.0,64.5 1234.3,65.2 1234.5,58.1 1234.8,51.1 1235.1,48.4 1235.4,51.2 1235.7,50.5 1236.0,54.6 1236.3,59.0 1236.6,63.1 1236.9,54.4 1237.2,63.5 1237.4,55.6 1237.7,54.1 1238.0,63.0 1238.3,62.5 1238.6,63.6 1238.9,56.6 1239.2,60.4 1239.5,66.0 1239.8,60.8 1240.1,53.7 1240.3,61.8 1240.6,63.4 1240.9,67.3 1241.2,71.3 1241.5,66.3 1241.8,66.7 1242.1,69.8 1242.4,61.5 1242.7,71.0 1243.0,71.3 1243.2,69.9 1243.5,68.6 1243.8,83.6 1244.1,71.6 1244.4,66.1 1244.7,81.1 1245.0,72.4 1245.3,78.2 1245.6,81.4 1245.9,73.8 1246.1,76.1 1246.4,88.1 1246.7,78.6 1247.0,69.5 1247.3,77.5 1247.6,77.7 1247.9,74.6 1248.2,74.1 1248.5,65.8 1248.8,74.4 1249.0,75.2 1249.3,64.2 1249.6,59.5 1249.9,60.0 1250.2,57.9 1250.5,65.7 1250.8,69.5 1251.1,63.5 1251.4,58.2 1251.7,67.3 1251.9,57.7 1252.2,51.3 1252.5,58.2 1252.8,41.0 1253.1,47.9 1253.4,59.3 1253.7,58.3 1254.0,55.1 1254.3,45.9 1254.6,46.9 1254.8,52.7 1255.1,47.7 1255.4,43.4 1255.7,44.6 1256.0,57.1 1256.3,53.5 1256.6,52.0 1256.9,56.5 1257.2,40.3 1257.5,49.1 1257.7,48.8 1258.0,49.5 1258.3,42.2 1258.6,40.3 1258.9,39.3 1259.2,35.5 1259.5,48.5 1259.8,32.6 1260.1,27.1 1260.4,45.2 1260.6,43.9 1260.9,37.8 1261.2,33.7 1261.5,42.7 1261.8,45.8 1262.1,28.0 1262.4,43.6 1262.7,56.2 1263.0,36.8 1263.3,33.8 1263.5,29.2 1263.8,28.7 1264.1,23.2 1264.4,42.6 1264.7,45.0 1265.0,47.8 1265.3,28.2 1265.6,41.2 1265.9,48.7 1266.2,50.9 1266.4,37.4 1266.7,40.7 1267.0,36.0 1267.3,43.2 1267.6,42.4 1267.9,34.9 1268.2,39.0 1268.5,34.2 1268.8,38.5 1269.0,39.5 1269.3,35.5 1269.6,39.8 1269.9,36.8 1270.2,35.2 1270.5,41.2 1270.8,38.9 1271.1,37.7 1271.4,34.3 1271.7,37.2 1271.9,37.3 1272.2,36.1 1272.5,41.1 1272.8,37.1 1273.1,44.1 1273.4,50.9 1273.7,37.4 1274.0,52.2 1274.3,41.3 1274.6,31.1 1274.8,36.3 1275.1,47.2 1275.4,36.6 1275.7,39.8 1276.0,46.6 1276.3,42.2 1276.6,45.1 1276.9,43.9 1277.2,40.1 1277.5,51.8 1277.7,37.2 1278.0,30.3 1278.3,43.7 1278.6,48.9 1278.9,45.6 1279.2,35.7 1279.5,46.5 1279.8,40.7 1280.1,29.8 1280.4,48.4 1280.6,43.5 1280.9,47.8 1281.2,46.7 1281.5,43.9 1281.8,49.4 1282.1,42.2 1282.4,44.1 1282.7,38.2 1283.0,41.3 1283.3,43.4 1283.5,36.7 1283.8,47.3 1284.1,42.4 1284.4,50.4 1284.7,37.8 1285.0,51.2 1285.3,41.0 1285.6,51.5 1285.9,46.0 1286.2,54.0 1286.4,52.4 1286.7,53.7 1287.0,45.3 1287.3,45.0 1287.6,43.8 1287.9,46.1 1288.2,50.0 1288.5,44.9 1288.8,39.6 1289.1,51.7 1289.3,54.1 1289.6,46.3 1289.9,37.5 1290.2,50.7 1290.5,52.4 1290.8,56.9 1291.1,55.3 1291.4,56.9 1291.7,57.3 1292.0,45.2 1292.2,44.1 1292.5,51.5 1292.8,51.7 1293.1,47.5 1293.4,52.7 1293.7,52.3 1294.0,49.6 1294.3,53.7 1294.6,45.8 1294.9,38.7 1295.1,54.2 1295.4,52.7 1295.7,59.7 1296.0,57.6 1296.3,54.6 1296.6,52.8 1296.9,56.8 1297.2,63.3 1297.5,53.9 1297.8,59.8 1298.0,54.3 1298.3,58.5 1298.6,58.2 1298.9,58.2 1299.2,71.1 1299.5,50.8 1299.8,64.2 1300.1,56.7 1300.4,55.8 1300.7,63.0 1300.9,68.1 1301.2,56.5 1301.5,66.2 1301.8,61.1 1302.1,58.0 1302.4,64.0 1302.7,71.8 1303.0,65.6 1303.3,58.6 1303.6,66.8 1303.8,56.5 1304.1,71.5 1304.4,68.1 1304.7,73.0 1305.0,68.2 1305.3,53.1 1305.6,58.9 1305.9,63.9 1306.2,65.8 1306.5,54.6 1306.7,62.1 1307.0,66.9 1307.3,50.8 1307.6,67.8 1307.9,57.9 1308.2,54.5 1308.5,51.8 1308.8,44.9 1309.1,51.1 1309.4,59.8 1309.6,47.8 1309.9,52.3 1310.2,60.9 1310.5,59.4 1310.8,57.1 1311.1,64.9 1311.4,48.4 1311.7,47.1 1312.0,47.2 1312.3,54.9 1312.5,49.7 1312.8,41.7 1313.1,46.3 1313.4,49.1 1313.7,52.4 1314.0,47.7 1314.3,39.3 1314.6,46.6 1314.9,32.3 1315.2,31.2 1315.4,41.4 1315.7,55.5 1316.0,46.8 1316.3,37.1 1316.6,48.1 1316.9,48.7 1317.2,44.1 1317.5,28.2 1317.8,46.9 1318.1,55.9 1318.3,42.0 1318.6,41.2 1318.9,38.9 1319.2,43.0 1319.5,41.2 1319.8,46.1 1320.1,37.2 1320.4,43.2 1320.7,39.8 1321.0,47.4 1321.2,34.2 1321.5,41.2 1321.8,45.3 1322.1,42.3 1322.4,49.3 1322.7,46.1 1323.0,37.3 1323.3,38.5 1323.6,37.0 1323.9,37.8 1324.1,43.8 1324.4,41.4 1324.7,30.3 1325.0,42.6 1325.3,51.3 1325.6,41.9 1325.9,44.4 1326.2,42.4 1326.5,41.6 1326.8,48.1 1327.0,39.1 1327.3,42.6 1327.6,37.9 1327.9,45.8 1328.2,47.6 1328.5,44.1 1328.8,31.2 1329.1,52.5 1329.4,34.6 1329.7,41.6 1329.9,34.1 1330.2,43.6 1330.5,38.7 1330.8,38.8 1331.1,27.9 1331.4,41.7 1331.7,39.4 1332.0,45.5 1332.3,38.9 1332.6,45.3 1332.8,41.4 1333.1,38.3 1333.4,37.1 1333.7,46.1 1334.0,45.9 1334.3,33.2 1334.6,43.6 1334.9,39.2 1335.2,42.0 1335.5,50.0 1335.7,40.9 1336.0,41.0 1336.3,29.3 1336.6,51.9 1336.9,43.4 1337.2,36.4 1337.5,43.5 1337.8,53.5 1338.1,36.5 1338.4,39.4 1338.6,45.8 1338.9,46.9 1339.2,45.2 1339.5,40.1 1339.8,42.7 1340.1,45.9 1340.4,40.1 1340.7,36.1 1341.0,46.6 1341.2,33.7 1341.5,43.6 1341.8,40.5 1342.1,42.0 1342.4,42.0 1342.7,44.1 1343.0,59.9 1343.3,52.3 1343.6,41.6 1343.9,53.9 1344.1,47.3 1344.4,58.1 1344.7,52.8 1345.0,40.1 1345.3,48.5 1345.6,55.8 1345.9,54.9 1346.2,61.9 1346.5,49.2 1346.8,54.0 1347.0,48.5 1347.3,48.6 1347.6,55.8 1347.9,60.4 1348.2,62.6 1348.5,58.3 1348.8,56.4 1349.1,48.7 1349.4,63.7 1349.7,55.8 1349.9,65.7 1350.2,63.6 1350.5,56.0 1350.8,58.4 1351.1,65.5 1351.4,67.0 1351.7,57.0 1352.0,65.6 1352.3,67.0 1352.6,72.3 1352.8,51.1 1353.1,55.8 1353.4,64.5 1353.7,54.6 1354.0,65.7 1354.3,71.3 1354.6,66.3 1354.9,61.3 1355.2,77.2 1355.5,63.0 1355.7,63.5 1356.0,61.7 1356.3,68.1 1356.6,64.2 1356.9,81.7 1357.2,71.3 1357.5,64.5 1357.8,67.2 1358.1,68.6 1358.4,77.6 1358.6,70.6 1358.9,79.8 1359.2,70.2 1359.5,66.2 1359.8,70.9 1360.1,64.2 1360.4,66.5 1360.7,60.4 1361.0,67.4 1361.3,74.5 1361.5,71.7 1361.8,68.0 1362.1,62.6 1362.4,61.3 1362.7,65.7 1363.0,59.8 1363.3,63.8 1363.6,55.2 1363.9,66.6 1364.2,50.6 1364.4,55.4 1364.7,59.0 1365.0,62.6 1365.3,52.0 1365.6,58.6 1365.9,50.4 1366.2,42.7 1366.5,52.5 1366.8,51.7 1367.1,49.5 1367.3,55.8 1367.6,40.2 1367.9,53.1 1368.2,47.2 1368.5,49.0 1368.8,54.3 1369.1,42.0 1369.4,47.8 1369.7,53.8 1370.0,53.5 1370.2,61.0 1370.5,55.5 1370.8,43.5 1371.1,43.2 1371.4,53.8 1371.7,44.0 1372.0,41.7 1372.3,42.7 1372.6,39.5 1372.9,58.7 1373.1,45.6 1373.4,52.5 1373.7,42.3 1374.0,50.8 1374.3,45.5 1374.6,40.5 1374.9,55.4 1375.2,49.6 1375.5,49.7 1375.8,45.5 1376.0,54.8 1376.3,40.2 1376.6,33.0 1376.9,46.4 1377.2,41.4 1377.5,60.8 1377.8,51.7 1378.1,40.2 1378.4,42.4 1378.7,40.0 1378.9,35.8 1379.2,43.3 1379.5,45.4 1379.8,46.7 1380.1,43.2 1380.4,56.8 1380.7,34.7 1381.0,57.2 1381.3,53.7 1381.6,43.5 1381.8,38.3 1382.1,40.8 1382.4,35.0 1382.7,47.1 1383.0,48.5 1383.3,41.3 1383.6,51.7 1383.9,43.7 1384.2,42.0 1384.5,43.5 1384.7,58.0 1385.0,47.1 1385.3,58.5 1385.6,40.8 1385.9,49.0 1386.2,40.4 1386.5,38.6 1386.8,55.2 1387.1,41.5 1387.4,44.9 1387.6,38.3 1387.9,55.5 1388.2,55.7 1388.5,52.9 1388.8,59.6 1389.1,47.6 1389.4,53.0 1389.7,47.5 1390.0,46.7 1390.3,43.8 1390.5,57.2 1390.8,44.7 1391.1,44.9 1391.4,55.6 1391.7,53.4 1392.0,58.7 1392.3,42.3 1392.6,41.7 1392.9,55.3 1393.2,50.9 1393.4,47.9 1393.7,46.1 1394.0,51.0 1394.3,40.5 1394.6,56.6 1394.9,45.6 1395.2,50.4 1395.5,49.3 1395.8,55.7 1396.1,61.9 1396.3,54.6 1396.6,48.6 1396.9,56.7 1397.2,62.1 1397.5,52.8 1397.8,52.0 1398.1,58.1 1398.4,52.7 1398.7,49.6 1399.0,50.9 1399.2,46.6 1399.5,45.0 1399.8,52.6 1400.1,57.4 1400.4,63.2 1400.7,46.4 1401.0,50.5 1401.3,46.5 1401.6,57.7 1401.9,52.0 1402.1,57.8 1402.4,58.4 1402.7,61.8 1403.0,54.3 1403.3,50.0 1403.6,48.2 1403.9,51.6 1404.2,54.8 1404.5,40.7 1404.8,43.7 1405.0,46.9 1405.3,52.3 1405.6,45.4 1405.9,58.0 1406.2,61.2 1406.5,49.5 1406.8,52.4 1407.1,47.0 1407.4,58.3 1407.7,51.7 1407.9,60.0 1408.2,55.8 1408.5,50.8 1408.8,54.2 1409.1,59.6 1409.4,62.8 1409.7,56.3 1410.0,59.7 1410.3,63.0 1410.6,53.7 1410.8,60.0 1411.1,46.7 1411.4,41.9 1411.7,47.9 1412.0,38.7 1412.3,62.6 1412.6,65.9 1412.9,56.4 1413.2,66.5 1413.4,55.0 1413.7,50.6 1414.0,51.5 1414.3,50.5 1414.6,57.9 1414.9,57.2 1415.2,55.5 1415.5,57.5 1415.8,51.6 1416.1,60.0 1416.3,57.9 1416.6,62.1 1416.9,52.0 1417.2,57.3 1417.5,57.4 1417.8,61.3 1418.1,69.3 1418.4,61.2 1418.7,71.8 1419.0,58.9 1419.2,66.1 1419.5,50.7 1419.8,62.4 1420.1,58.8 1420.4,61.2 1420.7,65.0 1421.0,67.3 1421.3,73.0 1421.6,61.3 1421.9,69.5 1422.1,49.8 1422.4,64.3 1422.7,59.8 1423.0,55.9 1423.3,56.3 1423.6,47.8 1423.9,55.0 1424.2,57.2 1424.5,54.6 1424.8,44.1 1425.0,48.4 1425.3,64.9 1425.6,53.8 1425.9,57.9 1426.2,51.9 1426.5,47.9 1426.8,51.4 1427.1,47.4 1427.4,40.5 1427.7,61.3 1427.9,50.5 1428.2,49.6 1428.5,46.9 1428.8,48.7 1429.1,43.4 1429.4,48.8 1429.7,45.7 1430.0,57.6 1430.3,46.6 1430.6,55.0 1430.8,43.7 1431.1,36.2 1431.4,47.0 1431.7,43.8 1432.0,41.6 1432.3,37.4 1432.6,40.8 1432.9,37.8 1433.2,48.4 1433.5,45.4 1433.7,53.7 1434.0,31.0 1434.3,51.6 1434.6,38.6 1434.9,43.1 1435.2,43.2 1435.5,50.9 1435.8,43.8 1436.1,42.9 1436.4,40.7 1436.6,45.1 1436.9,41.4 1437.2,48.6 1437.5,35.2 1437.8,46.5 1438.1,26.4 1438.4,44.1 1438.7,46.0 1439.0,40.8 1439.3,42.6 1439.5,35.0 1439.8,34.0 1440.1,45.3 1440.4,45.4 1440.7,45.9 1441.0,38.3 1441.3,35.1 1441.6,37.0 1441.9,41.9 1442.2,40.8 1442.4,36.9 1442.7,33.4 1443.0,41.2 1443.3,33.8 1443.6,43.0 1443.9,39.8 1444.2,34.0 1444.5,46.3 1444.8,51.6 1445.1,47.8 1445.3,41.9 1445.6,47.3 1445.9,41.8 1446.2,32.6 1446.5,43.2 1446.8,32.9 1447.1,35.7 1447.4,47.5 1447.7,35.1 1448.0,35.7 1448.2,35.0 1448.5,39.8 1448.8,39.4 1449.1,44.5 1449.4,46.5 1449.7,41.6 1450.0,37.0 1450.3,45.2 1450.6,31.7 1450.9,44.6 1451.1,40.1 1451.4,50.5 1451.7,33.0 1452.0,38.4 1452.3,35.2 1452.6,50.8 1452.9,34.9 1453.2,41.2 1453.5,48.2 1453.8,47.2 1454.0,54.4 1454.3,46.6 1454.6,40.5 1454.9,51.6 1455.2,44.5 1455.5,54.6 1455.8,64.0 1456.1,49.2 1456.4,39.5 1456.7,41.7 1456.9,53.6 1457.2,42.2 1457.5,44.0 1457.8,48.5 1458.1,53.5 1458.4,45.6 1458.7,52.7 1459.0,55.1 1459.3,46.8 1459.6,58.1 1459.8,50.2 1460.1,45.9 1460.4,59.9 1460.7,55.4 1461.0,53.9 1461.3,68.7 1461.6,61.7 1461.9,62.8 1462.2,63.5 1462.5,66.3 1462.7,53.8 1463.0,68.0 1463.3,63.8 1463.6,60.3 1463.9,55.0 1464.2,75.2 1464.5,74.0 1464.8,73.1 1465.1,69.1 1465.4,62.0 1465.6,69.1 1465.9,67.9 1466.2,59.8 1466.5,71.5 1466.8,68.8 1467.1,58.0 1467.4,65.5 1467.7,74.2 1468.0,74.5 1468.3,63.6 1468.5,77.4 1468.8,75.7 1469.1,65.0 1469.4,61.3 1469.7,58.8 1470.0,74.6 1470.3,64.8 1470.6,83.6 1470.9,71.9 1471.2,50.1 1471.4,55.4 1471.7,59.8 1472.0,69.1 1472.3,70.2 1472.6,54.7 1472.9,61.6 1473.2,64.7 1473.5,54.3 1473.8,53.6 1474.1,61.2 1474.3,58.7 1474.6,41.4 1474.9,60.3 1475.2,47.2 1475.5,57.0 1475.8,57.2 1476.1,57.6 1476.4,51.3 1476.7,50.1 1477.0,44.9 1477.2,53.6 1477.5,46.1 1477.8,51.9 1478.1,52.7 1478.4,44.1 1478.7,45.0 1479.0,57.0 1479.3,46.5 1479.6,58.6 1479.9,53.7 1480.1,37.0 1480.4,38.8 1480.7,48.0 1481.0,42.9 1481.3,38.7 1481.6,35.8 1481.9,35.7 1482.2,50.9 1482.5,46.4 1482.8,45.3 1483.0,60.9 1483.3,50.5 1483.6,43.3 1483.9,47.0 1484.2,49.3 1484.5,52.7 1484.8,49.0 1485.1,45.5 1485.4,47.2 1485.7,38.1 1485.9,40.0 1486.2,52.9 1486.5,39.1 1486.8,44.6 1487.1,39.9 1487.4,48.6 1487.7,38.9 1488.0,48.7 1488.3,37.9 1488.5,44.3 1488.8,45.6 1489.1,52.0 1489.4,53.7 1489.7,38.3 1490.0,50.4 1490.3,50.6 1490.6,40.8 1490.9,43.0 1491.2,39.4 1491.4,51.0 1491.7,55.9 1492.0,48.3 1492.3,36.4 1492.6,42.7 1492.9,39.6 1493.2,39.0 1493.5,41.1 1493.8,41.0 1494.1,43.2 1494.3,40.5 1494.6,39.8 1494.9,45.7 1495.2,37.9 1495.5,41.6 1495.8,42.0 1496.1,42.4 1496.4,36.0 1496.7,42.3 1497.0,34.0 1497.2,47.5 1497.5,37.8 1497.8,50.9 1498.1,41.1 1498.4,44.5 1498.7,44.3 1499.0,47.9 1499.3,41.8 1499.6,38.4 1499.9,53.1 1500.1,42.7 1500.4,40.9 1500.7,38.4 1501.0,40.1 1501.3,49.1 1501.6,36.5 1501.9,48.1 1502.2,39.9 1502.5,41.9 1502.8,46.8 1503.0,49.0 1503.3,44.9 1503.6,35.0 1503.9,40.1 1504.2,47.7 1504.5,39.9 1504.8,34.3 1505.1,31.5 1505.4,55.4 1505.7,40.6 1505.9,40.2 1506.2,50.4 1506.5,57.1 1506.8,38.0 1507.1,48.8 1507.4,56.1 1507.7,52.9 1508.0,42.0 1508.3,33.2 1508.6,41.1 1508.8,52.3 1509.1,39.4 1509.4,58.9 1509.7,41.5 1510.0,42.1 1510.3,37.0 1510.6,42.2 1510.9,41.4 1511.2,47.9 1511.5,50.9 1511.7,48.8 1512.0,37.4 1512.3,53.0 1512.6,50.0 1512.9,52.7 1513.2,46.0 1513.5,47.4 1513.8,38.0 1514.1,37.4 1514.4,44.0 1514.6,45.7 1514.9,52.2 1515.2,60.8 1515.5,50.8 1515.8,51.8 1516.1,59.2 1516.4,51.1 1516.7,46.7 1517.0,58.4 1517.3,47.7 1517.5,50.8 1517.8,56.9 1518.1,53.0 1518.4,49.3 1518.7,55.3 1519.0,54.7 1519.3,46.4 1519.6,51.3 1519.9,51.7 1520.2,58.3 1520.4,51.0 1520.7,46.3 1521.0,61.6 1521.3,66.2 1521.6,61.2 1521.9,57.2 1522.2,62.8 1522.5,67.3 1522.8,46.9 1523.1,59.8 1523.3,62.5 1523.6,73.9 1523.9,52.2 1524.2,67.7 1524.5,50.1 1524.8,55.0 1525.1,57.3 1525.4,60.2 1525.7,53.1 1526.0,62.8 1526.2,57.1 1526.5,62.7 1526.8,61.8 1527.1,50.2 1527.4,53.3 1527.7,66.2 1528.0,66.0 1528.3,60.6 1528.6,61.9 1528.9,58.3 1529.1,63.9 1529.4,68.3 1529.7,56.8 1530.0,63.6 1530.3,58.1 1530.6,68.1 1530.9,53.2 1531.2,61.0 1531.5,61.2 1531.8,60.5 1532.0,72.7 1532.3,58.4 1532.6,65.9 1532.9,69.6 1533.2,60.0 1533.5,51.4 1533.8,66.2 1534.1,51.9 1534.4,75.0 1534.7,59.0 1534.9,64.2 1535.2,58.5 1535.5,46.3 1535.8,55.0 1536.1,68.1 1536.4,49.1 1536.7,64.4 1537.0,60.9 1537.3,62.6 1537.6,55.6 1537.8,56.7 1538.1,45.4 1538.4,53.0 1538.7,50.4 1539.0,55.4 1539.3,47.0 1539.6,60.3 1539.9,62.5 1540.2,47.6 1540.5,48.2 1540.7,52.4 1541.0,38.3 1541.3,57.8 1541.6,43.0 1541.9,42.1 1542.2,59.2 1542.5,47.8 1542.8,46.1 1543.1,51.6 1543.4,51.4 1543.6,50.7 1543.9,55.6 1544.2,58.6 1544.5,44.8 1544.8,48.1 1545.1,49.1 1545.4,45.8 1545.7,54.0 1546.0,52.8 1546.3,43.5 1546.5,48.3 1546.8,45.1 1547.1,41.2 1547.4,36.8 1547.7,53.2 1548.0,51.0 1548.3,56.2 1548.6,51.4 1548.9,43.7 1549.2,50.0 1549.4,32.9 1549.7,49.0 1550.0,57.3 1550.3,51.6 1550.6,32.7 1550.9,51.2 1551.2,45.8 1551.5,50.3 1551.8,51.9 1552.1,37.6 1552.3,52.0 1552.6,55.6 1552.9,48.8 1553.2,48.1 1553.5,40.9 1553.8,42.7 1554.1,35.5 1554.4,44.2 1554.7,40.0 1555.0,39.3 1555.2,35.8 1555.5,49.5 1555.8,43.7 1556.1,57.6 1556.4,46.0 1556.7,48.4 1557.0,46.0 1557.3,30.6 1557.6,33.6 1557.9,49.1 1558.1,28.2 1558.4,31.1 1558.7,37.6 1559.0,39.1 1559.3,39.0" fill="none" stroke="#1b63dc" stroke-width="2.4" stroke-linejoin="round" /></g>
<path d="M96.7,540.65h5M96.7,515.40h10M96.7,490.15h5M96.7,464.90h10M96.7,439.65h5M96.7,414.40h10M96.7,389.15h5M96.7,363.90h10M96.7,338.65h5M96.7,313.40h10M96.7,288.15h5M96.7,262.90h10M96.7,237.65h5M96.7,212.40h10M96.7,187.15h5M96.7,161.90h10M96.7,136.65h5M96.7,111.40h10M96.7,86.15h5M96.7,60.90h10M96.7,35.65h5M97.00,566.5v-10M162.70,566.5v-5M228.40,566.5v-10M294.10,566.5v-5M359.80,566.5v-10M425.50,566.5v-5M491.20,566.5v-10M556.90,566.5v-5M622.60,566.5v-10M688.30,566.5v-5M754.00,566.5v-10M902.0,535.14h5M902.0,504.28h10M902.0,473.42h5M902.0,442.56h10M902.0,411.69h5M902.0,380.83h10M902.0,349.97h5M902.0,319.11h10M902.0,288.25h5M902.0,257.39h10M902.0,226.53h5M902.0,195.67h10M902.0,164.81h5M902.0,133.95h10M902.0,103.08h5M902.0,72.22h10M902.0,41.36h5M908.00,566.5v-10M973.13,566.5v-5M1038.26,566.5v-10M1103.39,566.5v-5M1168.52,566.5v-10M1233.65,566.5v-5M1298.78,566.5v-10M1363.91,566.5v-5M1429.04,566.5v-10M1494.17,566.5v-5M1559.30,566.5v-10" stroke="#000" stroke-width="2" fill="none"/>
<rect x="96.7" y="10.4" width="690.3" height="556.1" fill="none" stroke="#000" stroke-width="2"/>
<rect x="902.0" y="10.5" width="689.5" height="556.0" fill="none" stroke="#000" stroke-width="2"/>
<text x="85.7" y="574.1" text-anchor="end" font-size="26.3">0.00</text>
<text x="85.7" y="523.6" text-anchor="end" font-size="26.3">0.05</text>
<text x="85.7" y="473.1" text-anchor="end" font-size="26.3">0.10</text>
<text x="85.7" y="422.6" text-anchor="end" font-size="26.3">0.15</text>
<text x="85.7" y="372.1" text-anchor="end" font-size="26.3">0.20</text>
<text x="85.7" y="321.6" text-anchor="end" font-size="26.3">0.25</text>
<text x="85.7" y="271.1" text-anchor="end" font-size="26.3">0.30</text>
<text x="85.7" y="220.6" text-anchor="end" font-size="26.3">0.35</text>
<text x="85.7" y="170.1" text-anchor="end" font-size="26.3">0.40</text>
<text x="85.7" y="119.6" text-anchor="end" font-size="26.3">0.45</text>
<text x="85.7" y="69.1" text-anchor="end" font-size="26.3">0.50</text>
<text x="85.7" y="18.6" text-anchor="end" font-size="26.3">0.55</text>
<text x="890.7" y="574.2" text-anchor="end" font-size="26.3">0</text>
<text x="890.7" y="512.5" text-anchor="end" font-size="26.3">200</text>
<text x="890.7" y="450.8" text-anchor="end" font-size="26.3">400</text>
<text x="890.7" y="389.0" text-anchor="end" font-size="26.3">600</text>
<text x="890.7" y="327.3" text-anchor="end" font-size="26.3">800</text>
<text x="890.7" y="265.6" text-anchor="end" font-size="26.3">1000</text>
<text x="890.7" y="203.9" text-anchor="end" font-size="26.3">1200</text>
<text x="890.7" y="142.2" text-anchor="end" font-size="26.3">1400</text>
<text x="890.7" y="80.4" text-anchor="end" font-size="26.3">1600</text>
<text x="890.7" y="18.7" text-anchor="end" font-size="26.3">1800</text>
<text x="97.0" y="603" text-anchor="middle" font-size="26.3">0.0</text>
<text x="908.0" y="603" text-anchor="middle" font-size="26.3">0.0</text>
<text x="228.4" y="603" text-anchor="middle" font-size="26.3">2.0×10<tspan dx="1" dy="-11" font-size="19">6</tspan></text>
<text x="1038.3" y="603" text-anchor="middle" font-size="26.3">2.0×10<tspan dx="1" dy="-11" font-size="19">6</tspan></text>
<text x="359.8" y="603" text-anchor="middle" font-size="26.3">4.0×10<tspan dx="1" dy="-11" font-size="19">6</tspan></text>
<text x="1168.5" y="603" text-anchor="middle" font-size="26.3">4.0×10<tspan dx="1" dy="-11" font-size="19">6</tspan></text>
<text x="491.2" y="603" text-anchor="middle" font-size="26.3">6.0×10<tspan dx="1" dy="-11" font-size="19">6</tspan></text>
<text x="1298.8" y="603" text-anchor="middle" font-size="26.3">6.0×10<tspan dx="1" dy="-11" font-size="19">6</tspan></text>
<text x="622.6" y="603" text-anchor="middle" font-size="26.3">8.0×10<tspan dx="1" dy="-11" font-size="19">6</tspan></text>
<text x="1429.0" y="603" text-anchor="middle" font-size="26.3">8.0×10<tspan dx="1" dy="-11" font-size="19">6</tspan></text>
<text x="754.0" y="603" text-anchor="middle" font-size="26.3">1.0×10<tspan dx="1" dy="-11" font-size="19">7</tspan></text>
<text x="1559.3" y="603" text-anchor="middle" font-size="26.3">1.0×10<tspan dx="1" dy="-11" font-size="19">7</tspan></text>
<text x="442" y="646.5" text-anchor="middle" font-size="29.5">Time steps</text>
<text x="1247" y="646.5" text-anchor="middle" font-size="29.5">Time steps</text>
<text transform="translate(28,289) rotate(-90)" text-anchor="middle" font-size="29.5">Thrust (N)</text>
<text transform="translate(825.5,288.5) rotate(-90)" text-anchor="middle" font-size="29">Specific Impulse (s)</text>
<text x="-1" y="642" font-size="40">(a)</text>
<text x="803.5" y="642" font-size="40">(b)</text>
<line x1="605.3" y1="54" x2="665" y2="54" stroke="#404040" stroke-width="2"/><text x="671.5" y="63.0" font-size="26.3">DSMC</text><line x1="605.3" y1="86" x2="665" y2="86" stroke="#f0393c" stroke-width="2"/><text x="671.5" y="95.0" font-size="26.3">CLNA</text><line x1="605.3" y1="118" x2="665" y2="118" stroke="#1b63dc" stroke-width="2"/><text x="671.5" y="127.0" font-size="26.3">FA</text>
<line x1="1360.2" y1="354.4" x2="1419.1" y2="354.4" stroke="#404040" stroke-width="2"/><text x="1426" y="363.4" font-size="26.3">DSMC</text><line x1="1360.2" y1="386.4" x2="1419.1" y2="386.4" stroke="#f0393c" stroke-width="2"/><text x="1426" y="395.4" font-size="26.3">CLNA</text><line x1="1360.2" y1="418.4" x2="1419.1" y2="418.4" stroke="#1b63dc" stroke-width="2"/><text x="1426" y="427.4" font-size="26.3">FA</text>
</svg></body></html>
